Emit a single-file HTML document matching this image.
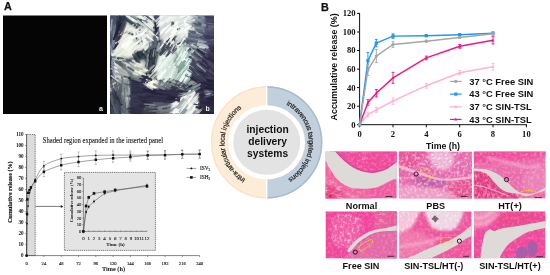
<!DOCTYPE html>
<html><head><meta charset="utf-8"><title>injection delivery systems</title>
<style>
html,body{margin:0;padding:0;background:#fff;}
body{width:550px;height:275px;overflow:hidden;position:relative;}
svg{position:absolute;left:0;top:0;display:block;}
.sb{font-family:"Liberation Sans",Arial,sans-serif;font-weight:bold;fill:#111;}
.ss{font-family:"Liberation Sans",Arial,sans-serif;fill:#222;}
.tb{font-family:"Liberation Serif","Times New Roman",serif;font-weight:bold;fill:#111;}
.tr{font-family:"Liberation Serif","Times New Roman",serif;fill:#222;}
</style></head><body>
<svg width="550" height="275" viewBox="0 0 550 275">
<defs>
<filter id="bl1" x="-5%" y="-5%" width="110%" height="110%"><feGaussianBlur stdDeviation="0.7"/></filter>
<filter id="bl2" x="-5%" y="-5%" width="110%" height="110%"><feGaussianBlur stdDeviation="1.2"/></filter>
<clipPath id="cb"><rect x="110" y="15.5" width="104" height="98.5"/></clipPath>
</defs>

<text x="3.9" y="10.4" class="sb" font-size="10.8" stroke="#111" stroke-width="0.25">A</text>
<rect x="3" y="15.5" width="104" height="98.5" fill="#050505"/>
<text x="99" y="110.5" class="sb" font-size="7" style="fill:#eee">a</text>
<g id="imgb" clip-path="url(#cb)">
<rect x="110" y="15.5" width="104" height="98.5" fill="#2f2d46"/>
<g filter="url(#bl2)"><polygon points="110.0,15.0 115.9,15.0 115.2,33.6 115.0,49.7 110.0,49.7" fill="#6a7386" stroke="#6a7386" stroke-width="0.8"/><polygon points="115.9,15.0 127.6,15.0 126.8,22.4 122.4,33.6 117.4,45.9 115.0,49.7 115.2,33.6" fill="#2e3446" stroke="#2e3446" stroke-width="0.8"/><polygon points="127.6,15.0 147.1,15.0 147.1,28.9 138.5,28.4 132.3,26.4 126.8,22.4" fill="#7f8d92" stroke="#7f8d92" stroke-width="0.8"/><polygon points="126.8,22.4 132.3,26.4 138.5,28.4 147.1,28.9 147.1,50.3 115.0,50.3 117.4,45.9 122.4,33.6" fill="#eceee4" stroke="#eceee4" stroke-width="0.8"/><polygon points="123.6,30.6 132.5,33.1 132.3,34.8 123.4,32.1" fill="#3c4c54" stroke="#3c4c54" stroke-width="0.8"/><polygon points="132.5,33.6 140.9,33.6 142.4,41.6 136.6,44.5 132.0,39.8" fill="#5a6c72" stroke="#5a6c72" stroke-width="0.8"/><polygon points="146.0,15.0 153.7,15.0 154.7,29.9 153.4,39.8 146.0,47.2" fill="#c3ccc8" stroke="#c3ccc8" stroke-width="0.8"/><polygon points="153.7,15.0 159.9,15.0 159.0,22.4 159.9,31.3 162.1,39.8 160.9,50.3 153.2,50.3 153.4,39.8 154.7,29.9" fill="#363a50" stroke="#363a50" stroke-width="0.8"/><polygon points="159.9,15.0 183.1,15.0 183.1,39.8 174.5,37.3 162.1,39.8 159.9,31.3 159.0,22.4" fill="#f1f4ee" stroke="#f1f4ee" stroke-width="0.8"/><polygon points="171.7,22.7 173.7,22.2 173.5,24.9 172.0,25.4" fill="#59646a" stroke="#59646a" stroke-width="0.8"/><polygon points="177.2,27.9 179.4,27.4 179.4,29.4 177.4,29.6" fill="#59646a" stroke="#59646a" stroke-width="0.8"/><polygon points="162.1,39.8 174.5,37.3 183.1,39.8 183.1,50.3 160.9,50.3" fill="#a3adae" stroke="#a3adae" stroke-width="0.8"/><polygon points="146.0,47.2 153.4,39.8 153.2,50.3 146.0,50.3" fill="#a8b2b2" stroke="#a8b2b2" stroke-width="0.8"/><polygon points="180.0,15.0 192.4,15.0 190.5,22.4 191.8,29.9 187.4,39.8 180.0,39.8" fill="#f0f4ee" stroke="#f0f4ee" stroke-width="0.8"/><polygon points="192.4,15.0 205.4,15.0 204.8,50.3 192.4,50.3 187.4,39.8 191.8,29.9 190.5,22.4" fill="#76818f" stroke="#76818f" stroke-width="0.8"/><polygon points="205.4,15.0 214.7,15.0 214.7,50.3 204.8,50.3" fill="#4a4966" stroke="#4a4966" stroke-width="0.8"/><polygon points="180.0,39.8 187.4,39.8 192.4,50.3 180.0,50.3" fill="#4b5860" stroke="#4b5860" stroke-width="0.8"/><polygon points="110.0,47.0 114.0,47.0 113.7,82.3 110.0,82.3" fill="#2c3246" stroke="#2c3246" stroke-width="0.8"/><polygon points="114.0,47.0 134.8,47.0 134.1,54.4 134.8,57.9 114.0,57.4" fill="#e9ecdf" stroke="#e9ecdf" stroke-width="0.8"/><polygon points="114.0,57.4 134.8,57.9 135.4,61.6 114.0,60.9" fill="#4a5058" stroke="#4a5058" stroke-width="0.8"/><polygon points="114.0,62.6 135.4,63.1 132.3,71.8 128.6,76.7 114.0,71.8" fill="#a3aaa8" stroke="#a3aaa8" stroke-width="0.8"/><polygon points="134.1,50.7 147.1,49.5 147.1,60.6 135.4,61.2 134.8,57.9 134.1,54.4" fill="#2d3945" stroke="#2d3945" stroke-width="0.8"/><polygon points="135.4,61.2 147.1,60.6 147.1,76.1 132.3,76.7 132.3,71.8" fill="#cfd4c8" stroke="#cfd4c8" stroke-width="0.8"/><polygon points="114.0,71.8 128.6,76.7 128.6,82.3 114.0,82.3" fill="#cfd4cc" stroke="#cfd4cc" stroke-width="0.8"/><polygon points="128.6,76.7 132.3,76.7 147.1,76.1 147.1,82.3 128.6,82.3" fill="#4c525c" stroke="#4c525c" stroke-width="0.8"/><polygon points="146.0,47.0 160.2,47.0 159.6,54.4 156.5,65.6 146.0,65.6" fill="#2b3139" stroke="#2b3139" stroke-width="0.8"/><polygon points="160.2,47.0 183.1,47.0 183.1,54.7 159.6,54.4" fill="#aab4b4" stroke="#aab4b4" stroke-width="0.8"/><polygon points="159.6,54.4 173.8,54.7 173.2,82.3 155.9,82.3 156.5,65.6" fill="#ecf6ee" stroke="#ecf6ee" stroke-width="0.8"/><polygon points="173.8,54.7 183.1,54.7 183.1,82.3 173.2,82.3" fill="#a6bcb4" stroke="#a6bcb4" stroke-width="0.8"/><polygon points="146.0,65.6 156.5,65.6 155.9,82.3 146.0,82.3" fill="#3a4048" stroke="#3a4048" stroke-width="0.8"/><polygon points="180.0,47.0 196.1,47.0 192.4,54.4 191.8,71.8 188.7,82.3 180.0,82.3" fill="#d7efe1" stroke="#d7efe1" stroke-width="0.8"/><polygon points="196.1,47.0 214.7,47.0 214.7,82.3 188.7,82.3 191.8,71.8 192.4,54.4" fill="#34304c" stroke="#34304c" stroke-width="0.8"/><polygon points="192.4,54.4 199.8,53.2 209.1,63.1 209.7,71.8 198.6,72.4 191.8,71.8" fill="#595d72" stroke="#595d72" stroke-width="0.8"/><polygon points="198.6,47.0 208.7,47.0 208.2,52.0 199.2,51.5" fill="#a9b2b8" stroke="#a9b2b8" stroke-width="0.8"/><polygon points="110.0,80.0 121.4,80.0 121.4,115.3 110.0,115.3" fill="#3c4050" stroke="#3c4050" stroke-width="0.8"/><polygon points="110.0,80.0 121.1,80.0 119.9,88.7 110.0,91.8" fill="#8e9398" stroke="#8e9398" stroke-width="0.8"/><polygon points="121.4,80.0 130.4,80.0 129.8,115.3 121.4,115.3" fill="#727c82" stroke="#727c82" stroke-width="0.8"/><polygon points="123.4,92.4 127.6,91.9 127.3,105.4 123.9,105.4" fill="#b0b8b0" stroke="#b0b8b0" stroke-width="0.8"/><polygon points="130.4,80.0 147.1,80.0 147.1,115.3 129.8,115.3" fill="#33324a" stroke="#33324a" stroke-width="0.8"/><polygon points="146.0,80.0 159.0,80.0 158.4,88.7 146.0,88.9" fill="#e8ead8" stroke="#e8ead8" stroke-width="0.8"/><polygon points="159.0,80.0 183.1,80.0 183.1,91.4 158.4,88.7" fill="#60666f" stroke="#60666f" stroke-width="0.8"/><polygon points="146.0,88.9 158.4,88.7 183.1,91.4 183.1,97.3 174.5,102.5 146.0,102.5" fill="#2c2a42" stroke="#2c2a42" stroke-width="0.8"/><polygon points="146.0,102.5 174.5,102.5 174.7,115.3 146.0,115.3" fill="#5e626d" stroke="#5e626d" stroke-width="0.8"/><polygon points="169.5,106.6 175.7,99.8 183.1,93.6 183.1,115.3 170.8,115.3" fill="#d4dcd8" stroke="#d4dcd8" stroke-width="0.8"/><polygon points="180.0,80.0 198.6,80.0 198.6,95.5 180.0,95.1" fill="#454c57" stroke="#454c57" stroke-width="0.8"/><polygon points="180.0,92.4 194.9,93.0 199.8,97.3 199.8,115.3 180.0,115.3" fill="#ccd5d1" stroke="#ccd5d1" stroke-width="0.8"/><polygon points="198.6,80.0 214.7,80.0 214.7,115.3 198.8,115.3 198.6,95.5" fill="#2a2840" stroke="#2a2840" stroke-width="0.8"/><polygon points="204.8,91.4 212.4,90.9 211.9,96.1 205.2,96.3" fill="#8e98a4" stroke="#8e98a4" stroke-width="0.8"/></g>
<g filter="url(#bl1)" stroke-linecap="round"><path d="M155.9 69.6L159.8 63.4" stroke="#f6fcf6" stroke-width="2.6" opacity="0.77"/><path d="M173.1 40.8L177.1 34.4" stroke="#2a3242" stroke-width="3.0" opacity="0.74"/><path d="M171.4 53.2L175.9 48.1" stroke="#d6dedc" stroke-width="2.0" opacity="0.63"/><path d="M160.2 98.9L171.2 99.8" stroke="#35334c" stroke-width="1.1" opacity="0.85"/><path d="M165.5 72.4L172.0 63.8" stroke="#cbded6" stroke-width="0.9" opacity="0.69"/><path d="M200.6 37.4L208.3 38.9" stroke="#566072" stroke-width="2.3" opacity="0.58"/><path d="M133.8 35.5L135.9 40.8" stroke="#cfd8d2" stroke-width="1.5" opacity="0.62"/><path d="M136.6 13.7L142.8 17.5" stroke="#c4cfcc" stroke-width="1.8" opacity="0.63"/><path d="M185.5 64.8L192.7 56.5" stroke="#f3fff6" stroke-width="2.6" opacity="0.60"/><path d="M144.2 92.0L153.1 93.6" stroke="#25233a" stroke-width="1.0" opacity="0.88"/><path d="M184.6 112.5L191.2 104.8" stroke="#ffffff" stroke-width="2.2" opacity="0.92"/><path d="M180.2 55.0L185.8 48.5" stroke="#d6dedc" stroke-width="2.7" opacity="0.65"/><path d="M125.7 39.9L134.6 33.3" stroke="#f6f7ec" stroke-width="1.9" opacity="0.93"/><path d="M206.5 97.4L211.7 98.0" stroke="#34324c" stroke-width="1.2" opacity="0.58"/><path d="M182.6 58.8L189.2 50.1" stroke="#9cbab2" stroke-width="1.9" opacity="0.64"/><path d="M179.2 64.7L186.1 56.2" stroke="#e6f8ec" stroke-width="2.3" opacity="0.77"/><path d="M160.7 85.1L166.0 77.0" stroke="#f6fcf6" stroke-width="1.4" opacity="0.65"/><path d="M111.3 71.0L116.8 75.2" stroke="#98a0a0" stroke-width="1.5" opacity="0.93"/><path d="M113.0 46.0L114.6 56.9" stroke="#4a5468" stroke-width="1.8" opacity="0.63"/><path d="M193.8 55.7L202.4 62.5" stroke="#4c4a64" stroke-width="0.9" opacity="0.81"/><path d="M121.6 29.6L117.8 39.9" stroke="#262b3c" stroke-width="1.4" opacity="0.94"/><path d="M207.1 46.7L213.3 51.4" stroke="#28263e" stroke-width="1.9" opacity="0.72"/><path d="M208.6 110.1L213.0 110.6" stroke="#222036" stroke-width="1.0" opacity="0.55"/><path d="M138.1 39.7L139.2 42.6" stroke="#2a3a42" stroke-width="2.0" opacity="0.67"/><path d="M148.2 96.9L159.0 99.0" stroke="#25233a" stroke-width="1.5" opacity="0.64"/><path d="M152.9 39.0L153.8 47.8" stroke="#262a3c" stroke-width="2.3" opacity="0.61"/><path d="M153.0 107.2L164.0 106.6" stroke="#7a808a" stroke-width="2.0" opacity="0.60"/><path d="M169.4 93.0L180.4 94.0" stroke="#35334c" stroke-width="1.7" opacity="0.90"/><path d="M159.7 89.7L170.5 91.8" stroke="#25233a" stroke-width="1.1" opacity="0.80"/><path d="M174.9 86.8L184.0 89.9" stroke="#9aa2a4" stroke-width="0.9" opacity="0.86"/><path d="M119.4 104.8L121.6 112.4" stroke="#2c2e3e" stroke-width="2.0" opacity="0.69"/><path d="M195.9 92.0L203.6 93.0" stroke="#34324c" stroke-width="0.8" opacity="0.94"/><path d="M203.5 63.5L212.2 70.2" stroke="#423f5a" stroke-width="2.3" opacity="0.63"/><path d="M192.4 33.2L200.9 34.9" stroke="#8a96a4" stroke-width="1.5" opacity="0.62"/><path d="M197.6 55.7L207.0 61.4" stroke="#423f5a" stroke-width="1.8" opacity="0.90"/><path d="M141.8 114.1L148.0 114.7" stroke="#2b2a42" stroke-width="2.1" opacity="0.69"/><path d="M117.6 43.5L124.7 39.4" stroke="#d2dad4" stroke-width="1.7" opacity="0.61"/><path d="M139.3 47.4L148.1 41.1" stroke="#ffffff" stroke-width="2.1" opacity="0.63"/><path d="M181.6 87.1L186.2 84.7" stroke="#1c2030" stroke-width="1.3" opacity="0.76"/><path d="M159.4 97.9L170.2 100.2" stroke="#25233a" stroke-width="2.6" opacity="0.78"/><path d="M144.4 110.7L152.4 110.4" stroke="#464a58" stroke-width="1.3" opacity="0.89"/><path d="M176.3 73.7L182.1 65.5" stroke="#e0f0e6" stroke-width="1.0" opacity="0.77"/><path d="M189.3 63.1L198.6 68.9" stroke="#4c4a64" stroke-width="2.5" opacity="0.85"/><path d="M144.8 17.6L150.3 22.2" stroke="#7d8a8e" stroke-width="2.1" opacity="0.89"/><path d="M156.1 11.7L157.3 22.6" stroke="#5c6674" stroke-width="1.2" opacity="0.92"/><path d="M145.1 103.4L152.9 103.2" stroke="#7a808a" stroke-width="2.5" opacity="0.85"/><path d="M109.2 62.4L111.6 72.9" stroke="#4a5468" stroke-width="1.9" opacity="0.88"/><path d="M149.4 94.4L157.9 95.3" stroke="#35334c" stroke-width="2.6" opacity="0.57"/><path d="M175.4 66.2L182.3 57.6" stroke="#86a098" stroke-width="1.9" opacity="0.65"/><path d="M176.9 90.8L186.8 86.2" stroke="#8e9a9c" stroke-width="2.4" opacity="0.94"/><path d="M121.5 68.1L129.2 73.4" stroke="#c6ccc8" stroke-width="2.3" opacity="0.88"/><path d="M163.8 110.2L174.8 110.2" stroke="#464a58" stroke-width="2.3" opacity="0.93"/><path d="M207.8 59.7L217.1 65.6" stroke="#28263e" stroke-width="1.9" opacity="0.80"/><path d="M131.6 104.9L137.7 105.4" stroke="#2b2a42" stroke-width="1.7" opacity="0.78"/><path d="M158.8 41.9L159.5 52.9" stroke="#5c6674" stroke-width="1.2" opacity="0.80"/><path d="M199.8 94.1L204.9 95.2" stroke="#34324c" stroke-width="0.9" opacity="0.62"/><path d="M109.3 61.1L111.1 71.0" stroke="#1c2032" stroke-width="1.6" opacity="0.55"/><path d="M156.7 46.0L154.9 56.0" stroke="#67727a" stroke-width="1.8" opacity="0.86"/><path d="M160.7 38.9L166.2 33.5" stroke="#cad3d0" stroke-width="2.0" opacity="0.60"/><path d="M114.9 106.0L117.3 116.7" stroke="#5a6270" stroke-width="0.9" opacity="0.68"/><path d="M165.6 43.7L168.8 38.2" stroke="#2a3242" stroke-width="2.3" opacity="0.92"/><path d="M191.3 87.4L200.9 82.0" stroke="#1c2030" stroke-width="2.3" opacity="0.76"/><path d="M186.2 115.7L190.6 109.9" stroke="#98a4a4" stroke-width="1.3" opacity="0.75"/><path d="M145.2 69.4L148.5 70.8" stroke="#f6f7ea" stroke-width="1.9" opacity="0.93"/><path d="M172.0 116.7L178.5 108.6" stroke="#ffffff" stroke-width="1.7" opacity="0.66"/><path d="M182.0 116.1L185.3 111.6" stroke="#e0e6e2" stroke-width="2.0" opacity="0.94"/><path d="M114.0 62.7L117.7 65.3" stroke="#e6eae4" stroke-width="1.9" opacity="0.93"/><path d="M133.0 81.4L137.8 83.1" stroke="#2a2e3c" stroke-width="2.3" opacity="0.73"/><path d="M111.9 10.6L111.0 21.5" stroke="#525a6e" stroke-width="2.0" opacity="0.75"/><path d="M190.8 44.3L196.1 45.5" stroke="#b4bec6" stroke-width="1.3" opacity="0.61"/><path d="M170.0 37.1L178.1 29.7" stroke="#ffffff" stroke-width="1.6" opacity="0.61"/><path d="M172.5 52.5L175.7 47.1" stroke="#ffffff" stroke-width="1.5" opacity="0.86"/><path d="M187.7 114.7L194.4 106.0" stroke="#98a4a4" stroke-width="0.9" opacity="0.94"/><path d="M135.0 73.3L141.7 76.7" stroke="#a8b0a8" stroke-width="2.4" opacity="0.85"/><path d="M203.8 113.6L209.2 114.5" stroke="#222036" stroke-width="1.4" opacity="0.58"/><path d="M167.8 81.9L175.5 84.7" stroke="#343848" stroke-width="1.9" opacity="0.70"/><path d="M121.9 75.7L122.9 86.2" stroke="#566066" stroke-width="2.2" opacity="0.86"/><path d="M207.9 49.9L216.8 56.3" stroke="#423f5a" stroke-width="1.9" opacity="0.60"/><path d="M203.3 105.3L212.5 106.4" stroke="#34324c" stroke-width="1.2" opacity="0.67"/><path d="M117.4 99.2L119.8 107.8" stroke="#2c2e3e" stroke-width="1.1" opacity="0.76"/><path d="M165.8 86.0L172.0 77.0" stroke="#f6fcf6" stroke-width="1.2" opacity="0.66"/><path d="M113.4 80.1L116.5 89.3" stroke="#4c5262" stroke-width="0.9" opacity="0.76"/><path d="M187.4 74.3L193.3 78.9" stroke="#423f5a" stroke-width="0.9" opacity="0.56"/><path d="M114.0 21.3L113.1 29.0" stroke="#525a6e" stroke-width="1.7" opacity="0.81"/><path d="M117.7 108.9L120.8 119.5" stroke="#4c5262" stroke-width="2.2" opacity="0.63"/><path d="M199.3 98.7L205.7 99.7" stroke="#34324c" stroke-width="2.4" opacity="0.81"/><path d="M174.1 74.7L177.6 69.2" stroke="#6e8682" stroke-width="2.2" opacity="0.76"/><path d="M174.6 71.2L181.0 62.8" stroke="#86a098" stroke-width="1.3" opacity="0.91"/><path d="M188.4 55.6L194.7 46.6" stroke="#f3fff6" stroke-width="0.9" opacity="0.91"/><path d="M139.5 101.0L145.9 101.6" stroke="#3c3b54" stroke-width="1.9" opacity="0.93"/><path d="M124.8 62.1L133.0 67.4" stroke="#f4f6f0" stroke-width="0.9" opacity="0.72"/><path d="M132.9 19.4L142.6 24.6" stroke="#f5f7f2" stroke-width="2.9" opacity="0.77"/><path d="M110.9 50.9L112.8 61.7" stroke="#4a5468" stroke-width="1.8" opacity="0.69"/><path d="M129.7 103.0L139.3 103.5" stroke="#3c3b54" stroke-width="1.3" opacity="0.78"/><path d="M147.4 25.4L152.9 30.4" stroke="#7d8a8e" stroke-width="2.6" opacity="0.82"/><path d="M144.5 102.0L149.6 102.3" stroke="#3c3b54" stroke-width="2.1" opacity="0.64"/><path d="M171.5 52.4L175.1 46.1" stroke="#2a3242" stroke-width="1.4" opacity="0.66"/><path d="M131.5 24.4L140.0 30.0" stroke="#46565e" stroke-width="2.1" opacity="0.67"/><path d="M138.4 114.5L144.6 115.2" stroke="#2b2a42" stroke-width="2.5" opacity="0.90"/><path d="M197.6 92.5L207.0 94.1" stroke="#34324c" stroke-width="1.3" opacity="0.91"/><path d="M141.5 84.1L145.6 84.4" stroke="#3c3b54" stroke-width="2.0" opacity="0.89"/><path d="M192.3 18.0L199.8 19.9" stroke="#9aa6b2" stroke-width="2.4" opacity="0.71"/><path d="M130.6 79.9L137.5 80.1" stroke="#3c3b54" stroke-width="2.4" opacity="0.72"/><path d="M168.3 78.8L177.7 83.2" stroke="#9aa2a4" stroke-width="2.4" opacity="0.81"/><path d="M211.0 22.6L214.0 23.0" stroke="#39385a" stroke-width="1.3" opacity="0.56"/><path d="M163.9 32.0L172.2 24.7" stroke="#cad3d0" stroke-width="1.6" opacity="0.79"/><path d="M180.1 68.4L187.2 59.9" stroke="#f3fff6" stroke-width="0.9" opacity="0.57"/><path d="M155.7 106.1L166.7 105.3" stroke="#7a808a" stroke-width="1.6" opacity="0.88"/><path d="M195.8 72.0L202.0 77.0" stroke="#4c4a64" stroke-width="2.5" opacity="0.91"/><path d="M161.2 32.4L168.1 26.2" stroke="#ffffff" stroke-width="2.0" opacity="0.73"/><path d="M114.5 14.0L114.2 25.0" stroke="#525a6e" stroke-width="0.8" opacity="0.90"/><path d="M165.7 73.8L169.7 67.8" stroke="#dcebe2" stroke-width="1.7" opacity="0.85"/><path d="M172.1 37.0L179.3 29.4" stroke="#dde4e0" stroke-width="0.9" opacity="0.66"/><path d="M186.2 52.5L193.5 44.2" stroke="#e6f8ec" stroke-width="2.0" opacity="0.56"/><path d="M191.1 95.4L194.4 90.6" stroke="#ffffff" stroke-width="2.0" opacity="0.64"/><path d="M182.1 74.3L187.1 67.7" stroke="#9cbab2" stroke-width="2.0" opacity="0.88"/><path d="M192.1 67.3L198.2 72.1" stroke="#8a92a0" stroke-width="2.1" opacity="0.78"/><path d="M140.9 103.4L146.7 104.0" stroke="#3c3b54" stroke-width="0.8" opacity="0.64"/><path d="M187.5 83.7L192.4 80.9" stroke="#8e9a9c" stroke-width="1.6" opacity="0.87"/><path d="M202.3 36.6L209.5 38.1" stroke="#39385a" stroke-width="1.7" opacity="0.57"/><path d="M140.6 80.2L148.9 81.0" stroke="#3c3b54" stroke-width="1.3" opacity="0.63"/><path d="M115.1 59.4L120.1 60.2" stroke="#7a8288" stroke-width="2.2" opacity="0.55"/><path d="M184.0 112.8L190.8 104.1" stroke="#f0f4ee" stroke-width="1.9" opacity="0.62"/><path d="M112.5 65.8L116.7 68.3" stroke="#f4f6f0" stroke-width="2.0" opacity="0.80"/><path d="M163.5 60.9L169.6 51.8" stroke="#ffffff" stroke-width="2.5" opacity="0.75"/><path d="M185.6 33.5L193.7 28.8" stroke="#dfe6e2" stroke-width="2.1" opacity="0.93"/><path d="M143.1 80.1L149.5 74.2" stroke="#22262e" stroke-width="2.2" opacity="0.82"/><path d="M191.1 40.9L197.9 42.1" stroke="#434a60" stroke-width="1.4" opacity="0.83"/><path d="M195.5 48.4L204.3 55.0" stroke="#423f5a" stroke-width="2.5" opacity="0.56"/><path d="M177.8 61.6L183.4 52.5" stroke="#6e8682" stroke-width="1.2" opacity="0.73"/><path d="M148.5 83.4L153.7 78.4" stroke="#c9d0cc" stroke-width="1.9" opacity="0.65"/><path d="M158.2 27.2L159.3 37.4" stroke="#1d2030" stroke-width="1.2" opacity="0.65"/><path d="M122.1 104.1L121.8 113.2" stroke="#8e989a" stroke-width="2.1" opacity="0.77"/><path d="M157.9 10.6L159.0 21.6" stroke="#262a3c" stroke-width="1.7" opacity="0.77"/><path d="M177.4 80.0L184.8 71.8" stroke="#e6f8ec" stroke-width="1.1" opacity="0.85"/><path d="M110.6 45.8L112.1 56.7" stroke="#8894a4" stroke-width="1.9" opacity="0.65"/><path d="M173.2 85.5L178.9 76.3" stroke="#c6dad0" stroke-width="2.1" opacity="0.74"/><path d="M195.2 68.2L204.1 74.7" stroke="#28263e" stroke-width="1.7" opacity="0.70"/><path d="M152.2 73.0L155.4 69.8" stroke="#c9d0cc" stroke-width="1.3" opacity="0.75"/><path d="M184.6 112.4L191.1 103.6" stroke="#ffffff" stroke-width="1.1" opacity="0.83"/><path d="M114.3 15.2L113.1 23.6" stroke="#454c60" stroke-width="1.1" opacity="0.61"/><path d="M207.9 64.9L216.9 71.2" stroke="#4c4a64" stroke-width="1.7" opacity="0.59"/><path d="M182.4 118.8L188.4 110.0" stroke="#98a4a4" stroke-width="0.9" opacity="0.65"/><path d="M176.8 21.2L183.0 15.0" stroke="#dde4e0" stroke-width="2.3" opacity="0.87"/><path d="M122.4 99.0L123.5 109.9" stroke="#8e989a" stroke-width="2.0" opacity="0.82"/><path d="M181.2 52.9L187.8 44.9" stroke="#ffffff" stroke-width="1.7" opacity="0.64"/><path d="M179.3 107.5L186.4 99.8" stroke="#aab4b2" stroke-width="2.3" opacity="0.67"/><path d="M173.0 31.5L178.5 25.5" stroke="#ffffff" stroke-width="1.8" opacity="0.91"/><path d="M155.5 17.4L156.6 25.1" stroke="#4a5064" stroke-width="2.3" opacity="0.90"/><path d="M133.8 71.3L137.4 73.2" stroke="#8c9690" stroke-width="2.3" opacity="0.75"/><path d="M130.1 62.8L138.0 67.2" stroke="#c6ccc8" stroke-width="1.6" opacity="0.91"/><path d="M147.4 110.9L156.5 110.2" stroke="#464a58" stroke-width="2.1" opacity="0.61"/><path d="M119.9 101.1L122.6 111.8" stroke="#4c5262" stroke-width="2.4" opacity="0.87"/><path d="M119.1 108.9L120.9 116.8" stroke="#2c2e3e" stroke-width="2.3" opacity="0.89"/><path d="M140.3 16.0L145.0 19.3" stroke="#e8eeea" stroke-width="1.5" opacity="0.59"/><path d="M155.2 47.3L153.2 55.9" stroke="#67727a" stroke-width="2.1" opacity="0.77"/><path d="M196.0 77.7L204.7 84.4" stroke="#423f5a" stroke-width="1.6" opacity="0.73"/><path d="M162.9 92.0L173.8 94.0" stroke="#35334c" stroke-width="2.0" opacity="0.77"/><path d="M126.7 102.7L127.0 105.4" stroke="#d0d6cc" stroke-width="1.7" opacity="0.78"/><path d="M139.4 92.1L144.2 92.5" stroke="#2b2a42" stroke-width="1.9" opacity="0.92"/><path d="M164.9 90.8L175.8 92.2" stroke="#35334c" stroke-width="1.4" opacity="0.83"/><path d="M118.8 26.1L116.1 36.8" stroke="#3e4558" stroke-width="1.1" opacity="0.66"/><path d="M204.9 45.7L210.8 46.9" stroke="#6c7088" stroke-width="2.1" opacity="0.65"/><path d="M159.0 37.2L164.4 31.8" stroke="#dde4e0" stroke-width="1.0" opacity="0.59"/><path d="M170.5 20.6L178.6 13.1" stroke="#dde4e0" stroke-width="0.9" opacity="0.75"/><path d="M110.9 96.6L113.6 107.2" stroke="#5a6270" stroke-width="2.0" opacity="0.87"/><path d="M125.7 82.7L125.6 93.7" stroke="#566066" stroke-width="1.5" opacity="0.62"/><path d="M190.5 50.5L199.6 56.6" stroke="#4c4a64" stroke-width="1.5" opacity="0.93"/><path d="M167.4 38.1L172.0 33.1" stroke="#dde4e0" stroke-width="1.8" opacity="0.82"/><path d="M198.0 37.2L204.4 38.5" stroke="#9aa6b2" stroke-width="3.0" opacity="0.63"/><path d="M161.3 31.5L169.0 23.6" stroke="#fafbf6" stroke-width="1.5" opacity="0.82"/><path d="M155.8 25.4L156.2 36.4" stroke="#1d2030" stroke-width="1.5" opacity="0.70"/><path d="M120.4 32.1L130.2 27.2" stroke="#ffffff" stroke-width="1.3" opacity="0.76"/><path d="M117.9 72.8L124.1 76.6" stroke="#98a0a0" stroke-width="2.3" opacity="0.76"/><path d="M193.6 39.8L202.3 41.5" stroke="#b4bec6" stroke-width="2.6" opacity="0.65"/><path d="M211.8 38.5L215.9 39.1" stroke="#39385a" stroke-width="2.5" opacity="0.82"/><path d="M111.6 54.3L113.7 65.1" stroke="#4a5468" stroke-width="1.6" opacity="0.88"/><path d="M176.8 21.1L184.5 13.2" stroke="#fafbf6" stroke-width="2.6" opacity="0.88"/><path d="M189.2 53.6L194.5 46.8" stroke="#b4d0c6" stroke-width="1.5" opacity="0.65"/><path d="M189.2 87.1L195.2 83.7" stroke="#1c2030" stroke-width="1.2" opacity="0.81"/><path d="M203.2 62.4L208.2 67.1" stroke="#2e2c46" stroke-width="2.1" opacity="0.95"/><path d="M177.2 59.7L184.0 51.1" stroke="#f3fff6" stroke-width="1.9" opacity="0.84"/><path d="M168.6 86.8L177.5 90.0" stroke="#343848" stroke-width="1.2" opacity="0.80"/><path d="M198.2 79.1L204.0 83.4" stroke="#28263e" stroke-width="2.1" opacity="0.77"/><path d="M176.9 28.7L183.6 22.7" stroke="#dde4e0" stroke-width="1.3" opacity="0.71"/><path d="M199.1 81.0L208.1 82.8" stroke="#34324c" stroke-width="1.1" opacity="0.95"/><path d="M140.7 21.3L148.3 25.6" stroke="#c4cfcc" stroke-width="2.2" opacity="0.63"/><path d="M176.1 70.3L181.9 61.0" stroke="#e0f0e6" stroke-width="0.8" opacity="0.74"/><path d="M132.9 60.4L140.3 63.5" stroke="#eceee2" stroke-width="2.5" opacity="0.85"/><path d="M191.9 49.5L200.6 56.2" stroke="#4c4a64" stroke-width="1.4" opacity="0.78"/><path d="M164.1 35.2L171.7 27.3" stroke="#fafbf6" stroke-width="1.4" opacity="0.58"/><path d="M209.7 36.7L215.5 38.1" stroke="#39385a" stroke-width="2.2" opacity="0.91"/><path d="M200.2 94.7L208.1 96.6" stroke="#34324c" stroke-width="2.4" opacity="0.57"/><path d="M201.3 64.9L205.2 68.1" stroke="#2e2c46" stroke-width="2.3" opacity="0.67"/><path d="M121.1 34.0L117.5 44.4" stroke="#262b3c" stroke-width="2.3" opacity="0.83"/><path d="M170.2 79.1L178.2 81.9" stroke="#444a56" stroke-width="2.0" opacity="0.77"/><path d="M113.1 88.3L116.5 98.8" stroke="#2c2e3e" stroke-width="2.1" opacity="0.90"/><path d="M204.1 62.1L209.7 67.5" stroke="#a4acb4" stroke-width="2.2" opacity="0.76"/><path d="M142.9 113.1L153.8 112.6" stroke="#464a58" stroke-width="1.5" opacity="0.85"/><path d="M157.5 46.5L156.6 52.8" stroke="#454e58" stroke-width="2.3" opacity="0.88"/><path d="M163.9 79.9L174.1 84.2" stroke="#444a56" stroke-width="2.5" opacity="0.63"/><path d="M195.2 36.0L200.5 37.2" stroke="#434a60" stroke-width="1.5" opacity="0.92"/><path d="M169.1 76.0L175.1 66.8" stroke="#f6fcf6" stroke-width="2.1" opacity="0.83"/><path d="M177.4 52.0L183.5 44.0" stroke="#e6f8ec" stroke-width="2.0" opacity="0.85"/><path d="M140.4 81.7L147.1 82.3" stroke="#2b2a42" stroke-width="1.9" opacity="0.88"/><path d="M201.8 62.0L210.8 68.3" stroke="#4c4a64" stroke-width="1.3" opacity="0.55"/><path d="M117.7 93.7L120.6 104.3" stroke="#2c2e3e" stroke-width="2.3" opacity="0.79"/><path d="M120.0 32.1L129.1 25.8" stroke="#e3e8df" stroke-width="2.6" opacity="0.76"/><path d="M119.4 24.0L116.2 34.5" stroke="#1e2232" stroke-width="1.9" opacity="0.91"/><path d="M177.2 70.4L184.4 62.1" stroke="#ffffff" stroke-width="1.2" opacity="0.94"/><path d="M210.8 99.5L215.8 100.7" stroke="#222036" stroke-width="1.2" opacity="0.66"/><path d="M134.2 17.4L142.6 22.5" stroke="#33434c" stroke-width="2.6" opacity="0.75"/><path d="M209.1 39.0L213.9 39.8" stroke="#6c7088" stroke-width="1.2" opacity="0.78"/><path d="M196.2 52.5L203.3 58.6" stroke="#8a92a0" stroke-width="1.3" opacity="0.60"/><path d="M144.3 73.2L149.6 75.3" stroke="#8c9690" stroke-width="2.3" opacity="0.93"/><path d="M179.1 77.9L182.9 73.0" stroke="#e0f0e6" stroke-width="2.5" opacity="0.56"/><path d="M155.5 96.7L166.3 98.6" stroke="#35334c" stroke-width="1.0" opacity="0.94"/><path d="M126.2 100.3L126.1 103.5" stroke="#d0d6cc" stroke-width="2.0" opacity="0.86"/><path d="M168.3 63.7L174.5 54.7" stroke="#dcebe2" stroke-width="1.4" opacity="0.91"/><path d="M136.6 59.1L138.3 62.2" stroke="#3f4c58" stroke-width="2.5" opacity="0.89"/><path d="M207.2 23.1L214.3 24.0" stroke="#6c7088" stroke-width="1.0" opacity="0.80"/><path d="M152.0 71.1L157.4 65.4" stroke="#e4e8e2" stroke-width="1.3" opacity="0.89"/><path d="M172.1 23.1L178.7 15.7" stroke="#cad3d0" stroke-width="0.8" opacity="0.71"/><path d="M181.9 21.1L188.6 16.8" stroke="#ffffff" stroke-width="2.5" opacity="0.69"/><path d="M114.2 55.7L119.6 52.2" stroke="#d6dcd0" stroke-width="1.2" opacity="0.90"/><path d="M184.3 24.9L194.1 20.0" stroke="#ffffff" stroke-width="2.6" opacity="0.67"/><path d="M208.6 109.1L215.8 110.8" stroke="#222036" stroke-width="1.4" opacity="0.92"/><path d="M196.0 22.1L200.9 23.5" stroke="#434a60" stroke-width="1.1" opacity="0.78"/><path d="M194.1 87.2L201.0 82.9" stroke="#262a38" stroke-width="1.0" opacity="0.83"/><path d="M172.7 95.7L183.2 96.7" stroke="#35334c" stroke-width="1.3" opacity="0.82"/><path d="M121.5 51.5L129.4 43.9" stroke="#f6f7ec" stroke-width="1.6" opacity="0.87"/><path d="M184.5 80.3L191.6 71.9" stroke="#e6f8ec" stroke-width="2.0" opacity="0.76"/><path d="M151.9 98.7L162.8 99.8" stroke="#25233a" stroke-width="1.3" opacity="0.59"/><path d="M117.2 65.1L123.4 68.5" stroke="#c6ccc8" stroke-width="2.1" opacity="0.56"/><path d="M208.8 89.8L218.1 91.3" stroke="#222036" stroke-width="1.5" opacity="0.66"/><path d="M143.2 16.0L149.3 21.3" stroke="#98a4a4" stroke-width="1.9" opacity="0.57"/><path d="M113.0 51.5L122.0 45.6" stroke="#f4f5e8" stroke-width="0.9" opacity="0.82"/><path d="M176.2 49.8L179.7 45.8" stroke="#384250" stroke-width="1.5" opacity="0.55"/><path d="M201.2 51.6L207.2 56.2" stroke="#4c4a64" stroke-width="2.2" opacity="0.88"/><path d="M125.3 57.7L133.5 52.9" stroke="#f4f5e8" stroke-width="1.2" opacity="0.58"/><path d="M167.8 49.3L173.2 41.3" stroke="#f8faf4" stroke-width="1.9" opacity="0.60"/><path d="M163.8 47.5L166.2 43.2" stroke="#d4dcd8" stroke-width="1.9" opacity="0.61"/><path d="M157.2 30.9L158.3 39.1" stroke="#4a5064" stroke-width="1.1" opacity="0.92"/><path d="M190.5 52.9L195.2 57.2" stroke="#8a92a0" stroke-width="2.2" opacity="0.77"/><path d="M159.6 77.8L165.4 70.2" stroke="#ffffff" stroke-width="1.8" opacity="0.82"/><path d="M188.8 59.8L195.4 66.6" stroke="#3a3a54" stroke-width="1.7" opacity="0.60"/><path d="M206.0 108.9L214.5 110.4" stroke="#222036" stroke-width="1.4" opacity="0.70"/><path d="M143.0 31.3L149.2 36.4" stroke="#98a4a4" stroke-width="1.3" opacity="0.85"/><path d="M197.3 23.3L205.4 25.2" stroke="#9aa6b2" stroke-width="1.9" opacity="0.71"/><path d="M180.0 112.8L183.5 108.7" stroke="#78848a" stroke-width="1.3" opacity="0.76"/><path d="M192.3 15.6L200.1 17.2" stroke="#434a60" stroke-width="2.6" opacity="0.71"/><path d="M136.3 53.8L139.6 60.5" stroke="#3f4c58" stroke-width="2.0" opacity="0.59"/><path d="M180.2 33.7L184.7 31.2" stroke="#dfe6e2" stroke-width="0.9" opacity="0.93"/><path d="M209.0 25.9L215.2 26.6" stroke="#6c7088" stroke-width="1.3" opacity="0.90"/><path d="M180.3 81.4L186.6 73.2" stroke="#9cbab2" stroke-width="1.2" opacity="0.59"/><path d="M111.4 34.8L111.0 42.0" stroke="#454c60" stroke-width="2.2" opacity="0.60"/><path d="M120.1 74.5L123.7 76.9" stroke="#98a0a0" stroke-width="1.2" opacity="0.63"/><path d="M176.4 39.4L183.3 31.9" stroke="#cad3d0" stroke-width="2.4" opacity="0.58"/><path d="M125.4 96.9L126.4 107.8" stroke="#8e989a" stroke-width="1.1" opacity="0.76"/><path d="M137.5 23.5L141.5 26.4" stroke="#33434c" stroke-width="1.9" opacity="0.76"/><path d="M162.7 110.5L173.1 109.8" stroke="#464a58" stroke-width="1.8" opacity="0.71"/><path d="M178.3 83.3L184.9 74.7" stroke="#ffffff" stroke-width="2.4" opacity="0.89"/><path d="M119.8 16.2L117.1 25.5" stroke="#262b3c" stroke-width="1.5" opacity="0.76"/><path d="M123.4 48.2L132.9 42.7" stroke="#fdfdf5" stroke-width="2.4" opacity="0.93"/><path d="M192.1 87.8L196.3 85.5" stroke="#8e9a9c" stroke-width="2.4" opacity="0.75"/><path d="M146.7 115.0L157.2 113.8" stroke="#464a58" stroke-width="1.0" opacity="0.80"/><path d="M160.4 57.6L164.6 51.9" stroke="#cbded6" stroke-width="0.9" opacity="0.64"/><path d="M134.9 65.3L139.3 67.2" stroke="#eceee2" stroke-width="1.8" opacity="0.85"/><path d="M143.7 93.2L150.1 93.7" stroke="#3c3b54" stroke-width="2.6" opacity="0.71"/><path d="M206.0 61.2L214.8 67.8" stroke="#4c4a64" stroke-width="2.0" opacity="0.84"/><path d="M194.7 76.5L201.9 82.0" stroke="#28263e" stroke-width="1.1" opacity="0.90"/><path d="M209.3 45.8L217.9 52.6" stroke="#28263e" stroke-width="2.4" opacity="0.55"/><path d="M153.6 53.2L152.7 60.0" stroke="#454e58" stroke-width="0.8" opacity="0.79"/><path d="M189.1 36.2L197.7 37.8" stroke="#566072" stroke-width="2.8" opacity="0.83"/><path d="M149.2 79.5L153.6 82.3" stroke="#fcfcee" stroke-width="1.5" opacity="0.85"/><path d="M194.0 93.7L200.7 90.1" stroke="#262a38" stroke-width="1.7" opacity="0.69"/><path d="M182.1 53.2L188.2 44.1" stroke="#9cbab2" stroke-width="1.0" opacity="0.94"/><path d="M110.6 52.6L112.6 63.4" stroke="#4a5468" stroke-width="2.4" opacity="0.81"/><path d="M185.1 67.1L191.8 58.4" stroke="#ffffff" stroke-width="1.2" opacity="0.85"/><path d="M125.6 90.6L125.9 101.6" stroke="#8e989a" stroke-width="2.6" opacity="0.62"/><path d="M198.0 39.3L206.8 41.5" stroke="#566072" stroke-width="1.5" opacity="0.87"/><path d="M112.7 80.2L116.5 83.2" stroke="#98a0a0" stroke-width="1.8" opacity="0.57"/><path d="M130.2 114.6L139.2 115.0" stroke="#3c3b54" stroke-width="0.9" opacity="0.80"/><path d="M154.8 40.5L156.1 51.5" stroke="#1d2030" stroke-width="0.9" opacity="0.61"/><path d="M170.6 64.9L177.1 56.1" stroke="#86a098" stroke-width="2.5" opacity="0.81"/><path d="M157.1 81.4L163.1 72.2" stroke="#cbded6" stroke-width="1.8" opacity="0.86"/><path d="M204.5 47.3L208.4 47.8" stroke="#7c8694" stroke-width="1.5" opacity="0.61"/><path d="M143.5 89.6L154.1 90.4" stroke="#25233a" stroke-width="2.1" opacity="0.88"/><path d="M177.3 44.4L179.6 40.2" stroke="#ffffff" stroke-width="3.0" opacity="0.57"/><path d="M165.1 26.6L170.7 21.5" stroke="#cad3d0" stroke-width="1.8" opacity="0.76"/><path d="M171.1 79.6L177.7 70.9" stroke="#c6dad0" stroke-width="2.6" opacity="0.84"/><path d="M111.5 45.8L110.7 53.2" stroke="#525a6e" stroke-width="1.2" opacity="0.65"/><path d="M189.5 55.6L196.1 46.9" stroke="#e6f8ec" stroke-width="1.9" opacity="0.90"/><path d="M108.9 90.9L112.7 88.8" stroke="#6a6e76" stroke-width="1.7" opacity="0.62"/><path d="M163.9 110.1L174.9 110.1" stroke="#8e959c" stroke-width="1.6" opacity="0.87"/><path d="M150.8 106.5L157.2 106.5" stroke="#353848" stroke-width="1.9" opacity="0.77"/><path d="M167.1 47.4L170.5 42.4" stroke="#d4dcd8" stroke-width="2.2" opacity="0.80"/><path d="M142.2 104.9L148.0 105.8" stroke="#2b2a42" stroke-width="1.1" opacity="0.56"/><path d="M130.8 39.7L140.4 34.3" stroke="#d2dad4" stroke-width="2.4" opacity="0.65"/><path d="M154.6 92.6L164.3 94.4" stroke="#25233a" stroke-width="1.2" opacity="0.92"/><path d="M122.7 50.6L130.4 46.2" stroke="#f4f5e8" stroke-width="2.2" opacity="0.86"/><path d="M194.2 59.8L201.8 65.7" stroke="#4c4a64" stroke-width="0.9" opacity="0.75"/><path d="M190.1 26.2L199.0 27.8" stroke="#8a96a4" stroke-width="1.9" opacity="0.71"/><path d="M157.4 74.3L164.2 65.6" stroke="#cbded6" stroke-width="0.9" opacity="0.81"/><path d="M148.5 82.4L151.8 79.1" stroke="#e4e8e2" stroke-width="1.3" opacity="0.80"/><path d="M167.9 54.2L172.8 47.6" stroke="#2c3440" stroke-width="2.8" opacity="0.59"/><path d="M205.0 48.9L213.8 55.5" stroke="#423f5a" stroke-width="2.0" opacity="0.85"/><path d="M161.8 82.3L169.3 85.9" stroke="#343848" stroke-width="2.2" opacity="0.79"/><path d="M195.8 45.6L205.2 51.4" stroke="#423f5a" stroke-width="1.0" opacity="0.93"/><path d="M207.7 98.5L217.4 99.7" stroke="#222036" stroke-width="1.1" opacity="0.61"/><path d="M196.2 66.7L205.6 72.4" stroke="#4c4a64" stroke-width="0.9" opacity="0.87"/><path d="M127.0 109.0L127.5 120.0" stroke="#566066" stroke-width="0.9" opacity="0.64"/><path d="M179.4 113.6L186.5 105.2" stroke="#e0e6e2" stroke-width="1.8" opacity="0.85"/><path d="M168.8 97.1L179.8 97.9" stroke="#25233a" stroke-width="2.0" opacity="0.88"/><path d="M208.7 59.2L217.5 65.9" stroke="#28263e" stroke-width="2.0" opacity="0.94"/><path d="M202.9 15.9L208.5 17.3" stroke="#39385a" stroke-width="0.9" opacity="0.59"/><path d="M205.9 76.3L215.1 82.4" stroke="#4c4a64" stroke-width="1.7" opacity="0.94"/><path d="M169.6 55.0L172.7 51.4" stroke="#f2f5ef" stroke-width="1.1" opacity="0.68"/><path d="M115.7 52.1L125.8 47.7" stroke="#d2dad4" stroke-width="1.9" opacity="0.81"/><path d="M197.0 45.0L205.8 51.0" stroke="#423f5a" stroke-width="1.1" opacity="0.62"/><path d="M115.8 9.6L114.2 20.5" stroke="#454c60" stroke-width="1.6" opacity="0.78"/><path d="M178.7 68.7L185.1 59.8" stroke="#86a098" stroke-width="1.1" opacity="0.82"/><path d="M202.7 94.3L211.3 95.5" stroke="#34324c" stroke-width="1.3" opacity="0.86"/><path d="M145.4 91.0L156.4 92.0" stroke="#25233a" stroke-width="2.0" opacity="0.65"/><path d="M173.8 110.5L177.3 106.3" stroke="#f4f8f4" stroke-width="1.2" opacity="0.71"/><path d="M155.3 17.3L155.6 28.3" stroke="#4a5064" stroke-width="1.2" opacity="0.75"/><path d="M206.2 45.0L209.5 45.8" stroke="#5e6078" stroke-width="0.8" opacity="0.61"/><path d="M111.4 83.8L114.8 94.3" stroke="#2c2e3e" stroke-width="0.8" opacity="0.63"/><path d="M142.1 14.0L151.7 19.4" stroke="#46565e" stroke-width="1.9" opacity="0.93"/><path d="M156.9 54.1L155.5 62.8" stroke="#67727a" stroke-width="2.0" opacity="0.77"/><path d="M144.1 20.9L152.2 27.1" stroke="#f3f5ef" stroke-width="1.9" opacity="0.92"/><path d="M154.0 99.6L164.8 101.5" stroke="#35334c" stroke-width="1.9" opacity="0.67"/><path d="M201.5 114.5L211.9 115.9" stroke="#222036" stroke-width="1.4" opacity="0.87"/><path d="M197.3 64.1L206.3 70.4" stroke="#423f5a" stroke-width="2.0" opacity="0.79"/><path d="M190.2 33.9L195.9 35.3" stroke="#9aa6b2" stroke-width="2.3" opacity="0.55"/><path d="M118.1 66.6L125.6 71.4" stroke="#c6ccc8" stroke-width="1.3" opacity="0.57"/><path d="M125.8 46.5L132.7 39.9" stroke="#ffffff" stroke-width="1.4" opacity="0.77"/><path d="M149.8 110.2L160.8 109.3" stroke="#7a808a" stroke-width="1.5" opacity="0.80"/><path d="M117.1 46.3L125.6 39.3" stroke="#f6f7ec" stroke-width="1.6" opacity="0.70"/><path d="M143.7 102.6L149.4 103.1" stroke="#2b2a42" stroke-width="1.4" opacity="0.71"/><path d="M125.6 95.5L126.0 99.4" stroke="#d0d6cc" stroke-width="1.4" opacity="0.63"/><path d="M199.4 36.0L206.8 37.9" stroke="#8a96a4" stroke-width="1.9" opacity="0.70"/><path d="M188.2 56.3L197.5 62.1" stroke="#423f5a" stroke-width="2.3" opacity="0.65"/><path d="M203.1 63.6L210.9 70.5" stroke="#8a92a0" stroke-width="2.2" opacity="0.60"/><path d="M161.1 73.0L167.5 64.1" stroke="#ffffff" stroke-width="2.2" opacity="0.87"/><path d="M206.2 93.9L211.1 94.9" stroke="#34324c" stroke-width="1.8" opacity="0.93"/><path d="M193.3 70.8L202.0 77.4" stroke="#28263e" stroke-width="1.4" opacity="0.85"/><path d="M116.3 87.8L121.4 85.0" stroke="#b4b8b8" stroke-width="1.4" opacity="0.95"/><path d="M153.2 94.5L164.1 96.2" stroke="#35334c" stroke-width="2.0" opacity="0.64"/><path d="M124.0 20.7L120.6 31.2" stroke="#3e4558" stroke-width="2.1" opacity="0.93"/><path d="M124.6 36.1L131.5 27.5" stroke="#fdfdf5" stroke-width="2.0" opacity="0.57"/><path d="M116.7 83.6L120.5 81.8" stroke="#b4b8b8" stroke-width="2.5" opacity="0.77"/><path d="M144.1 104.9L154.3 104.5" stroke="#8e959c" stroke-width="1.2" opacity="0.63"/><path d="M118.8 64.0L125.6 68.8" stroke="#6c7478" stroke-width="2.0" opacity="0.73"/><path d="M117.4 78.6L120.4 89.2" stroke="#4c5262" stroke-width="2.6" opacity="0.65"/><path d="M198.7 68.3L205.7 73.6" stroke="#423f5a" stroke-width="2.5" opacity="0.85"/><path d="M158.0 50.1L163.3 44.3" stroke="#ffffff" stroke-width="1.3" opacity="0.82"/><path d="M193.5 44.4L199.2 45.3" stroke="#434a60" stroke-width="1.1" opacity="0.61"/><path d="M176.1 91.4L186.9 93.6" stroke="#25233a" stroke-width="1.0" opacity="0.71"/><path d="M198.7 66.9L207.5 73.5" stroke="#28263e" stroke-width="1.8" opacity="0.93"/><path d="M204.9 46.9L207.2 47.3" stroke="#cdd4d6" stroke-width="1.2" opacity="0.70"/><path d="M182.0 43.2L184.5 42.5" stroke="#c9d3d0" stroke-width="2.5" opacity="0.62"/><path d="M178.7 52.3L185.5 43.6" stroke="#b4d0c6" stroke-width="2.2" opacity="0.94"/><path d="M128.5 39.0L137.7 32.8" stroke="#fdfdf5" stroke-width="1.4" opacity="0.91"/><path d="M136.8 37.9L138.5 43.5" stroke="#22303a" stroke-width="2.4" opacity="0.72"/><path d="M188.3 91.4L195.0 88.4" stroke="#6e7a80" stroke-width="1.4" opacity="0.63"/><path d="M132.6 23.4L139.8 27.8" stroke="#46565e" stroke-width="1.4" opacity="0.70"/><path d="M166.0 96.8L176.8 98.9" stroke="#25233a" stroke-width="2.6" opacity="0.88"/><path d="M114.0 75.9L117.4 86.4" stroke="#4c5262" stroke-width="0.8" opacity="0.57"/><path d="M177.5 86.5L187.0 81.1" stroke="#8e9a9c" stroke-width="1.4" opacity="0.95"/><path d="M116.7 58.7L125.9 53.7" stroke="#d6dcd0" stroke-width="2.0" opacity="0.57"/><path d="M144.9 88.5L155.8 89.5" stroke="#25233a" stroke-width="2.0" opacity="0.61"/><path d="M191.3 57.0L199.9 63.9" stroke="#4c4a64" stroke-width="2.3" opacity="0.91"/><path d="M119.5 79.4L124.5 82.6" stroke="#98a0a0" stroke-width="0.9" opacity="0.79"/><path d="M141.6 110.7L147.7 111.1" stroke="#3c3b54" stroke-width="2.4" opacity="0.55"/><path d="M168.6 75.4L173.6 68.1" stroke="#cbded6" stroke-width="1.3" opacity="0.60"/><path d="M178.4 112.4L185.6 104.3" stroke="#aab4b2" stroke-width="1.0" opacity="0.79"/><path d="M199.2 42.5L204.7 44.0" stroke="#566072" stroke-width="1.1" opacity="0.87"/><path d="M180.5 109.3L187.2 100.5" stroke="#78848a" stroke-width="1.1" opacity="0.62"/><path d="M191.1 59.9L199.7 66.8" stroke="#423f5a" stroke-width="2.0" opacity="0.63"/><path d="M188.8 17.9L192.8 15.2" stroke="#ccd6d4" stroke-width="1.1" opacity="0.91"/><path d="M114.8 25.4L113.1 36.3" stroke="#8792a2" stroke-width="2.1" opacity="0.68"/><path d="M185.5 30.9L189.6 28.6" stroke="#dfe6e2" stroke-width="1.2" opacity="0.67"/><path d="M155.1 56.2L153.6 63.2" stroke="#1c2028" stroke-width="1.3" opacity="0.74"/><path d="M112.9 59.0L121.8 60.3" stroke="#c8ceca" stroke-width="1.9" opacity="0.88"/><path d="M130.6 42.7L137.0 37.4" stroke="#f6f7ec" stroke-width="2.1" opacity="0.57"/><path d="M178.2 113.8L184.5 104.8" stroke="#e0e6e2" stroke-width="0.8" opacity="0.88"/><path d="M161.2 72.7L166.3 64.9" stroke="#ffffff" stroke-width="1.5" opacity="0.88"/><path d="M192.3 69.6L200.6 74.6" stroke="#423f5a" stroke-width="2.5" opacity="0.73"/><path d="M206.4 114.2L213.7 115.3" stroke="#222036" stroke-width="1.4" opacity="0.87"/><path d="M139.5 33.4L141.3 38.6" stroke="#2a3a42" stroke-width="1.7" opacity="0.60"/><path d="M128.9 40.6L137.7 33.9" stroke="#fdfdf5" stroke-width="2.2" opacity="0.94"/><path d="M162.1 83.3L168.8 74.6" stroke="#dcebe2" stroke-width="1.9" opacity="0.58"/><path d="M204.5 36.3L210.5 37.1" stroke="#5e6078" stroke-width="1.0" opacity="0.57"/><path d="M143.6 52.9L147.4 58.9" stroke="#55646c" stroke-width="1.7" opacity="0.85"/><path d="M188.7 33.8L198.1 36.3" stroke="#434a60" stroke-width="1.7" opacity="0.95"/><path d="M111.3 68.5L116.9 71.9" stroke="#f4f6f0" stroke-width="2.0" opacity="0.59"/><path d="M179.7 65.7L186.5 57.1" stroke="#ffffff" stroke-width="2.4" opacity="0.89"/><path d="M150.1 71.3L154.1 67.2" stroke="#22262e" stroke-width="1.9" opacity="0.71"/><path d="M118.5 78.8L122.4 81.8" stroke="#98a0a0" stroke-width="2.3" opacity="0.66"/><path d="M167.3 72.4L174.1 63.7" stroke="#dcebe2" stroke-width="2.6" opacity="0.94"/><path d="M112.0 106.2L114.7 116.8" stroke="#2c2e3e" stroke-width="1.8" opacity="0.78"/><path d="M112.7 69.3L118.5 72.5" stroke="#f4f6f0" stroke-width="0.9" opacity="0.67"/><path d="M166.2 34.7L171.2 30.2" stroke="#dde4e0" stroke-width="1.2" opacity="0.71"/><path d="M120.0 52.2L129.1 46.8" stroke="#d6dcd0" stroke-width="1.5" opacity="0.70"/><path d="M161.4 110.8L169.7 110.1" stroke="#7a808a" stroke-width="2.1" opacity="0.89"/><path d="M151.6 78.2L157.4 72.9" stroke="#c9d0cc" stroke-width="2.0" opacity="0.92"/><path d="M130.2 36.4L138.2 28.8" stroke="#f6f7ec" stroke-width="2.0" opacity="0.85"/><path d="M172.0 24.7L172.1 25.4" stroke="#39444c" stroke-width="1.5" opacity="0.79"/><path d="M141.6 42.6L150.1 35.6" stroke="#ffffff" stroke-width="2.2" opacity="0.85"/><path d="M182.8 109.8L189.7 101.3" stroke="#f0f4ee" stroke-width="0.8" opacity="0.88"/><path d="M200.4 94.5L208.4 95.8" stroke="#222036" stroke-width="2.1" opacity="0.58"/><path d="M144.6 58.6L146.7 62.3" stroke="#55646c" stroke-width="1.7" opacity="0.62"/><path d="M139.0 69.7L143.8 72.0" stroke="#eceee2" stroke-width="2.0" opacity="0.68"/><path d="M188.2 115.0L194.9 106.3" stroke="#f0f4ee" stroke-width="2.3" opacity="0.59"/><path d="M175.3 82.3L180.6 74.5" stroke="#86a098" stroke-width="0.9" opacity="0.79"/><path d="M191.5 79.0L200.3 85.5" stroke="#4c4a64" stroke-width="1.5" opacity="0.65"/><path d="M168.9 98.6L179.8 100.0" stroke="#25233a" stroke-width="2.2" opacity="0.92"/><path d="M175.9 76.7L181.7 67.4" stroke="#86a098" stroke-width="1.3" opacity="0.86"/><path d="M171.6 54.2L176.2 49.4" stroke="#d6dedc" stroke-width="2.2" opacity="0.76"/><path d="M143.3 82.9L148.9 86.1" stroke="#f2f3e2" stroke-width="1.9" opacity="0.62"/><path d="M118.4 102.5L121.2 113.2" stroke="#4c5262" stroke-width="1.0" opacity="0.58"/><path d="M207.0 111.6L213.6 113.3" stroke="#222036" stroke-width="1.2" opacity="0.87"/><path d="M181.0 116.7L186.6 110.3" stroke="#78848a" stroke-width="2.4" opacity="0.82"/><path d="M176.1 77.9L179.6 72.7" stroke="#c6dad0" stroke-width="2.1" opacity="0.79"/><path d="M209.7 80.4L215.8 81.5" stroke="#222036" stroke-width="1.2" opacity="0.94"/><path d="M128.9 111.5L136.8 112.3" stroke="#2b2a42" stroke-width="1.8" opacity="0.84"/><path d="M126.1 95.9L135.6 96.7" stroke="#2b2a42" stroke-width="2.6" opacity="0.57"/><path d="M110.9 46.5L112.0 54.3" stroke="#8894a4" stroke-width="1.7" opacity="0.87"/><path d="M142.6 72.2L149.2 75.9" stroke="#a8b0a8" stroke-width="2.0" opacity="0.56"/><path d="M179.2 95.3L188.5 90.0" stroke="#6e7a80" stroke-width="1.7" opacity="0.88"/><path d="M112.2 62.9L119.3 67.7" stroke="#e6eae4" stroke-width="0.9" opacity="0.75"/><path d="M109.0 99.3L111.4 110.0" stroke="#2c2e3e" stroke-width="2.4" opacity="0.89"/><path d="M126.9 21.0L123.0 31.2" stroke="#3e4558" stroke-width="0.9" opacity="0.69"/><path d="M188.9 18.9L194.5 15.2" stroke="#ccd6d4" stroke-width="1.7" opacity="0.61"/><path d="M159.5 48.7L159.0 53.0" stroke="#98a4a6" stroke-width="1.1" opacity="0.56"/><path d="M151.9 99.9L162.8 101.6" stroke="#35334c" stroke-width="1.1" opacity="0.67"/><path d="M179.4 19.4L185.5 13.9" stroke="#fafbf6" stroke-width="0.9" opacity="0.69"/><path d="M206.2 44.6L214.8 51.5" stroke="#423f5a" stroke-width="1.4" opacity="0.62"/><path d="M108.7 85.8L114.9 82.7" stroke="#b4b8b8" stroke-width="2.1" opacity="0.61"/><path d="M146.1 17.7L149.8 20.8" stroke="#ffffff" stroke-width="0.9" opacity="0.91"/><path d="M191.2 106.0L198.1 97.4" stroke="#f0f4ee" stroke-width="0.9" opacity="0.70"/><path d="M177.7 70.1L185.0 61.8" stroke="#9cbab2" stroke-width="2.4" opacity="0.73"/><path d="M192.9 59.0L202.3 64.7" stroke="#28263e" stroke-width="1.9" opacity="0.75"/><path d="M132.4 43.4L140.4 39.1" stroke="#d2dad4" stroke-width="0.8" opacity="0.70"/><path d="M129.2 96.9L133.4 97.3" stroke="#2b2a42" stroke-width="1.6" opacity="0.95"/><path d="M177.0 49.2L181.4 42.3" stroke="#f8faf4" stroke-width="2.4" opacity="0.89"/><path d="M149.9 16.1L157.0 21.7" stroke="#ffffff" stroke-width="2.0" opacity="0.87"/><path d="M164.3 103.4L175.3 102.2" stroke="#464a58" stroke-width="1.1" opacity="0.70"/><path d="M138.3 94.2L144.6 95.1" stroke="#3c3b54" stroke-width="1.8" opacity="0.87"/><path d="M128.5 81.5L128.9 92.5" stroke="#a8b0ac" stroke-width="0.9" opacity="0.81"/><path d="M161.9 19.7L169.2 11.5" stroke="#dde4e0" stroke-width="0.9" opacity="0.70"/><path d="M157.6 80.4L164.7 83.1" stroke="#7e868c" stroke-width="1.7" opacity="0.62"/><path d="M138.9 82.3L144.6 82.4" stroke="#2b2a42" stroke-width="1.1" opacity="0.64"/><path d="M150.6 82.5L156.6 85.8" stroke="#fcfcee" stroke-width="2.4" opacity="0.83"/><path d="M189.9 98.8L193.7 93.7" stroke="#78848a" stroke-width="1.7" opacity="0.73"/><path d="M198.7 45.4L207.5 52.1" stroke="#423f5a" stroke-width="1.3" opacity="0.73"/><path d="M164.0 38.4L169.0 33.6" stroke="#cad3d0" stroke-width="2.4" opacity="0.57"/><path d="M140.4 19.0L147.1 22.7" stroke="#33434c" stroke-width="2.7" opacity="0.59"/><path d="M207.8 96.9L214.6 97.7" stroke="#222036" stroke-width="2.0" opacity="0.69"/><path d="M121.2 35.3L117.1 45.5" stroke="#3e4558" stroke-width="1.7" opacity="0.69"/><path d="M150.3 48.0L149.1 53.3" stroke="#67727a" stroke-width="1.1" opacity="0.77"/><path d="M178.4 85.4L184.8 88.4" stroke="#343848" stroke-width="2.2" opacity="0.63"/><path d="M128.6 99.4L136.4 100.1" stroke="#3c3b54" stroke-width="2.2" opacity="0.62"/><path d="M167.0 49.9L171.0 45.7" stroke="#2c3440" stroke-width="1.7" opacity="0.95"/><path d="M192.4 53.8L197.9 59.4" stroke="#a4acb4" stroke-width="2.3" opacity="0.56"/><path d="M136.4 62.5L141.9 65.3" stroke="#eceee2" stroke-width="1.1" opacity="0.94"/><path d="M150.6 114.9L157.2 114.5" stroke="#7a808a" stroke-width="1.6" opacity="0.82"/><path d="M153.3 110.2L164.3 108.9" stroke="#7a808a" stroke-width="2.4" opacity="0.79"/><path d="M130.4 74.6L138.1 77.8" stroke="#8c9690" stroke-width="2.3" opacity="0.84"/><path d="M127.9 104.9L129.0 115.9" stroke="#566066" stroke-width="0.9" opacity="0.58"/><path d="M122.1 79.3L125.9 81.7" stroke="#98a0a0" stroke-width="2.4" opacity="0.92"/><path d="M201.1 69.8L210.1 76.1" stroke="#423f5a" stroke-width="2.2" opacity="0.93"/><path d="M121.8 19.2L118.8 29.8" stroke="#262b3c" stroke-width="2.2" opacity="0.62"/><path d="M149.8 85.1L153.3 87.1" stroke="#fcfcee" stroke-width="2.4" opacity="0.59"/><path d="M156.2 39.4L156.9 50.4" stroke="#4a5064" stroke-width="0.8" opacity="0.69"/><path d="M186.1 85.1L193.5 80.7" stroke="#8e9a9c" stroke-width="1.8" opacity="0.58"/><path d="M190.1 97.0L197.3 92.8" stroke="#1c2030" stroke-width="1.2" opacity="0.84"/><path d="M205.9 92.5L216.6 93.8" stroke="#222036" stroke-width="0.8" opacity="0.89"/><path d="M138.6 79.9L145.7 80.6" stroke="#3c3b54" stroke-width="2.0" opacity="0.89"/><path d="M147.9 25.1L151.2 28.3" stroke="#7d8a8e" stroke-width="2.2" opacity="0.79"/><path d="M135.7 111.6L145.4 112.7" stroke="#3c3b54" stroke-width="2.0" opacity="0.94"/><path d="M173.3 108.7L178.0 102.6" stroke="#f4f8f4" stroke-width="1.9" opacity="0.69"/><path d="M135.3 79.8L140.1 81.4" stroke="#7a848a" stroke-width="2.2" opacity="0.74"/><path d="M209.1 57.2L217.7 64.1" stroke="#28263e" stroke-width="1.1" opacity="0.71"/><path d="M191.2 117.3L195.4 111.6" stroke="#78848a" stroke-width="2.4" opacity="0.78"/><path d="M126.5 15.5L133.7 20.2" stroke="#f5f7f2" stroke-width="2.3" opacity="0.89"/><path d="M136.8 57.1L140.0 62.9" stroke="#3f4c58" stroke-width="1.5" opacity="0.73"/><path d="M189.8 38.6L195.8 40.2" stroke="#b4bec6" stroke-width="1.3" opacity="0.78"/><path d="M120.1 83.3L121.9 91.2" stroke="#5a6270" stroke-width="2.0" opacity="0.94"/><path d="M114.0 61.3L117.8 64.0" stroke="#e6eae4" stroke-width="2.0" opacity="0.84"/><path d="M181.7 20.0L187.9 16.7" stroke="#ffffff" stroke-width="1.5" opacity="0.66"/><path d="M199.3 56.3L207.6 63.5" stroke="#2e2c46" stroke-width="1.1" opacity="0.77"/><path d="M171.9 87.6L182.2 91.4" stroke="#343848" stroke-width="1.7" opacity="0.72"/><path d="M208.2 30.5L213.7 31.1" stroke="#5e6078" stroke-width="1.0" opacity="0.70"/><path d="M110.7 92.0L113.6 100.6" stroke="#5a6270" stroke-width="1.7" opacity="0.57"/><path d="M132.9 83.8L137.3 84.2" stroke="#3c3b54" stroke-width="1.3" opacity="0.70"/><path d="M121.3 80.8L122.4 91.7" stroke="#566066" stroke-width="1.2" opacity="0.83"/><path d="M137.2 82.3L142.5 82.9" stroke="#3c3b54" stroke-width="1.1" opacity="0.74"/><path d="M147.7 58.4L147.1 63.5" stroke="#1c2028" stroke-width="1.8" opacity="0.71"/><path d="M158.0 27.0L165.8 19.3" stroke="#fafbf6" stroke-width="0.9" opacity="0.73"/><path d="M129.2 78.2L138.0 81.6" stroke="#2a2e3c" stroke-width="1.8" opacity="0.76"/><path d="M172.3 52.7L176.1 48.6" stroke="#384250" stroke-width="2.5" opacity="0.69"/><path d="M154.7 12.2L155.6 23.1" stroke="#4a5064" stroke-width="1.3" opacity="0.88"/><path d="M125.5 102.9L125.2 113.9" stroke="#566066" stroke-width="1.1" opacity="0.89"/><path d="M111.5 84.1L113.6 93.2" stroke="#4c5262" stroke-width="1.7" opacity="0.83"/><path d="M185.3 34.4L189.4 32.3" stroke="#dfe6e2" stroke-width="0.9" opacity="0.93"/><path d="M198.0 45.1L207.5 47.1" stroke="#b4bec6" stroke-width="2.6" opacity="0.92"/><path d="M176.9 88.4L183.1 91.2" stroke="#7e868c" stroke-width="2.6" opacity="0.89"/><path d="M170.2 76.5L175.3 69.9" stroke="#ffffff" stroke-width="2.2" opacity="0.64"/><path d="M115.6 104.9L118.9 115.4" stroke="#4c5262" stroke-width="2.6" opacity="0.82"/><path d="M176.7 52.0L181.1 46.2" stroke="#d6dedc" stroke-width="1.0" opacity="0.62"/><path d="M178.5 110.6L185.7 102.3" stroke="#f0f4ee" stroke-width="0.9" opacity="0.72"/><path d="M125.2 54.6L134.5 49.0" stroke="#fbfbf0" stroke-width="2.1" opacity="0.55"/><path d="M208.3 28.2L214.2 29.2" stroke="#5e6078" stroke-width="1.2" opacity="0.66"/><path d="M129.9 23.9L137.3 28.0" stroke="#33434c" stroke-width="2.1" opacity="0.82"/><path d="M176.2 34.7L183.8 27.5" stroke="#dde4e0" stroke-width="2.6" opacity="0.71"/><path d="M147.0 34.4L151.4 38.2" stroke="#e3e8e2" stroke-width="2.4" opacity="0.62"/><path d="M130.2 51.0L140.1 46.0" stroke="#ffffff" stroke-width="2.0" opacity="0.65"/><path d="M138.0 35.1L145.5 27.1" stroke="#d2dad4" stroke-width="2.0" opacity="0.58"/><path d="M185.5 75.1L194.7 81.1" stroke="#28263e" stroke-width="1.7" opacity="0.60"/><path d="M154.0 86.6L160.5 77.8" stroke="#dcebe2" stroke-width="0.9" opacity="0.67"/><path d="M166.0 53.0L169.4 48.6" stroke="#ffffff" stroke-width="2.3" opacity="0.66"/><path d="M177.7 44.0L182.4 42.0" stroke="#243038" stroke-width="1.6" opacity="0.87"/><path d="M116.7 73.2L119.9 75.2" stroke="#98a0a0" stroke-width="1.8" opacity="0.72"/><path d="M187.9 40.6L193.1 41.3" stroke="#434a60" stroke-width="2.3" opacity="0.58"/><path d="M164.6 78.7L175.1 82.2" stroke="#9aa2a4" stroke-width="1.4" opacity="0.65"/><path d="M199.5 86.6L204.6 87.8" stroke="#34324c" stroke-width="1.3" opacity="0.75"/><path d="M207.8 67.7L214.0 71.8" stroke="#28263e" stroke-width="2.5" opacity="0.57"/><path d="M193.8 59.5L202.0 66.7" stroke="#a4acb4" stroke-width="1.2" opacity="0.66"/><path d="M211.4 36.0L214.9 36.4" stroke="#39385a" stroke-width="1.1" opacity="0.73"/><path d="M123.5 48.8L129.5 45.5" stroke="#fbfbf0" stroke-width="1.7" opacity="0.73"/><path d="M152.3 82.4L158.7 85.8" stroke="#f2f3e2" stroke-width="1.1" opacity="0.57"/><path d="M170.4 85.5L176.2 77.9" stroke="#c6dad0" stroke-width="1.3" opacity="0.57"/><path d="M203.5 67.8L208.3 72.4" stroke="#2e2c46" stroke-width="1.1" opacity="0.85"/><path d="M168.0 52.6L171.9 45.2" stroke="#f8faf4" stroke-width="2.2" opacity="0.83"/><path d="M145.5 82.3L148.5 79.3" stroke="#e4e8e2" stroke-width="1.1" opacity="0.79"/><path d="M122.6 78.5L122.7 89.5" stroke="#566066" stroke-width="0.9" opacity="0.67"/><path d="M126.2 97.6L126.7 108.6" stroke="#8e989a" stroke-width="0.9" opacity="0.62"/><path d="M113.3 35.1L112.1 46.1" stroke="#8792a2" stroke-width="0.9" opacity="0.63"/><path d="M193.2 53.5L200.1 58.5" stroke="#4c4a64" stroke-width="0.8" opacity="0.88"/><path d="M128.5 94.0L128.8 101.7" stroke="#8e989a" stroke-width="1.2" opacity="0.68"/><path d="M129.1 47.5L138.4 41.7" stroke="#e3e8df" stroke-width="2.3" opacity="0.78"/><path d="M193.9 92.6L204.7 94.5" stroke="#34324c" stroke-width="1.0" opacity="0.72"/><path d="M179.3 86.2L185.1 83.1" stroke="#262a38" stroke-width="1.2" opacity="0.71"/><path d="M109.4 89.4L113.0 87.7" stroke="#b4b8b8" stroke-width="1.2" opacity="0.56"/><path d="M137.1 96.6L144.8 97.4" stroke="#2b2a42" stroke-width="0.9" opacity="0.76"/><path d="M194.5 31.2L199.6 32.1" stroke="#8a96a4" stroke-width="1.7" opacity="0.72"/><path d="M146.4 24.7L153.7 30.6" stroke="#98a4a4" stroke-width="1.6" opacity="0.65"/><path d="M151.7 84.7L155.4 86.9" stroke="#fcfcee" stroke-width="2.5" opacity="0.89"/><path d="M166.2 46.3L171.1 38.9" stroke="#ffffff" stroke-width="1.9" opacity="0.84"/><path d="M156.1 12.5L157.1 22.6" stroke="#4a5064" stroke-width="1.7" opacity="0.85"/><path d="M112.7 55.1L119.0 51.0" stroke="#fbfbf0" stroke-width="1.3" opacity="0.68"/><path d="M143.8 31.6L151.0 37.5" stroke="#98a4a4" stroke-width="1.3" opacity="0.77"/><path d="M180.8 113.5L187.5 104.8" stroke="#e0e6e2" stroke-width="1.9" opacity="0.83"/><path d="M207.7 95.6L215.3 97.4" stroke="#222036" stroke-width="1.3" opacity="0.94"/><path d="M184.9 83.4L190.3 77.4" stroke="#9cbab2" stroke-width="2.3" opacity="0.92"/><path d="M130.3 33.3L132.9 34.1" stroke="#2a3840" stroke-width="1.2" opacity="0.89"/><path d="M210.9 26.5L217.7 27.6" stroke="#6c7088" stroke-width="2.0" opacity="0.62"/><path d="M162.1 75.5L168.6 66.6" stroke="#cbded6" stroke-width="1.5" opacity="0.89"/><path d="M125.4 37.7L135.4 33.3" stroke="#f6f7ec" stroke-width="0.8" opacity="0.63"/><path d="M108.2 91.5L112.2 89.8" stroke="#d2d6d2" stroke-width="1.4" opacity="0.70"/><path d="M180.4 46.7L183.7 41.3" stroke="#3a4452" stroke-width="3.3" opacity="0.55"/><path d="M164.4 107.2L171.3 106.5" stroke="#353848" stroke-width="1.1" opacity="0.69"/><path d="M111.6 53.3L120.3 46.5" stroke="#d2dad4" stroke-width="2.5" opacity="0.61"/><path d="M134.0 16.2L139.2 19.1" stroke="#c4cfcc" stroke-width="3.0" opacity="0.59"/><path d="M191.4 67.7L198.7 74.8" stroke="#a4acb4" stroke-width="1.1" opacity="0.87"/><path d="M119.3 36.5L115.4 46.8" stroke="#3e4558" stroke-width="1.6" opacity="0.80"/><path d="M172.8 87.3L183.0 90.8" stroke="#343848" stroke-width="1.6" opacity="0.69"/><path d="M147.6 23.2L151.2 25.9" stroke="#ffffff" stroke-width="1.2" opacity="0.65"/><path d="M122.4 96.2L122.4 106.6" stroke="#a8b0ac" stroke-width="1.0" opacity="0.70"/><path d="M186.8 22.4L195.5 24.9" stroke="#9aa6b2" stroke-width="1.7" opacity="0.56"/><path d="M202.6 65.3L209.3 70.8" stroke="#2e2c46" stroke-width="1.2" opacity="0.61"/><path d="M117.8 40.9L114.6 49.1" stroke="#1e2232" stroke-width="2.4" opacity="0.94"/><path d="M114.4 77.9L117.1 86.3" stroke="#4c5262" stroke-width="1.3" opacity="0.83"/><path d="M167.3 39.7L174.7 31.5" stroke="#ffffff" stroke-width="1.1" opacity="0.81"/><path d="M122.6 57.5L128.7 58.0" stroke="#c8ceca" stroke-width="1.9" opacity="0.82"/><path d="M134.0 49.5L142.0 41.9" stroke="#e3e8df" stroke-width="2.2" opacity="0.60"/><path d="M176.6 39.1L184.2 31.2" stroke="#dde4e0" stroke-width="2.2" opacity="0.76"/><path d="M209.6 92.0L215.9 92.9" stroke="#34324c" stroke-width="1.4" opacity="0.64"/><path d="M159.0 43.7L157.4 50.5" stroke="#98a4a6" stroke-width="2.5" opacity="0.89"/><path d="M189.1 29.7L193.7 27.2" stroke="#ccd6d4" stroke-width="1.4" opacity="0.75"/><path d="M180.7 99.2L185.8 93.5" stroke="#f0f4ee" stroke-width="1.3" opacity="0.71"/><path d="M172.6 103.5L176.3 99.1" stroke="#ffffff" stroke-width="2.3" opacity="0.74"/><path d="M177.9 73.2L185.2 65.0" stroke="#e6f8ec" stroke-width="1.3" opacity="0.93"/><path d="M149.6 76.1L154.2 72.0" stroke="#e4e8e2" stroke-width="1.0" opacity="0.57"/><path d="M138.6 76.1L142.8 77.4" stroke="#7a848a" stroke-width="1.8" opacity="0.61"/><path d="M120.0 30.8L116.9 41.3" stroke="#3e4558" stroke-width="2.0" opacity="0.71"/><path d="M129.4 33.8L132.7 34.6" stroke="#2a3840" stroke-width="1.7" opacity="0.72"/><path d="M178.1 54.6L184.8 45.8" stroke="#b4d0c6" stroke-width="1.9" opacity="0.55"/><path d="M170.0 52.8L174.0 45.3" stroke="#ffffff" stroke-width="1.6" opacity="0.58"/><path d="M145.6 109.5L155.7 108.3" stroke="#464a58" stroke-width="1.0" opacity="0.90"/><path d="M123.4 69.2L127.5 71.8" stroke="#c6ccc8" stroke-width="2.5" opacity="0.62"/><path d="M135.2 110.6L140.8 111.1" stroke="#2b2a42" stroke-width="1.9" opacity="0.77"/><path d="M201.5 82.5L205.9 83.2" stroke="#222036" stroke-width="1.2" opacity="0.63"/><path d="M132.9 104.4L138.9 105.0" stroke="#3c3b54" stroke-width="1.1" opacity="0.90"/><path d="M169.8 64.0L175.1 56.4" stroke="#cbded6" stroke-width="2.5" opacity="0.72"/><path d="M122.8 96.1L123.5 107.0" stroke="#566066" stroke-width="2.2" opacity="0.73"/><path d="M136.5 91.3L142.3 91.7" stroke="#3c3b54" stroke-width="1.7" opacity="0.77"/><path d="M185.7 65.8L192.6 57.2" stroke="#e6f8ec" stroke-width="1.6" opacity="0.64"/><path d="M149.0 79.9L155.6 73.3" stroke="#8a9496" stroke-width="1.2" opacity="0.57"/><path d="M156.8 18.6L158.1 29.5" stroke="#1d2030" stroke-width="1.0" opacity="0.91"/><path d="M118.1 54.2L124.5 50.2" stroke="#d6dcd0" stroke-width="1.3" opacity="0.74"/><path d="M138.5 18.0L143.1 21.0" stroke="#33434c" stroke-width="2.2" opacity="0.89"/><path d="M180.5 85.9L189.4 80.5" stroke="#8e9a9c" stroke-width="0.9" opacity="0.83"/><path d="M166.0 84.3L176.3 88.2" stroke="#343848" stroke-width="1.7" opacity="0.59"/><path d="M189.1 68.3L195.4 73.4" stroke="#3a3a54" stroke-width="1.1" opacity="0.89"/><path d="M163.4 101.6L172.5 102.6" stroke="#25233a" stroke-width="1.1" opacity="0.69"/><path d="M139.8 107.1L148.9 107.4" stroke="#2b2a42" stroke-width="1.2" opacity="0.56"/><path d="M141.1 39.6L150.0 33.2" stroke="#fdfdf5" stroke-width="0.8" opacity="0.65"/><path d="M122.5 68.0L131.0 73.2" stroke="#6c7478" stroke-width="2.3" opacity="0.70"/><path d="M194.2 117.5L201.5 109.2" stroke="#e0e6e2" stroke-width="2.0" opacity="0.80"/><path d="M201.3 66.9L205.2 70.6" stroke="#a4acb4" stroke-width="1.2" opacity="0.79"/><path d="M134.8 67.9L139.4 70.2" stroke="#f6f7ea" stroke-width="2.1" opacity="0.69"/><path d="M189.3 52.3L198.4 58.5" stroke="#4c4a64" stroke-width="2.6" opacity="0.65"/><path d="M149.7 76.7L156.6 70.1" stroke="#c9d0cc" stroke-width="1.8" opacity="0.73"/><path d="M198.0 24.2L205.1 25.6" stroke="#8a96a4" stroke-width="2.3" opacity="0.61"/><path d="M147.3 57.4L145.5 66.2" stroke="#1c2028" stroke-width="1.2" opacity="0.59"/><path d="M197.7 40.2L205.6 41.9" stroke="#9aa6b2" stroke-width="2.4" opacity="0.67"/><path d="M171.4 89.9L182.2 91.8" stroke="#25233a" stroke-width="2.4" opacity="0.56"/><path d="M156.7 26.7L162.8 20.7" stroke="#fafbf6" stroke-width="1.3" opacity="0.93"/><path d="M136.1 44.2L144.7 37.4" stroke="#f6f7ec" stroke-width="1.4" opacity="0.73"/><path d="M191.0 112.9L197.6 104.1" stroke="#ffffff" stroke-width="2.0" opacity="0.78"/><path d="M206.3 80.4L215.6 81.8" stroke="#222036" stroke-width="2.2" opacity="0.61"/><path d="M203.2 65.3L211.6 72.4" stroke="#3a3a54" stroke-width="1.5" opacity="0.88"/><path d="M177.0 104.5L180.5 100.4" stroke="#ffffff" stroke-width="1.5" opacity="0.56"/><path d="M153.8 27.4L155.0 38.4" stroke="#262a3c" stroke-width="1.9" opacity="0.66"/><path d="M192.9 34.3L198.5 35.1" stroke="#434a60" stroke-width="2.6" opacity="0.58"/><path d="M192.9 31.1L199.6 32.9" stroke="#b4bec6" stroke-width="3.0" opacity="0.81"/><path d="M184.2 116.2L190.0 108.2" stroke="#e0e6e2" stroke-width="2.5" opacity="0.68"/><path d="M193.2 75.2L202.5 81.1" stroke="#4c4a64" stroke-width="1.3" opacity="0.81"/><path d="M176.3 94.2L187.2 95.6" stroke="#35334c" stroke-width="0.9" opacity="0.78"/><path d="M149.2 13.7L153.0 16.5" stroke="#e3e8e2" stroke-width="1.4" opacity="0.74"/><path d="M184.7 47.7L189.9 46.1" stroke="#8a989c" stroke-width="2.6" opacity="0.89"/><path d="M151.3 85.3L154.9 87.7" stroke="#f2f3e2" stroke-width="2.2" opacity="0.68"/><path d="M144.7 109.1L154.1 108.0" stroke="#7a808a" stroke-width="1.9" opacity="0.74"/><path d="M144.8 54.3L147.6 58.5" stroke="#3f4c58" stroke-width="1.4" opacity="0.59"/><path d="M117.1 45.4L124.1 41.7" stroke="#ffffff" stroke-width="0.9" opacity="0.61"/><path d="M199.1 32.2L204.9 33.7" stroke="#434a60" stroke-width="1.7" opacity="0.92"/><path d="M208.8 105.8L216.3 106.7" stroke="#222036" stroke-width="1.6" opacity="0.74"/><path d="M112.0 14.1L110.9 22.9" stroke="#525a6e" stroke-width="1.6" opacity="0.63"/><path d="M186.0 58.2L192.9 49.7" stroke="#9cbab2" stroke-width="2.2" opacity="0.84"/><path d="M111.8 88.7L115.0 99.2" stroke="#2c2e3e" stroke-width="0.9" opacity="0.60"/><path d="M112.0 49.8L113.6 60.6" stroke="#8894a4" stroke-width="1.6" opacity="0.68"/><path d="M179.9 101.4L184.1 96.6" stroke="#ffffff" stroke-width="1.2" opacity="0.61"/><path d="M163.9 54.3L170.2 47.2" stroke="#384250" stroke-width="1.2" opacity="0.56"/><path d="M203.6 35.6L208.9 36.2" stroke="#39385a" stroke-width="2.0" opacity="0.81"/><path d="M113.4 90.3L115.8 98.5" stroke="#4c5262" stroke-width="0.9" opacity="0.62"/><path d="M182.2 49.9L187.5 47.6" stroke="#c9d3d0" stroke-width="1.5" opacity="0.82"/><path d="M162.1 108.4L173.1 108.2" stroke="#7a808a" stroke-width="2.0" opacity="0.75"/><path d="M145.3 106.9L156.2 105.4" stroke="#8e959c" stroke-width="1.0" opacity="0.74"/><path d="M203.9 109.9L214.3 111.7" stroke="#222036" stroke-width="2.5" opacity="0.83"/><path d="M196.5 107.1L202.2 108.3" stroke="#222036" stroke-width="2.5" opacity="0.87"/><path d="M204.8 57.3L211.1 61.9" stroke="#28263e" stroke-width="1.9" opacity="0.82"/><path d="M116.3 54.4L120.4 52.0" stroke="#d6dcd0" stroke-width="0.9" opacity="0.87"/><path d="M198.5 16.4L203.9 17.6" stroke="#8a96a4" stroke-width="2.5" opacity="0.68"/><path d="M117.0 91.3L120.6 101.7" stroke="#2c2e3e" stroke-width="1.7" opacity="0.92"/><path d="M153.9 83.1L160.2 74.1" stroke="#f6fcf6" stroke-width="1.6" opacity="0.63"/><path d="M153.5 98.5L164.5 99.5" stroke="#35334c" stroke-width="1.9" opacity="0.62"/><path d="M186.2 107.6L190.6 102.6" stroke="#f0f4ee" stroke-width="1.2" opacity="0.84"/><path d="M127.8 108.6L134.0 108.7" stroke="#2b2a42" stroke-width="2.5" opacity="0.74"/><path d="M115.2 50.7L123.5 46.2" stroke="#fbfbf0" stroke-width="1.0" opacity="0.87"/><path d="M178.0 51.0L182.6 44.9" stroke="#e6f8ec" stroke-width="1.9" opacity="0.56"/><path d="M198.2 43.6L206.1 45.4" stroke="#b4bec6" stroke-width="2.6" opacity="0.78"/><path d="M166.5 68.1L172.9 59.1" stroke="#cbded6" stroke-width="1.5" opacity="0.85"/><path d="M137.3 51.5L144.7 44.0" stroke="#fdfdf5" stroke-width="0.9" opacity="0.72"/><path d="M118.7 51.8L128.2 46.2" stroke="#fbfbf0" stroke-width="2.3" opacity="0.65"/><path d="M158.1 107.4L168.2 107.4" stroke="#8e959c" stroke-width="2.1" opacity="0.57"/><path d="M135.6 71.1L141.2 73.3" stroke="#f6f7ea" stroke-width="2.4" opacity="0.83"/><path d="M114.0 38.5L113.5 46.5" stroke="#8792a2" stroke-width="1.9" opacity="0.71"/><path d="M208.1 51.7L216.8 58.1" stroke="#423f5a" stroke-width="0.9" opacity="0.87"/><path d="M116.3 48.1L123.3 39.6" stroke="#e3e8df" stroke-width="0.9" opacity="0.66"/><path d="M177.8 73.0L181.2 67.6" stroke="#6e8682" stroke-width="1.5" opacity="0.84"/><path d="M110.5 74.1L112.6 84.9" stroke="#1c2032" stroke-width="0.9" opacity="0.60"/><path d="M130.2 79.9L137.2 82.6" stroke="#2a2e3c" stroke-width="0.8" opacity="0.69"/><path d="M129.9 45.0L138.8 38.5" stroke="#e3e8df" stroke-width="1.2" opacity="0.81"/><path d="M183.1 67.8L187.9 60.9" stroke="#b4d0c6" stroke-width="1.8" opacity="0.95"/><path d="M179.0 23.4L183.9 20.1" stroke="#dfe6e2" stroke-width="2.0" opacity="0.60"/><path d="M139.4 86.4L148.7 87.7" stroke="#3c3b54" stroke-width="2.5" opacity="0.88"/><path d="M126.5 38.0L134.1 30.1" stroke="#f6f7ec" stroke-width="1.6" opacity="0.60"/><path d="M138.0 21.3L145.2 26.4" stroke="#c4cfcc" stroke-width="2.4" opacity="0.93"/><path d="M151.2 42.9L155.4 38.9" stroke="#5c666c" stroke-width="1.3" opacity="0.77"/><path d="M178.2 91.0L187.1 91.7" stroke="#25233a" stroke-width="1.7" opacity="0.84"/><path d="M131.6 85.5L138.9 86.6" stroke="#2b2a42" stroke-width="1.7" opacity="0.73"/><path d="M185.6 117.4L190.6 111.5" stroke="#f0f4ee" stroke-width="2.6" opacity="0.78"/><path d="M174.1 119.1L180.6 110.9" stroke="#aab4b2" stroke-width="1.2" opacity="0.78"/><path d="M199.8 64.6L207.5 69.9" stroke="#423f5a" stroke-width="1.5" opacity="0.88"/><path d="M111.2 83.3L113.2 90.6" stroke="#5a6270" stroke-width="1.4" opacity="0.64"/><path d="M198.3 70.5L207.7 76.3" stroke="#28263e" stroke-width="2.1" opacity="0.88"/><path d="M166.7 80.3L173.0 71.3" stroke="#dcebe2" stroke-width="1.7" opacity="0.62"/><path d="M203.3 39.6L207.3 40.5" stroke="#39385a" stroke-width="1.2" opacity="0.73"/><path d="M128.1 72.9L132.2 75.3" stroke="#6c7478" stroke-width="1.6" opacity="0.91"/><path d="M195.4 47.5L202.4 48.7" stroke="#9aa6b2" stroke-width="2.1" opacity="0.63"/><path d="M156.7 94.9L167.5 96.9" stroke="#35334c" stroke-width="2.4" opacity="0.58"/><path d="M156.3 79.0L165.1 82.7" stroke="#444a56" stroke-width="1.6" opacity="0.82"/><path d="M117.3 56.2L126.6 50.2" stroke="#f4f5e8" stroke-width="1.5" opacity="0.60"/><path d="M177.6 28.4L185.4 20.8" stroke="#ffffff" stroke-width="1.5" opacity="0.68"/><path d="M126.4 92.9L127.6 103.9" stroke="#a8b0ac" stroke-width="1.5" opacity="0.69"/><path d="M181.0 47.6L186.1 45.9" stroke="#c9d3d0" stroke-width="1.0" opacity="0.81"/><path d="M147.7 86.5L152.4 89.2" stroke="#f2f3e2" stroke-width="1.8" opacity="0.66"/><path d="M159.2 21.7L165.4 16.1" stroke="#fafbf6" stroke-width="2.1" opacity="0.95"/><path d="M160.5 112.3L169.4 111.4" stroke="#7a808a" stroke-width="0.9" opacity="0.70"/><path d="M156.5 34.2L164.2 26.3" stroke="#cad3d0" stroke-width="1.7" opacity="0.78"/><path d="M192.0 61.6L201.0 68.0" stroke="#423f5a" stroke-width="2.0" opacity="0.66"/><path d="M151.1 61.0L150.1 68.5" stroke="#454e58" stroke-width="2.5" opacity="0.65"/><path d="M205.1 87.8L215.0 89.5" stroke="#222036" stroke-width="1.7" opacity="0.85"/><path d="M197.0 31.2L206.3 33.7" stroke="#566072" stroke-width="1.2" opacity="0.57"/><path d="M128.4 49.7L136.9 42.7" stroke="#ffffff" stroke-width="2.2" opacity="0.59"/><path d="M187.5 65.9L193.3 57.6" stroke="#9cbab2" stroke-width="0.9" opacity="0.86"/><path d="M124.2 24.3L121.5 32.2" stroke="#3e4558" stroke-width="2.6" opacity="0.90"/><path d="M118.0 58.3L122.6 58.9" stroke="#2a3038" stroke-width="2.2" opacity="0.82"/><path d="M191.9 102.5L198.1 93.5" stroke="#f0f4ee" stroke-width="2.3" opacity="0.61"/><path d="M209.4 110.2L216.9 111.4" stroke="#34324c" stroke-width="1.6" opacity="0.71"/><path d="M122.9 83.7L122.8 94.7" stroke="#a8b0ac" stroke-width="1.2" opacity="0.62"/><path d="M195.6 25.3L200.1 26.0" stroke="#566072" stroke-width="2.1" opacity="0.75"/><path d="M111.4 107.5L114.8 118.0" stroke="#4c5262" stroke-width="1.9" opacity="0.67"/><path d="M156.5 24.1L164.4 16.9" stroke="#dde4e0" stroke-width="2.0" opacity="0.83"/><path d="M112.2 17.1L110.8 26.1" stroke="#454c60" stroke-width="2.4" opacity="0.79"/><path d="M148.1 54.5L146.5 64.6" stroke="#98a4a6" stroke-width="2.1" opacity="0.71"/><path d="M134.4 113.9L141.5 114.6" stroke="#2b2a42" stroke-width="1.2" opacity="0.82"/><path d="M190.8 46.9L200.2 52.6" stroke="#423f5a" stroke-width="1.9" opacity="0.67"/><path d="M155.2 23.5L156.3 30.8" stroke="#1d2030" stroke-width="1.8" opacity="0.87"/><path d="M174.5 65.2L180.6 56.1" stroke="#c6dad0" stroke-width="1.4" opacity="0.57"/><path d="M137.5 91.1L144.6 92.2" stroke="#2b2a42" stroke-width="1.8" opacity="0.65"/><path d="M147.9 84.0L151.5 86.1" stroke="#fcfcee" stroke-width="1.2" opacity="0.58"/><path d="M159.2 29.9L166.1 23.4" stroke="#cad3d0" stroke-width="2.6" opacity="0.71"/><path d="M201.9 39.1L208.0 40.0" stroke="#6c7088" stroke-width="2.0" opacity="0.57"/><path d="M173.3 21.6L181.0 13.8" stroke="#dde4e0" stroke-width="1.7" opacity="0.86"/><path d="M150.4 68.6L153.9 65.5" stroke="#c9d0cc" stroke-width="1.6" opacity="0.72"/><path d="M152.2 47.3L150.3 57.4" stroke="#454e58" stroke-width="2.2" opacity="0.79"/><path d="M184.2 37.3L193.0 39.8" stroke="#b4bec6" stroke-width="1.5" opacity="0.79"/><path d="M166.1 75.8L172.0 66.5" stroke="#cbded6" stroke-width="2.6" opacity="0.76"/><path d="M128.9 96.5L136.1 96.7" stroke="#3c3b54" stroke-width="2.4" opacity="0.87"/><path d="M160.0 65.9L166.3 56.8" stroke="#cbded6" stroke-width="1.7" opacity="0.70"/><path d="M176.4 29.2L184.1 25.0" stroke="#ccd6d4" stroke-width="1.4" opacity="0.62"/><path d="M206.4 37.9L212.8 39.3" stroke="#6c7088" stroke-width="1.8" opacity="0.78"/><path d="M200.5 85.0L206.7 85.6" stroke="#34324c" stroke-width="1.8" opacity="0.87"/><path d="M195.2 67.7L202.7 74.6" stroke="#2e2c46" stroke-width="0.9" opacity="0.76"/><path d="M128.7 23.2L134.4 27.3" stroke="#c4cfcc" stroke-width="2.9" opacity="0.63"/><path d="M137.9 53.7L140.3 57.4" stroke="#3f4c58" stroke-width="2.5" opacity="0.91"/><path d="M144.6 17.0L151.2 23.3" stroke="#ffffff" stroke-width="2.1" opacity="0.90"/><path d="M162.0 49.4L164.9 44.9" stroke="#3a4452" stroke-width="1.7" opacity="0.87"/><path d="M135.7 36.3L136.6 38.6" stroke="#22303a" stroke-width="1.4" opacity="0.75"/><path d="M188.5 18.8L193.7 15.6" stroke="#dfe6e2" stroke-width="2.5" opacity="0.94"/><path d="M135.1 36.9L144.1 30.6" stroke="#d2dad4" stroke-width="1.0" opacity="0.91"/><path d="M203.6 109.1L213.5 111.4" stroke="#34324c" stroke-width="2.2" opacity="0.94"/><path d="M169.5 75.9L175.6 67.2" stroke="#dcebe2" stroke-width="1.4" opacity="0.91"/><path d="M116.0 96.8L118.4 107.6" stroke="#2c2e3e" stroke-width="1.5" opacity="0.77"/><path d="M180.4 86.3L187.5 77.9" stroke="#ffffff" stroke-width="1.9" opacity="0.64"/><path d="M162.8 83.9L169.6 75.2" stroke="#dcebe2" stroke-width="2.4" opacity="0.94"/><path d="M150.7 98.2L161.5 100.5" stroke="#35334c" stroke-width="2.6" opacity="0.89"/><path d="M111.9 62.3L113.5 70.4" stroke="#8894a4" stroke-width="2.0" opacity="0.74"/><path d="M179.5 32.0L188.4 26.9" stroke="#dfe6e2" stroke-width="2.2" opacity="0.76"/><path d="M204.6 30.1L209.3 30.7" stroke="#5e6078" stroke-width="1.4" opacity="0.58"/><path d="M113.4 54.9L122.0 49.8" stroke="#fbfbf0" stroke-width="1.6" opacity="0.61"/><path d="M116.7 100.8L118.9 109.8" stroke="#4c5262" stroke-width="2.1" opacity="0.74"/><path d="M204.5 83.7L213.2 85.0" stroke="#222036" stroke-width="1.8" opacity="0.61"/><path d="M129.7 31.3L136.0 25.0" stroke="#e3e8df" stroke-width="1.3" opacity="0.77"/><path d="M136.3 63.9L141.6 66.0" stroke="#eceee2" stroke-width="1.4" opacity="0.62"/><path d="M175.2 109.4L180.1 104.0" stroke="#ffffff" stroke-width="2.1" opacity="0.73"/><path d="M136.2 33.2L137.7 38.4" stroke="#9aaaa8" stroke-width="1.4" opacity="0.89"/><path d="M196.9 30.2L203.4 31.5" stroke="#b4bec6" stroke-width="1.4" opacity="0.56"/><path d="M173.2 118.3L177.9 112.2" stroke="#ffffff" stroke-width="1.9" opacity="0.94"/><path d="M208.0 28.4L211.2 28.7" stroke="#6c7088" stroke-width="1.5" opacity="0.68"/><path d="M131.9 105.7L137.1 105.9" stroke="#3c3b54" stroke-width="1.8" opacity="0.87"/><path d="M122.0 18.5L118.1 28.8" stroke="#1e2232" stroke-width="2.4" opacity="0.70"/><path d="M167.6 69.4L172.8 61.2" stroke="#f6fcf6" stroke-width="1.4" opacity="0.74"/><path d="M171.5 46.5L173.7 42.3" stroke="#ffffff" stroke-width="1.1" opacity="0.69"/><path d="M113.0 77.3L115.4 88.1" stroke="#4c5262" stroke-width="1.1" opacity="0.83"/><path d="M200.0 47.8L203.7 48.2" stroke="#cdd4d6" stroke-width="2.4" opacity="0.83"/><path d="M163.2 108.4L171.7 107.5" stroke="#353848" stroke-width="2.4" opacity="0.79"/><path d="M179.9 84.4L185.7 75.1" stroke="#6e8682" stroke-width="1.7" opacity="0.94"/><path d="M125.9 19.1L134.5 25.1" stroke="#33434c" stroke-width="2.9" opacity="0.91"/><path d="M117.1 16.9L114.3 25.3" stroke="#4d566a" stroke-width="1.0" opacity="0.73"/><path d="M162.9 77.3L168.1 68.9" stroke="#cbded6" stroke-width="2.3" opacity="0.84"/><path d="M180.3 82.6L184.6 76.3" stroke="#ffffff" stroke-width="1.7" opacity="0.88"/><path d="M119.8 59.2L125.8 60.0" stroke="#c8ceca" stroke-width="1.6" opacity="0.77"/><path d="M140.1 78.6L146.3 80.6" stroke="#2a2e3c" stroke-width="1.0" opacity="0.75"/><path d="M124.5 76.4L133.2 79.3" stroke="#2a2e3c" stroke-width="1.9" opacity="0.73"/><path d="M156.3 38.3L156.5 45.7" stroke="#5c6674" stroke-width="2.3" opacity="0.73"/><path d="M142.1 16.8L149.0 20.6" stroke="#46565e" stroke-width="2.1" opacity="0.59"/><path d="M166.6 82.4L173.8 85.2" stroke="#7e868c" stroke-width="1.5" opacity="0.65"/><path d="M167.9 45.8L170.6 40.4" stroke="#d4dcd8" stroke-width="2.7" opacity="0.88"/><path d="M207.3 92.8L209.2 92.6" stroke="#6a7484" stroke-width="0.9" opacity="0.82"/><path d="M162.6 20.8L170.3 13.0" stroke="#dde4e0" stroke-width="2.6" opacity="0.71"/><path d="M168.2 49.5L170.8 45.2" stroke="#3a4452" stroke-width="1.8" opacity="0.56"/><path d="M150.8 48.5L154.9 45.5" stroke="#5c666c" stroke-width="1.9" opacity="0.88"/><path d="M133.0 92.1L142.8 92.5" stroke="#2b2a42" stroke-width="1.4" opacity="0.95"/><path d="M125.4 85.4L126.5 96.4" stroke="#8e989a" stroke-width="1.0" opacity="0.70"/><path d="M171.2 108.5L178.4 100.2" stroke="#f4f8f4" stroke-width="2.0" opacity="0.79"/><path d="M117.7 80.3L120.9 82.4" stroke="#98a0a0" stroke-width="2.4" opacity="0.90"/><path d="M205.7 43.4L209.0 44.1" stroke="#5e6078" stroke-width="2.1" opacity="0.84"/><path d="M145.6 37.5L148.7 40.5" stroke="#7d8a8e" stroke-width="2.4" opacity="0.61"/><path d="M149.3 47.0L153.6 43.8" stroke="#5c666c" stroke-width="1.4" opacity="0.72"/><path d="M138.8 15.5L145.0 19.0" stroke="#f5f7f2" stroke-width="2.5" opacity="0.86"/><path d="M159.5 35.0L164.6 29.3" stroke="#fafbf6" stroke-width="1.9" opacity="0.69"/><path d="M157.9 39.6L165.6 31.8" stroke="#cad3d0" stroke-width="2.3" opacity="0.75"/><path d="M119.5 35.3L128.2 28.6" stroke="#fdfdf5" stroke-width="1.9" opacity="0.87"/><path d="M179.2 20.6L186.9 12.7" stroke="#dde4e0" stroke-width="1.7" opacity="0.78"/><path d="M114.9 50.3L122.6 42.5" stroke="#e3e8df" stroke-width="2.0" opacity="0.73"/><path d="M177.5 25.9L183.7 22.4" stroke="#ccd6d4" stroke-width="1.2" opacity="0.90"/><path d="M152.8 92.9L161.7 94.6" stroke="#25233a" stroke-width="1.2" opacity="0.78"/><path d="M183.1 47.5L186.0 46.6" stroke="#c9d3d0" stroke-width="1.9" opacity="0.84"/><path d="M142.9 20.9L148.9 24.8" stroke="#c4cfcc" stroke-width="1.6" opacity="0.60"/><path d="M142.8 69.3L147.5 71.5" stroke="#f6f7ea" stroke-width="2.0" opacity="0.69"/><path d="M156.2 21.0L164.3 13.6" stroke="#ffffff" stroke-width="2.4" opacity="0.68"/><path d="M203.0 73.9L212.4 79.6" stroke="#423f5a" stroke-width="1.1" opacity="0.76"/><path d="M171.7 112.2L176.0 106.2" stroke="#aab4b2" stroke-width="1.9" opacity="0.60"/><path d="M193.2 107.9L197.7 102.9" stroke="#f0f4ee" stroke-width="1.5" opacity="0.94"/><path d="M166.4 56.2L170.2 51.9" stroke="#2c3440" stroke-width="2.0" opacity="0.71"/><path d="M204.8 39.1L211.7 40.7" stroke="#5e6078" stroke-width="1.7" opacity="0.57"/><path d="M189.3 89.4L194.6 86.7" stroke="#6e7a80" stroke-width="2.4" opacity="0.64"/><path d="M207.2 109.6L217.2 110.8" stroke="#34324c" stroke-width="2.3" opacity="0.75"/><path d="M135.2 33.1L142.3 26.1" stroke="#d2dad4" stroke-width="0.8" opacity="0.65"/><path d="M130.9 51.8L136.6 43.7" stroke="#e3e8df" stroke-width="1.9" opacity="0.79"/><path d="M123.6 95.1L124.2 103.3" stroke="#8e989a" stroke-width="2.1" opacity="0.59"/><path d="M114.7 22.4L114.5 30.4" stroke="#525a6e" stroke-width="0.8" opacity="0.70"/><path d="M148.4 20.5L153.2 25.1" stroke="#e3e8e2" stroke-width="2.5" opacity="0.92"/><path d="M199.8 65.3L205.7 69.8" stroke="#4c4a64" stroke-width="2.5" opacity="0.75"/><path d="M113.2 13.9L111.8 23.3" stroke="#454c60" stroke-width="1.3" opacity="0.88"/><path d="M177.5 29.0L177.6 29.4" stroke="#39444c" stroke-width="1.5" opacity="0.75"/><path d="M142.3 88.8L149.9 90.2" stroke="#25233a" stroke-width="1.4" opacity="0.60"/><path d="M116.0 84.7L118.6 95.4" stroke="#5a6270" stroke-width="2.5" opacity="0.85"/><path d="M161.8 107.1L172.7 105.6" stroke="#8e959c" stroke-width="2.0" opacity="0.81"/><path d="M138.5 16.4L143.0 18.8" stroke="#f5f7f2" stroke-width="2.3" opacity="0.91"/><path d="M151.4 80.4L154.0 82.1" stroke="#fcfcee" stroke-width="2.5" opacity="0.74"/><path d="M206.5 29.4L210.2 29.9" stroke="#5e6078" stroke-width="1.6" opacity="0.75"/><path d="M179.6 47.6L183.3 46.3" stroke="#c9d3d0" stroke-width="1.9" opacity="0.58"/><path d="M126.9 97.4L127.1 100.7" stroke="#d0d6cc" stroke-width="1.5" opacity="0.79"/><path d="M168.3 99.5L179.1 101.3" stroke="#25233a" stroke-width="2.3" opacity="0.75"/><path d="M209.6 76.3L218.9 82.2" stroke="#423f5a" stroke-width="2.1" opacity="0.73"/><path d="M119.9 12.2L117.9 20.1" stroke="#4d566a" stroke-width="1.4" opacity="0.95"/><path d="M199.8 46.8L204.6 47.5" stroke="#cdd4d6" stroke-width="1.7" opacity="0.85"/><path d="M136.8 51.7L139.7 57.5" stroke="#1f2a36" stroke-width="2.1" opacity="0.87"/><path d="M122.4 62.4L129.7 66.9" stroke="#e6eae4" stroke-width="2.3" opacity="0.72"/><path d="M146.4 109.8L157.4 109.5" stroke="#353848" stroke-width="1.4" opacity="0.90"/><path d="M129.0 54.1L134.0 51.1" stroke="#f4f5e8" stroke-width="1.4" opacity="0.62"/><path d="M121.4 33.6L117.4 43.9" stroke="#3e4558" stroke-width="2.4" opacity="0.78"/><path d="M195.5 80.5L205.2 81.9" stroke="#34324c" stroke-width="1.1" opacity="0.62"/><path d="M146.2 34.3L153.2 40.5" stroke="#ffffff" stroke-width="1.7" opacity="0.81"/><path d="M115.6 43.2L124.7 37.0" stroke="#ffffff" stroke-width="1.3" opacity="0.94"/><path d="M113.1 28.9L112.2 39.9" stroke="#525a6e" stroke-width="1.1" opacity="0.75"/><path d="M166.9 75.6L172.2 68.2" stroke="#cbded6" stroke-width="1.2" opacity="0.57"/><path d="M139.2 101.6L146.2 102.2" stroke="#3c3b54" stroke-width="1.3" opacity="0.95"/><path d="M188.6 46.4L195.3 47.4" stroke="#8a96a4" stroke-width="1.9" opacity="0.60"/><path d="M124.7 12.4L120.7 22.7" stroke="#3e4558" stroke-width="1.3" opacity="0.73"/><path d="M143.9 76.7L148.4 71.6" stroke="#22262e" stroke-width="1.7" opacity="0.86"/><path d="M192.1 97.7L201.2 92.0" stroke="#6e7a80" stroke-width="1.4" opacity="0.61"/><path d="M164.5 41.9L166.9 37.8" stroke="#eef2ec" stroke-width="2.4" opacity="0.91"/><path d="M154.0 84.3L164.0 88.8" stroke="#7e868c" stroke-width="2.4" opacity="0.89"/><path d="M183.8 98.8L190.2 90.6" stroke="#ffffff" stroke-width="1.8" opacity="0.86"/><path d="M177.8 21.2L186.5 16.2" stroke="#dfe6e2" stroke-width="1.1" opacity="0.82"/><path d="M183.0 87.3L192.1 82.5" stroke="#8e9a9c" stroke-width="1.5" opacity="0.84"/><path d="M127.1 77.2L127.0 88.2" stroke="#8e989a" stroke-width="1.4" opacity="0.61"/><path d="M178.7 114.6L185.1 107.3" stroke="#f4f8f4" stroke-width="1.1" opacity="0.78"/><path d="M181.6 18.6L189.4 13.6" stroke="#ffffff" stroke-width="2.4" opacity="0.95"/><path d="M210.0 27.3L215.6 28.2" stroke="#5e6078" stroke-width="1.3" opacity="0.67"/><path d="M147.6 48.6L146.9 53.9" stroke="#454e58" stroke-width="1.1" opacity="0.84"/><path d="M145.9 98.6L156.8 99.7" stroke="#35334c" stroke-width="0.9" opacity="0.67"/><path d="M134.3 73.1L137.7 74.7" stroke="#eceee2" stroke-width="1.7" opacity="0.83"/><path d="M140.3 37.6L142.1 42.1" stroke="#2a3a42" stroke-width="1.4" opacity="0.58"/><path d="M183.6 46.4L187.1 45.3" stroke="#8a989c" stroke-width="1.6" opacity="0.89"/><path d="M131.7 78.0L140.3 80.7" stroke="#7a848a" stroke-width="2.4" opacity="0.62"/><path d="M170.7 33.6L175.5 29.0" stroke="#dde4e0" stroke-width="0.8" opacity="0.70"/><path d="M186.8 98.4L193.7 90.6" stroke="#e0e6e2" stroke-width="1.9" opacity="0.93"/><path d="M180.4 79.4L187.0 70.6" stroke="#e6f8ec" stroke-width="1.7" opacity="0.90"/><path d="M179.2 28.3L179.3 28.9" stroke="#39444c" stroke-width="0.9" opacity="0.65"/><path d="M179.3 75.4L185.7 66.4" stroke="#b4d0c6" stroke-width="0.8" opacity="0.89"/><path d="M113.4 82.4L116.7 80.6" stroke="#6a6e76" stroke-width="2.1" opacity="0.74"/><path d="M141.7 61.4L145.0 62.8" stroke="#a8b0a8" stroke-width="1.8" opacity="0.67"/><path d="M142.4 107.9L149.3 108.5" stroke="#3c3b54" stroke-width="1.2" opacity="0.55"/><path d="M147.7 72.2L154.1 65.7" stroke="#8a9496" stroke-width="2.2" opacity="0.69"/><path d="M186.7 20.7L192.3 17.1" stroke="#dfe6e2" stroke-width="2.5" opacity="0.56"/><path d="M120.2 33.2L117.3 43.8" stroke="#262b3c" stroke-width="1.7" opacity="0.65"/><path d="M137.2 82.3L144.6 82.9" stroke="#2b2a42" stroke-width="1.3" opacity="0.65"/><path d="M149.5 92.4L157.0 93.9" stroke="#25233a" stroke-width="2.1" opacity="0.61"/><path d="M157.4 69.7L161.4 63.2" stroke="#f6fcf6" stroke-width="1.5" opacity="0.70"/><path d="M173.4 25.2L181.6 17.9" stroke="#fafbf6" stroke-width="2.2" opacity="0.88"/><path d="M146.5 79.8L149.3 77.0" stroke="#e4e8e2" stroke-width="1.4" opacity="0.84"/><path d="M165.5 33.0L170.6 27.3" stroke="#ffffff" stroke-width="1.4" opacity="0.83"/><path d="M179.2 71.3L184.0 65.3" stroke="#6e8682" stroke-width="2.4" opacity="0.67"/><path d="M191.2 34.5L198.9 36.0" stroke="#8a96a4" stroke-width="1.8" opacity="0.58"/><path d="M143.4 56.5L146.9 61.8" stroke="#55646c" stroke-width="2.3" opacity="0.57"/><path d="M143.5 52.0L150.1 43.2" stroke="#f6f7ec" stroke-width="1.4" opacity="0.81"/><path d="M134.6 31.4L140.9 26.7" stroke="#e3e8df" stroke-width="2.4" opacity="0.61"/><path d="M204.2 67.1L213.5 72.9" stroke="#423f5a" stroke-width="1.9" opacity="0.66"/><path d="M186.1 50.6L190.1 49.1" stroke="#243038" stroke-width="2.2" opacity="0.81"/><path d="M125.4 58.4L135.3 60.1" stroke="#7a8288" stroke-width="1.0" opacity="0.61"/><path d="M208.6 26.6L211.7 27.2" stroke="#5e6078" stroke-width="2.1" opacity="0.92"/><path d="M188.4 31.2L194.9 32.2" stroke="#434a60" stroke-width="2.6" opacity="0.77"/><path d="M199.2 100.3L206.2 101.4" stroke="#34324c" stroke-width="1.9" opacity="0.57"/><path d="M123.9 84.4L124.6 94.8" stroke="#a8b0ac" stroke-width="0.9" opacity="0.56"/><path d="M181.9 56.7L188.1 48.2" stroke="#e6f8ec" stroke-width="1.8" opacity="0.93"/><path d="M176.8 69.8L181.9 61.6" stroke="#6e8682" stroke-width="1.2" opacity="0.79"/><path d="M141.5 73.2L145.2 75.1" stroke="#eceee2" stroke-width="1.9" opacity="0.79"/><path d="M111.4 84.9L115.3 82.8" stroke="#d2d6d2" stroke-width="1.7" opacity="0.72"/><path d="M155.0 33.1L156.0 44.0" stroke="#5c6674" stroke-width="0.9" opacity="0.83"/><path d="M190.1 57.0L199.5 62.7" stroke="#423f5a" stroke-width="2.6" opacity="0.70"/><path d="M171.2 86.2L177.3 88.2" stroke="#343848" stroke-width="2.1" opacity="0.91"/><path d="M177.0 107.9L183.6 99.1" stroke="#98a4a4" stroke-width="2.3" opacity="0.92"/><path d="M187.2 38.8L196.7 40.9" stroke="#566072" stroke-width="2.6" opacity="0.78"/><path d="M176.0 83.3L183.3 86.6" stroke="#444a56" stroke-width="1.7" opacity="0.69"/><path d="M110.6 88.8L113.4 87.5" stroke="#b4b8b8" stroke-width="1.6" opacity="0.81"/><path d="M154.4 56.8L153.4 62.4" stroke="#454e58" stroke-width="1.8" opacity="0.67"/><path d="M126.8 29.7L133.5 24.6" stroke="#d2dad4" stroke-width="1.6" opacity="0.76"/><path d="M177.0 118.4L184.0 109.9" stroke="#aab4b2" stroke-width="2.0" opacity="0.69"/><path d="M181.6 31.9L190.9 26.1" stroke="#ffffff" stroke-width="1.8" opacity="0.92"/><path d="M119.1 42.0L127.7 35.2" stroke="#e3e8df" stroke-width="2.5" opacity="0.84"/><path d="M192.4 16.0L196.8 17.0" stroke="#b4bec6" stroke-width="2.2" opacity="0.93"/><path d="M176.6 37.7L184.1 33.4" stroke="#ccd6d4" stroke-width="2.3" opacity="0.55"/><path d="M119.2 94.4L121.7 105.1" stroke="#2c2e3e" stroke-width="2.0" opacity="0.70"/><path d="M194.9 90.4L199.7 87.6" stroke="#6e7a80" stroke-width="1.8" opacity="0.90"/><path d="M148.3 59.5L146.7 69.3" stroke="#98a4a6" stroke-width="1.1" opacity="0.87"/><path d="M196.9 114.5L202.3 115.2" stroke="#222036" stroke-width="2.5" opacity="0.59"/><path d="M199.0 104.3L206.6 105.4" stroke="#34324c" stroke-width="1.5" opacity="0.69"/><path d="M180.0 45.4L184.3 38.4" stroke="#f8faf4" stroke-width="1.8" opacity="0.93"/><path d="M147.1 24.4L153.7 30.0" stroke="#ffffff" stroke-width="2.2" opacity="0.57"/><path d="M170.0 46.2L173.5 41.1" stroke="#ffffff" stroke-width="1.3" opacity="0.86"/><path d="M201.0 62.2L208.4 67.7" stroke="#28263e" stroke-width="1.5" opacity="0.55"/><path d="M135.3 44.6L142.6 36.4" stroke="#ffffff" stroke-width="1.4" opacity="0.73"/><path d="M194.1 49.0L198.7 50.1" stroke="#566072" stroke-width="2.1" opacity="0.68"/><path d="M167.1 114.4L178.1 114.1" stroke="#8e959c" stroke-width="2.1" opacity="0.81"/><path d="M156.8 68.9L162.9 59.7" stroke="#cbded6" stroke-width="2.1" opacity="0.65"/><path d="M119.4 94.3L122.3 104.9" stroke="#2c2e3e" stroke-width="0.9" opacity="0.87"/><path d="M168.4 52.1L172.3 44.9" stroke="#2a3242" stroke-width="2.0" opacity="0.64"/><path d="M203.1 67.6L211.4 73.4" stroke="#4c4a64" stroke-width="1.0" opacity="0.77"/><path d="M158.2 76.3L163.9 68.0" stroke="#dcebe2" stroke-width="1.1" opacity="0.91"/><path d="M186.0 94.3L193.1 91.1" stroke="#8e9a9c" stroke-width="2.1" opacity="0.73"/><path d="M154.7 71.1L160.9 62.0" stroke="#f6fcf6" stroke-width="1.6" opacity="0.82"/><path d="M112.3 55.0L118.7 51.1" stroke="#fbfbf0" stroke-width="2.3" opacity="0.91"/><path d="M158.5 79.3L165.3 70.7" stroke="#ffffff" stroke-width="2.6" opacity="0.79"/><path d="M200.7 37.3L208.4 39.1" stroke="#434a60" stroke-width="3.0" opacity="0.81"/><path d="M151.0 49.7L149.2 58.1" stroke="#1c2028" stroke-width="1.4" opacity="0.61"/><path d="M172.4 107.0L176.5 101.6" stroke="#f4f8f4" stroke-width="2.5" opacity="0.69"/><path d="M207.3 105.9L212.7 107.0" stroke="#34324c" stroke-width="1.8" opacity="0.73"/><path d="M124.3 88.2L124.7 99.2" stroke="#566066" stroke-width="1.4" opacity="0.63"/><path d="M208.5 45.5L214.0 46.1" stroke="#39385a" stroke-width="1.8" opacity="0.76"/><path d="M198.0 91.7L203.8 92.8" stroke="#34324c" stroke-width="1.7" opacity="0.72"/><path d="M161.7 85.2L168.0 76.9" stroke="#dcebe2" stroke-width="1.7" opacity="0.59"/><path d="M188.4 101.4L194.5 92.8" stroke="#ffffff" stroke-width="2.6" opacity="0.90"/><path d="M192.8 84.9L198.5 82.0" stroke="#8e9a9c" stroke-width="1.5" opacity="0.94"/><path d="M167.7 108.3L178.7 108.0" stroke="#8e959c" stroke-width="1.3" opacity="0.72"/><path d="M198.6 103.7L203.3 104.6" stroke="#34324c" stroke-width="1.2" opacity="0.73"/><path d="M148.2 100.1L159.1 101.2" stroke="#25233a" stroke-width="1.1" opacity="0.71"/><path d="M119.1 93.0L121.8 102.7" stroke="#5a6270" stroke-width="2.6" opacity="0.73"/><path d="M130.8 12.4L139.9 18.5" stroke="#e8eeea" stroke-width="1.4" opacity="0.64"/><path d="M162.9 20.9L170.7 13.1" stroke="#dde4e0" stroke-width="0.9" opacity="0.91"/><path d="M156.4 105.8L166.6 104.6" stroke="#464a58" stroke-width="2.2" opacity="0.55"/><path d="M194.0 104.1L203.9 105.9" stroke="#34324c" stroke-width="1.4" opacity="0.93"/><path d="M165.4 100.7L173.8 101.4" stroke="#35334c" stroke-width="2.0" opacity="0.77"/><path d="M181.7 105.7L186.8 99.8" stroke="#f0f4ee" stroke-width="0.9" opacity="0.78"/><path d="M135.6 51.0L142.3 45.2" stroke="#f6f7ec" stroke-width="0.9" opacity="0.58"/><path d="M143.1 80.9L150.0 81.1" stroke="#2b2a42" stroke-width="0.9" opacity="0.78"/><path d="M139.6 49.5L149.7 45.1" stroke="#e3e8df" stroke-width="2.1" opacity="0.79"/><path d="M194.2 59.1L203.5 65.1" stroke="#423f5a" stroke-width="2.4" opacity="0.58"/><path d="M111.1 75.7L118.3 81.1" stroke="#eef0e8" stroke-width="1.1" opacity="0.84"/><path d="M131.1 66.0L138.5 69.9" stroke="#a8b0a8" stroke-width="2.4" opacity="0.92"/><path d="M122.1 45.5L129.9 40.8" stroke="#ffffff" stroke-width="2.3" opacity="0.86"/><path d="M129.1 88.3L129.5 99.3" stroke="#a8b0ac" stroke-width="1.9" opacity="0.75"/><path d="M206.8 96.2L210.0 95.7" stroke="#6a7484" stroke-width="1.5" opacity="0.82"/><path d="M156.8 91.7L165.7 93.1" stroke="#35334c" stroke-width="1.9" opacity="0.68"/><path d="M191.1 64.6L200.3 70.7" stroke="#4c4a64" stroke-width="1.5" opacity="0.83"/><path d="M184.0 87.1L189.6 83.9" stroke="#1c2030" stroke-width="1.8" opacity="0.57"/><path d="M133.2 54.7L136.6 61.4" stroke="#1f2a36" stroke-width="2.3" opacity="0.63"/><path d="M139.0 105.5L148.8 105.8" stroke="#2b2a42" stroke-width="1.5" opacity="0.83"/><path d="M159.8 67.6L164.0 61.4" stroke="#f6fcf6" stroke-width="1.3" opacity="0.62"/><path d="M203.0 60.8L210.4 67.7" stroke="#2e2c46" stroke-width="2.2" opacity="0.94"/><path d="M112.0 19.6L110.7 30.5" stroke="#9aa4b0" stroke-width="1.5" opacity="0.93"/><path d="M163.0 70.5L168.6 61.7" stroke="#cbded6" stroke-width="2.1" opacity="0.71"/><path d="M167.0 47.6L169.7 43.3" stroke="#2a3242" stroke-width="2.1" opacity="0.85"/><path d="M168.2 57.8L172.1 51.6" stroke="#f6fcf6" stroke-width="1.2" opacity="0.80"/><path d="M179.0 79.0L184.1 71.1" stroke="#86a098" stroke-width="0.9" opacity="0.89"/><path d="M180.4 34.9L187.8 31.0" stroke="#ffffff" stroke-width="2.0" opacity="0.75"/><path d="M164.1 38.9L172.2 31.5" stroke="#dde4e0" stroke-width="2.1" opacity="0.62"/><path d="M142.5 76.0L151.2 79.7" stroke="#2a2e3c" stroke-width="2.4" opacity="0.92"/><path d="M172.3 25.1L180.0 17.3" stroke="#cad3d0" stroke-width="1.2" opacity="0.66"/><path d="M170.8 39.2L175.9 33.7" stroke="#ffffff" stroke-width="1.8" opacity="0.59"/><path d="M169.1 117.2L176.0 109.0" stroke="#ffffff" stroke-width="2.2" opacity="0.80"/><path d="M177.9 42.7L185.5 35.4" stroke="#cad3d0" stroke-width="1.5" opacity="0.82"/><path d="M177.3 64.7L183.9 55.9" stroke="#e0f0e6" stroke-width="2.2" opacity="0.69"/><path d="M127.9 67.1L133.3 70.4" stroke="#50585e" stroke-width="1.7" opacity="0.93"/><path d="M119.7 62.0L125.3 65.4" stroke="#50585e" stroke-width="2.1" opacity="0.69"/><path d="M170.9 53.1L174.1 49.5" stroke="#2c3440" stroke-width="1.0" opacity="0.57"/><path d="M177.5 36.4L184.1 32.9" stroke="#dfe6e2" stroke-width="1.2" opacity="0.71"/><path d="M194.5 23.0L200.6 24.3" stroke="#434a60" stroke-width="2.5" opacity="0.80"/><path d="M142.2 20.9L150.3 27.9" stroke="#ffffff" stroke-width="1.1" opacity="0.86"/><path d="M117.4 62.9L124.9 67.5" stroke="#6c7478" stroke-width="2.1" opacity="0.87"/><path d="M136.6 33.1L146.3 27.9" stroke="#e3e8df" stroke-width="1.1" opacity="0.77"/><path d="M177.0 81.5L183.9 84.3" stroke="#444a56" stroke-width="2.4" opacity="0.66"/><path d="M167.3 61.8L171.7 55.9" stroke="#dcebe2" stroke-width="2.0" opacity="0.61"/><path d="M122.4 48.9L130.1 41.0" stroke="#fdfdf5" stroke-width="2.1" opacity="0.92"/><path d="M201.8 55.9L207.7 61.3" stroke="#3a3a54" stroke-width="2.0" opacity="0.70"/><path d="M178.7 69.5L185.3 60.7" stroke="#f3fff6" stroke-width="0.8" opacity="0.90"/><path d="M173.1 25.7L180.6 17.6" stroke="#fafbf6" stroke-width="1.2" opacity="0.62"/><path d="M205.0 36.9L212.2 38.2" stroke="#39385a" stroke-width="1.9" opacity="0.77"/><path d="M188.0 70.1L196.5 75.6" stroke="#4c4a64" stroke-width="1.5" opacity="0.78"/><path d="M109.9 80.1L113.1 90.7" stroke="#4c5262" stroke-width="2.3" opacity="0.70"/><path d="M118.4 51.8L127.5 47.3" stroke="#fbfbf0" stroke-width="2.0" opacity="0.69"/><path d="M208.6 106.2L219.2 108.0" stroke="#34324c" stroke-width="1.3" opacity="0.64"/><path d="M123.9 100.9L124.7 111.9" stroke="#566066" stroke-width="2.6" opacity="0.71"/><path d="M135.8 52.1L142.8 43.6" stroke="#d2dad4" stroke-width="1.7" opacity="0.63"/><path d="M149.2 31.2L157.6 37.7" stroke="#f3f5ef" stroke-width="1.8" opacity="0.90"/><path d="M208.3 60.4L215.2 64.7" stroke="#423f5a" stroke-width="1.4" opacity="0.67"/><path d="M120.4 34.6L129.1 27.9" stroke="#e3e8df" stroke-width="1.0" opacity="0.88"/><path d="M167.7 98.8L178.7 100.1" stroke="#25233a" stroke-width="2.5" opacity="0.80"/><path d="M178.3 63.1L184.3 54.6" stroke="#e6f8ec" stroke-width="2.4" opacity="0.57"/><path d="M120.5 14.0L117.3 22.0" stroke="#262b3c" stroke-width="1.3" opacity="0.55"/><path d="M139.8 81.0L145.4 81.3" stroke="#3c3b54" stroke-width="1.2" opacity="0.69"/><path d="M197.7 49.7L204.0 54.2" stroke="#28263e" stroke-width="2.1" opacity="0.85"/><path d="M190.9 55.5L196.8 60.3" stroke="#a4acb4" stroke-width="1.5" opacity="0.61"/><path d="M205.7 17.2L212.5 18.0" stroke="#39385a" stroke-width="1.5" opacity="0.70"/><path d="M209.5 70.6L218.3 77.2" stroke="#4c4a64" stroke-width="2.6" opacity="0.73"/><path d="M205.9 37.4L211.3 38.3" stroke="#39385a" stroke-width="2.4" opacity="0.88"/><path d="M160.5 54.4L164.6 49.8" stroke="#384250" stroke-width="2.8" opacity="0.89"/><path d="M139.6 97.7L146.8 98.5" stroke="#2b2a42" stroke-width="1.7" opacity="0.92"/><path d="M130.5 84.0L137.3 84.9" stroke="#2b2a42" stroke-width="1.0" opacity="0.78"/><path d="M182.1 109.4L187.4 102.0" stroke="#f0f4ee" stroke-width="2.3" opacity="0.83"/><path d="M193.3 63.1L199.4 67.5" stroke="#4c4a64" stroke-width="1.6" opacity="0.60"/><path d="M200.9 63.7L208.5 69.0" stroke="#28263e" stroke-width="1.3" opacity="0.80"/><path d="M179.0 69.3L184.5 61.3" stroke="#86a098" stroke-width="2.5" opacity="0.94"/><path d="M139.7 40.7L148.4 34.4" stroke="#f6f7ec" stroke-width="1.9" opacity="0.60"/><path d="M178.2 117.9L185.0 109.3" stroke="#78848a" stroke-width="2.2" opacity="0.78"/><path d="M158.5 28.9L159.4 39.8" stroke="#5c6674" stroke-width="1.3" opacity="0.59"/><path d="M144.5 109.0L154.6 108.5" stroke="#464a58" stroke-width="1.7" opacity="0.69"/><path d="M189.1 84.5L194.2 82.0" stroke="#8e9a9c" stroke-width="2.0" opacity="0.89"/><path d="M116.7 107.6L119.1 118.3" stroke="#4c5262" stroke-width="2.6" opacity="0.73"/><path d="M127.1 84.6L136.8 85.8" stroke="#3c3b54" stroke-width="1.3" opacity="0.74"/><path d="M197.5 30.2L202.1 31.3" stroke="#566072" stroke-width="2.7" opacity="0.83"/><path d="M171.8 116.9L176.7 111.0" stroke="#ffffff" stroke-width="0.8" opacity="0.94"/><path d="M191.1 89.0L199.0 85.2" stroke="#6e7a80" stroke-width="2.0" opacity="0.86"/><path d="M207.9 82.9L215.4 84.1" stroke="#34324c" stroke-width="0.8" opacity="0.67"/><path d="M125.8 89.4L125.8 100.4" stroke="#8e989a" stroke-width="1.1" opacity="0.86"/><path d="M113.8 54.9L123.0 48.8" stroke="#d6dcd0" stroke-width="2.1" opacity="0.72"/><path d="M206.1 94.4L210.0 93.6" stroke="#b4bec6" stroke-width="1.7" opacity="0.72"/><path d="M133.9 113.4L140.4 113.8" stroke="#2b2a42" stroke-width="2.2" opacity="0.75"/><path d="M154.7 36.6L155.3 47.6" stroke="#5c6674" stroke-width="2.4" opacity="0.87"/><path d="M143.1 52.8L150.5 44.7" stroke="#d2dad4" stroke-width="1.3" opacity="0.85"/><path d="M172.7 22.7L172.9 23.6" stroke="#39444c" stroke-width="2.6" opacity="0.79"/><path d="M173.2 113.3L178.5 106.7" stroke="#f4f8f4" stroke-width="0.9" opacity="0.65"/><path d="M189.9 67.0L198.8 73.4" stroke="#423f5a" stroke-width="2.2" opacity="0.90"/><path d="M140.2 100.6L145.3 101.0" stroke="#2b2a42" stroke-width="1.5" opacity="0.83"/><path d="M112.2 60.3L113.4 71.3" stroke="#8894a4" stroke-width="1.6" opacity="0.79"/><path d="M142.6 52.9L145.6 58.1" stroke="#1f2a36" stroke-width="2.1" opacity="0.60"/><path d="M161.3 52.7L165.3 45.7" stroke="#3a4452" stroke-width="3.3" opacity="0.78"/><path d="M159.2 83.5L169.1 87.5" stroke="#7e868c" stroke-width="2.6" opacity="0.55"/><path d="M125.9 23.2L122.4 33.7" stroke="#3e4558" stroke-width="1.7" opacity="0.76"/><path d="M143.4 49.6L146.4 54.7" stroke="#55646c" stroke-width="2.1" opacity="0.81"/><path d="M161.4 115.1L172.3 113.7" stroke="#7a808a" stroke-width="1.5" opacity="0.90"/><path d="M154.8 50.2L153.8 55.8" stroke="#98a4a6" stroke-width="2.4" opacity="0.84"/><path d="M155.4 48.0L154.2 57.1" stroke="#1c2028" stroke-width="1.1" opacity="0.76"/><path d="M130.1 96.0L136.1 96.3" stroke="#3c3b54" stroke-width="2.3" opacity="0.83"/><path d="M137.6 37.5L146.4 30.9" stroke="#f6f7ec" stroke-width="0.9" opacity="0.84"/><path d="M147.5 98.9L158.4 100.6" stroke="#35334c" stroke-width="2.2" opacity="0.95"/><path d="M117.9 28.8L113.9 39.1" stroke="#1e2232" stroke-width="2.2" opacity="0.92"/><path d="M177.4 34.6L182.8 28.5" stroke="#fafbf6" stroke-width="1.7" opacity="0.81"/><path d="M178.7 23.8L186.9 16.4" stroke="#dde4e0" stroke-width="1.8" opacity="0.95"/><path d="M132.2 38.1L142.2 33.6" stroke="#ffffff" stroke-width="2.1" opacity="0.94"/><path d="M194.4 50.0L201.8 57.0" stroke="#8a92a0" stroke-width="1.3" opacity="0.86"/><path d="M184.3 69.7L191.4 61.4" stroke="#b4d0c6" stroke-width="1.1" opacity="0.69"/><path d="M210.3 87.8L216.5 89.0" stroke="#222036" stroke-width="1.6" opacity="0.57"/><path d="M136.6 67.2L142.6 69.6" stroke="#a8b0a8" stroke-width="1.6" opacity="0.91"/><path d="M139.1 37.7L146.3 29.4" stroke="#ffffff" stroke-width="2.2" opacity="0.86"/><path d="M196.6 74.4L205.7 80.6" stroke="#4c4a64" stroke-width="1.8" opacity="0.76"/><path d="M115.7 61.6L122.0 65.4" stroke="#50585e" stroke-width="2.5" opacity="0.77"/><path d="M138.2 87.6L145.5 87.7" stroke="#2b2a42" stroke-width="1.2" opacity="0.64"/><path d="M187.7 20.5L196.9 22.7" stroke="#b4bec6" stroke-width="1.7" opacity="0.57"/><path d="M114.0 107.5L117.1 118.0" stroke="#5a6270" stroke-width="2.2" opacity="0.90"/><path d="M141.9 101.4L152.8 102.9" stroke="#25233a" stroke-width="1.5" opacity="0.92"/><path d="M172.0 32.7L177.6 26.7" stroke="#ffffff" stroke-width="2.1" opacity="0.77"/><path d="M150.0 42.9L148.4 52.2" stroke="#67727a" stroke-width="1.7" opacity="0.79"/><path d="M172.6 75.4L177.2 68.7" stroke="#c6dad0" stroke-width="1.7" opacity="0.86"/><path d="M207.1 79.7L216.7 80.9" stroke="#222036" stroke-width="1.3" opacity="0.76"/><path d="M184.8 117.3L189.3 112.1" stroke="#f0f4ee" stroke-width="2.6" opacity="0.70"/><path d="M207.6 61.0L216.8 67.0" stroke="#4c4a64" stroke-width="2.4" opacity="0.68"/><path d="M144.8 49.4L147.7 46.8" stroke="#e6ebe6" stroke-width="1.9" opacity="0.77"/><path d="M137.9 112.6L143.5 113.1" stroke="#2b2a42" stroke-width="1.3" opacity="0.59"/><path d="M161.6 82.1L170.5 86.2" stroke="#7e868c" stroke-width="1.9" opacity="0.91"/><path d="M191.0 77.6L200.1 83.9" stroke="#28263e" stroke-width="2.1" opacity="0.88"/><path d="M197.0 64.0L205.2 71.3" stroke="#8a92a0" stroke-width="1.4" opacity="0.78"/><path d="M145.2 113.4L155.9 112.8" stroke="#353848" stroke-width="1.8" opacity="0.94"/><path d="M196.0 116.1L202.9 107.5" stroke="#78848a" stroke-width="1.1" opacity="0.64"/><path d="M126.9 99.9L127.6 107.7" stroke="#8e989a" stroke-width="1.3" opacity="0.69"/><path d="M199.7 48.7L207.4 50.2" stroke="#566072" stroke-width="1.6" opacity="0.84"/><path d="M182.2 113.3L187.6 105.3" stroke="#98a4a4" stroke-width="1.7" opacity="0.78"/><path d="M197.5 64.9L201.4 68.2" stroke="#a4acb4" stroke-width="1.7" opacity="0.60"/><path d="M178.1 20.5L186.7 16.2" stroke="#ccd6d4" stroke-width="1.6" opacity="0.70"/><path d="M193.4 88.0L200.1 84.0" stroke="#8e9a9c" stroke-width="1.9" opacity="0.84"/></g>
<path d="M126.7 22.4L122.4 33.6L118.6 43.5" stroke="#dcae80" stroke-width="0.6" fill="none" opacity="0.9"/>
</g>
<text x="205.5" y="110.5" class="sb" font-size="7" style="fill:#eee">b</text>
<g id="chartA">
<rect x="26.6" y="134.5" width="8.6" height="121.1" fill="#dcdcdc" stroke="#222" stroke-width="0.6" stroke-dasharray="1 0.8"/>
<path d="M26.6 134.5V255.6H199.6" fill="none" stroke="#333" stroke-width="0.6"/>
<path d="M25.1 255.6h1.5" stroke="#333" stroke-width="0.5"/>
<text x="23.6" y="257.2" class="tb" font-size="5.1" text-anchor="end">0</text>
<path d="M25.1 244.6h1.5" stroke="#333" stroke-width="0.5"/>
<text x="23.6" y="246.2" class="tb" font-size="5.1" text-anchor="end">10</text>
<path d="M25.1 233.6h1.5" stroke="#333" stroke-width="0.5"/>
<text x="23.6" y="235.2" class="tb" font-size="5.1" text-anchor="end">20</text>
<path d="M25.1 222.6h1.5" stroke="#333" stroke-width="0.5"/>
<text x="23.6" y="224.2" class="tb" font-size="5.1" text-anchor="end">30</text>
<path d="M25.1 211.6h1.5" stroke="#333" stroke-width="0.5"/>
<text x="23.6" y="213.2" class="tb" font-size="5.1" text-anchor="end">40</text>
<path d="M25.1 200.6h1.5" stroke="#333" stroke-width="0.5"/>
<text x="23.6" y="202.2" class="tb" font-size="5.1" text-anchor="end">50</text>
<path d="M25.1 189.5h1.5" stroke="#333" stroke-width="0.5"/>
<text x="23.6" y="191.1" class="tb" font-size="5.1" text-anchor="end">60</text>
<path d="M25.1 178.5h1.5" stroke="#333" stroke-width="0.5"/>
<text x="23.6" y="180.1" class="tb" font-size="5.1" text-anchor="end">70</text>
<path d="M25.1 167.5h1.5" stroke="#333" stroke-width="0.5"/>
<text x="23.6" y="169.1" class="tb" font-size="5.1" text-anchor="end">80</text>
<path d="M25.1 156.5h1.5" stroke="#333" stroke-width="0.5"/>
<text x="23.6" y="158.1" class="tb" font-size="5.1" text-anchor="end">90</text>
<path d="M25.1 145.5h1.5" stroke="#333" stroke-width="0.5"/>
<text x="23.6" y="147.1" class="tb" font-size="5.1" text-anchor="end">100</text>
<path d="M25.1 134.5h1.5" stroke="#333" stroke-width="0.5"/>
<text x="23.6" y="136.1" class="tb" font-size="5.1" text-anchor="end">110</text>
<path d="M26.6 255.6v1.5" stroke="#333" stroke-width="0.5"/>
<text x="26.6" y="264.8" class="tr" font-size="4.6" text-anchor="middle" stroke="#222" stroke-width="0.14">0</text>
<path d="M43.9 255.6v1.5" stroke="#333" stroke-width="0.5"/>
<text x="43.9" y="264.8" class="tr" font-size="4.6" text-anchor="middle" stroke="#222" stroke-width="0.14">24</text>
<path d="M61.2 255.6v1.5" stroke="#333" stroke-width="0.5"/>
<text x="61.2" y="264.8" class="tr" font-size="4.6" text-anchor="middle" stroke="#222" stroke-width="0.14">48</text>
<path d="M78.5 255.6v1.5" stroke="#333" stroke-width="0.5"/>
<text x="78.5" y="264.8" class="tr" font-size="4.6" text-anchor="middle" stroke="#222" stroke-width="0.14">72</text>
<path d="M95.8 255.6v1.5" stroke="#333" stroke-width="0.5"/>
<text x="95.8" y="264.8" class="tr" font-size="4.6" text-anchor="middle" stroke="#222" stroke-width="0.14">96</text>
<path d="M113.1 255.6v1.5" stroke="#333" stroke-width="0.5"/>
<text x="113.1" y="264.8" class="tr" font-size="4.6" text-anchor="middle" stroke="#222" stroke-width="0.14">120</text>
<path d="M130.4 255.6v1.5" stroke="#333" stroke-width="0.5"/>
<text x="130.4" y="264.8" class="tr" font-size="4.6" text-anchor="middle" stroke="#222" stroke-width="0.14">144</text>
<path d="M147.7 255.6v1.5" stroke="#333" stroke-width="0.5"/>
<text x="147.7" y="264.8" class="tr" font-size="4.6" text-anchor="middle" stroke="#222" stroke-width="0.14">168</text>
<path d="M165.0 255.6v1.5" stroke="#333" stroke-width="0.5"/>
<text x="165.0" y="264.8" class="tr" font-size="4.6" text-anchor="middle" stroke="#222" stroke-width="0.14">192</text>
<path d="M182.3 255.6v1.5" stroke="#333" stroke-width="0.5"/>
<text x="182.3" y="264.8" class="tr" font-size="4.6" text-anchor="middle" stroke="#222" stroke-width="0.14">216</text>
<path d="M199.6 255.6v1.5" stroke="#333" stroke-width="0.5"/>
<text x="199.6" y="264.8" class="tr" font-size="4.6" text-anchor="middle" stroke="#222" stroke-width="0.14">240</text>
<text x="102" y="271.4" class="tb" font-size="7" textLength="23" lengthAdjust="spacingAndGlyphs">Time (h)</text>
<text transform="translate(12.3 222.8) rotate(-90)" class="tb" font-size="6.9" textLength="61.3" lengthAdjust="spacingAndGlyphs" stroke="#111" stroke-width="0.15">Cumulative release (%)</text>
<text x="42.8" y="143" class="tr" font-size="7.4" textLength="120.2" lengthAdjust="spacingAndGlyphs" stroke="#222" stroke-width="0.12">Shaded region expanded in the inserted panel</text>
<path d="M35.2 179.6C36.7 177.3 39.6 169.4 43.9 165.9C48.2 162.4 55.4 160.3 61.2 158.7C67.0 157.2 72.7 157.1 78.5 156.5C84.3 156.0 90.0 155.6 95.8 155.4C101.6 155.2 107.3 155.1 113.1 155.1C118.9 155.0 124.6 155.1 130.4 155.1C136.2 155.1 141.9 155.1 147.7 155.1C153.5 155.0 159.2 154.9 165.0 154.7C170.8 154.6 176.5 154.4 182.3 154.3C188.1 154.2 196.7 154.3 199.6 154.3" fill="none" stroke="#555" stroke-width="0.55"/>
<path d="M26.6 255.6L27.0 223.7L27.3 214.9L28.0 206.1L29.5 192.8L30.9 188.4L35.2 179.6" fill="none" stroke="#444" stroke-width="0.5"/>
<path d="M26.6 254.5l1.1 1.1l-1.1 1.1l-1.1 -1.1z" fill="#111"/>
<path d="M27.0 222.6l1.1 1.1l-1.1 1.1l-1.1 -1.1z" fill="#111"/>
<path d="M27.3 213.8l1.1 1.1l-1.1 1.1l-1.1 -1.1z" fill="#111"/>
<path d="M28.0 205.0l1.1 1.1l-1.1 1.1l-1.1 -1.1z" fill="#111"/>
<path d="M29.5 191.7l1.1 1.1l-1.1 1.1l-1.1 -1.1z" fill="#111"/>
<path d="M30.9 187.3l1.1 1.1l-1.1 1.1l-1.1 -1.1z" fill="#111"/>
<path d="M35.2 178.5l1.1 1.1l-1.1 1.1l-1.1 -1.1z" fill="#111"/>
<path d="M43.9 161.3v9.2M42.9 161.3h2M42.9 170.5h2" stroke="#444" stroke-width="0.45" stroke-dasharray="0.9 0.5" fill="none"/>
<path d="M43.9 164.8l1.1 1.1l-1.1 1.1l-1.1 -1.1z" fill="#111"/>
<path d="M61.2 154.1v9.2M60.2 154.1h2M60.2 163.3h2" stroke="#444" stroke-width="0.45" stroke-dasharray="0.9 0.5" fill="none"/>
<path d="M61.2 157.6l1.1 1.1l-1.1 1.1l-1.1 -1.1z" fill="#111"/>
<path d="M78.5 151.9v9.2M77.5 151.9h2M77.5 161.1h2" stroke="#444" stroke-width="0.45" stroke-dasharray="0.9 0.5" fill="none"/>
<path d="M78.5 155.4l1.1 1.1l-1.1 1.1l-1.1 -1.1z" fill="#111"/>
<path d="M95.8 150.8v9.2M94.8 150.8h2M94.8 160.0h2" stroke="#444" stroke-width="0.45" stroke-dasharray="0.9 0.5" fill="none"/>
<path d="M95.8 154.3l1.1 1.1l-1.1 1.1l-1.1 -1.1z" fill="#111"/>
<path d="M113.1 150.9v8.4M112.1 150.9h2M112.1 159.3h2" stroke="#444" stroke-width="0.45" stroke-dasharray="0.9 0.5" fill="none"/>
<path d="M113.1 154.0l1.1 1.1l-1.1 1.1l-1.1 -1.1z" fill="#111"/>
<path d="M130.4 150.9v8.4M129.4 150.9h2M129.4 159.3h2" stroke="#444" stroke-width="0.45" stroke-dasharray="0.9 0.5" fill="none"/>
<path d="M130.4 154.0l1.1 1.1l-1.1 1.1l-1.1 -1.1z" fill="#111"/>
<path d="M147.7 150.9v8.4M146.7 150.9h2M146.7 159.3h2" stroke="#444" stroke-width="0.45" stroke-dasharray="0.9 0.5" fill="none"/>
<path d="M147.7 154.0l1.1 1.1l-1.1 1.1l-1.1 -1.1z" fill="#111"/>
<path d="M165.0 150.5v8.4M164.0 150.5h2M164.0 158.9h2" stroke="#444" stroke-width="0.45" stroke-dasharray="0.9 0.5" fill="none"/>
<path d="M165.0 153.6l1.1 1.1l-1.1 1.1l-1.1 -1.1z" fill="#111"/>
<path d="M182.3 150.1v8.4M181.3 150.1h2M181.3 158.5h2" stroke="#444" stroke-width="0.45" stroke-dasharray="0.9 0.5" fill="none"/>
<path d="M182.3 153.2l1.1 1.1l-1.1 1.1l-1.1 -1.1z" fill="#111"/>
<path d="M199.6 150.1v8.4M198.6 150.1h2M198.6 158.5h2" stroke="#444" stroke-width="0.45" stroke-dasharray="0.9 0.5" fill="none"/>
<path d="M199.6 153.2l1.1 1.1l-1.1 1.1l-1.1 -1.1z" fill="#111"/>
<path d="M35.2 181.3C36.7 179.7 39.6 174.6 43.9 171.9C48.2 169.3 55.4 167.0 61.2 165.3C67.0 163.7 72.7 162.9 78.5 162.0C84.3 161.1 90.0 160.5 95.8 159.8C101.6 159.2 107.3 158.6 113.1 158.2C118.9 157.7 124.6 157.5 130.4 157.1C136.2 156.6 141.9 155.7 147.7 155.4C153.5 155.1 159.2 155.4 165.0 155.2C170.8 155.0 176.5 154.5 182.3 154.3C188.1 154.1 196.7 154.0 199.6 154.0" fill="none" stroke="#555" stroke-width="0.55"/>
<path d="M26.6 255.6L27.0 213.8L27.3 199.4L28.0 192.8L29.5 190.1L30.9 187.3L35.2 181.3" fill="none" stroke="#444" stroke-width="0.5"/>
<rect x="25.4" y="254.4" width="2.4" height="2.4" fill="#111"/>
<rect x="25.8" y="212.6" width="2.4" height="2.4" fill="#111"/>
<rect x="26.1" y="198.2" width="2.4" height="2.4" fill="#111"/>
<rect x="26.8" y="191.6" width="2.4" height="2.4" fill="#111"/>
<rect x="28.3" y="188.9" width="2.4" height="2.4" fill="#111"/>
<rect x="29.7" y="186.1" width="2.4" height="2.4" fill="#111"/>
<rect x="34.0" y="180.1" width="2.4" height="2.4" fill="#111"/>
<path d="M43.9 167.3v9.2M42.9 167.3h2M42.9 176.5h2" stroke="#444" stroke-width="0.45" stroke-dasharray="0.9 0.5" fill="none"/>
<rect x="42.7" y="170.7" width="2.4" height="2.4" fill="#111"/>
<path d="M61.2 160.7v9.2M60.2 160.7h2M60.2 169.9h2" stroke="#444" stroke-width="0.45" stroke-dasharray="0.9 0.5" fill="none"/>
<rect x="60.0" y="164.1" width="2.4" height="2.4" fill="#111"/>
<path d="M78.5 157.4v9.2M77.5 157.4h2M77.5 166.6h2" stroke="#444" stroke-width="0.45" stroke-dasharray="0.9 0.5" fill="none"/>
<rect x="77.3" y="160.8" width="2.4" height="2.4" fill="#111"/>
<path d="M95.8 155.2v9.2M94.8 155.2h2M94.8 164.4h2" stroke="#444" stroke-width="0.45" stroke-dasharray="0.9 0.5" fill="none"/>
<rect x="94.6" y="158.6" width="2.4" height="2.4" fill="#111"/>
<path d="M113.1 154.0v8.4M112.1 154.0h2M112.1 162.4h2" stroke="#444" stroke-width="0.45" stroke-dasharray="0.9 0.5" fill="none"/>
<rect x="111.9" y="157.0" width="2.4" height="2.4" fill="#111"/>
<path d="M130.4 152.9v8.4M129.4 152.9h2M129.4 161.3h2" stroke="#444" stroke-width="0.45" stroke-dasharray="0.9 0.5" fill="none"/>
<rect x="129.2" y="155.9" width="2.4" height="2.4" fill="#111"/>
<path d="M147.7 151.2v8.4M146.7 151.2h2M146.7 159.6h2" stroke="#444" stroke-width="0.45" stroke-dasharray="0.9 0.5" fill="none"/>
<rect x="146.5" y="154.2" width="2.4" height="2.4" fill="#111"/>
<path d="M165.0 151.0v8.4M164.0 151.0h2M164.0 159.4h2" stroke="#444" stroke-width="0.45" stroke-dasharray="0.9 0.5" fill="none"/>
<rect x="163.8" y="154.0" width="2.4" height="2.4" fill="#111"/>
<path d="M182.3 150.1v8.4M181.3 150.1h2M181.3 158.5h2" stroke="#444" stroke-width="0.45" stroke-dasharray="0.9 0.5" fill="none"/>
<rect x="181.1" y="153.1" width="2.4" height="2.4" fill="#111"/>
<path d="M199.6 149.8v8.4M198.6 149.8h2M198.6 158.2h2" stroke="#444" stroke-width="0.45" stroke-dasharray="0.9 0.5" fill="none"/>
<rect x="198.4" y="152.8" width="2.4" height="2.4" fill="#111"/>
<path d="M35.6 206.4H62" stroke="#222" stroke-width="0.6"/><path d="M63.4 206.4l-2.6 -1.5v3z" fill="#222"/>
<path d="M186.6 168.4h9.6M186.6 177.4h9.6" stroke="#444" stroke-width="0.5"/>
<path d="M191.4 167.2l1.2 1.2l-1.2 1.2l-1.2 -1.2z" fill="#111"/><rect x="190.1" y="176.1" width="2.6" height="2.6" fill="#111"/>
<text x="200" y="170.2" class="tr" font-size="5.3" stroke="#222" stroke-width="0.15">ISV<tspan font-size="3.4" dy="1.2">2</tspan></text>
<text x="200" y="179.2" class="tr" font-size="5.3" stroke="#222" stroke-width="0.15">ISH<tspan font-size="3.4" dy="1.2">2</tspan></text>
<rect x="64.4" y="172.4" width="91" height="78" fill="#e4e4e4" stroke="#222" stroke-width="0.6" stroke-dasharray="1.1 0.8"/>
<path d="M83.4 178.0V231.4H147.0" fill="none" stroke="#333" stroke-width="0.5"/>
<path d="M82.4 231.4h1" stroke="#333" stroke-width="0.4"/>
<text x="81.4" y="232.8" class="tr" font-size="4.6" text-anchor="end" stroke="#222" stroke-width="0.1">0</text>
<path d="M82.4 224.7h1" stroke="#333" stroke-width="0.4"/>
<text x="81.4" y="226.1" class="tr" font-size="4.6" text-anchor="end" stroke="#222" stroke-width="0.1">10</text>
<path d="M82.4 218.1h1" stroke="#333" stroke-width="0.4"/>
<text x="81.4" y="219.5" class="tr" font-size="4.6" text-anchor="end" stroke="#222" stroke-width="0.1">20</text>
<path d="M82.4 211.4h1" stroke="#333" stroke-width="0.4"/>
<text x="81.4" y="212.8" class="tr" font-size="4.6" text-anchor="end" stroke="#222" stroke-width="0.1">30</text>
<path d="M82.4 204.7h1" stroke="#333" stroke-width="0.4"/>
<text x="81.4" y="206.1" class="tr" font-size="4.6" text-anchor="end" stroke="#222" stroke-width="0.1">40</text>
<path d="M82.4 198.0h1" stroke="#333" stroke-width="0.4"/>
<text x="81.4" y="199.4" class="tr" font-size="4.6" text-anchor="end" stroke="#222" stroke-width="0.1">50</text>
<path d="M82.4 191.4h1" stroke="#333" stroke-width="0.4"/>
<text x="81.4" y="192.8" class="tr" font-size="4.6" text-anchor="end" stroke="#222" stroke-width="0.1">60</text>
<path d="M82.4 184.7h1" stroke="#333" stroke-width="0.4"/>
<text x="81.4" y="186.1" class="tr" font-size="4.6" text-anchor="end" stroke="#222" stroke-width="0.1">70</text>
<path d="M82.4 178.0h1" stroke="#333" stroke-width="0.4"/>
<text x="81.4" y="179.4" class="tr" font-size="4.6" text-anchor="end" stroke="#222" stroke-width="0.1">80</text>
<path d="M83.4 231.4v-1" stroke="#333" stroke-width="0.4"/>
<text x="83.4" y="240.0" class="tr" font-size="4.9" text-anchor="middle" stroke="#222" stroke-width="0.1">0</text>
<path d="M88.7 231.4v-1" stroke="#333" stroke-width="0.4"/>
<text x="88.7" y="240.0" class="tr" font-size="4.9" text-anchor="middle" stroke="#222" stroke-width="0.1">1</text>
<path d="M94.0 231.4v-1" stroke="#333" stroke-width="0.4"/>
<text x="94.0" y="240.0" class="tr" font-size="4.9" text-anchor="middle" stroke="#222" stroke-width="0.1">2</text>
<path d="M99.3 231.4v-1" stroke="#333" stroke-width="0.4"/>
<text x="99.3" y="240.0" class="tr" font-size="4.9" text-anchor="middle" stroke="#222" stroke-width="0.1">3</text>
<path d="M104.6 231.4v-1" stroke="#333" stroke-width="0.4"/>
<text x="104.6" y="240.0" class="tr" font-size="4.9" text-anchor="middle" stroke="#222" stroke-width="0.1">4</text>
<path d="M109.9 231.4v-1" stroke="#333" stroke-width="0.4"/>
<text x="109.9" y="240.0" class="tr" font-size="4.9" text-anchor="middle" stroke="#222" stroke-width="0.1">5</text>
<path d="M115.2 231.4v-1" stroke="#333" stroke-width="0.4"/>
<text x="115.2" y="240.0" class="tr" font-size="4.9" text-anchor="middle" stroke="#222" stroke-width="0.1">6</text>
<path d="M120.5 231.4v-1" stroke="#333" stroke-width="0.4"/>
<text x="120.5" y="240.0" class="tr" font-size="4.9" text-anchor="middle" stroke="#222" stroke-width="0.1">7</text>
<path d="M125.8 231.4v-1" stroke="#333" stroke-width="0.4"/>
<text x="125.8" y="240.0" class="tr" font-size="4.9" text-anchor="middle" stroke="#222" stroke-width="0.1">8</text>
<path d="M131.1 231.4v-1" stroke="#333" stroke-width="0.4"/>
<text x="131.1" y="240.0" class="tr" font-size="4.9" text-anchor="middle" stroke="#222" stroke-width="0.1">9</text>
<path d="M136.4 231.4v-1" stroke="#333" stroke-width="0.4"/>
<text x="136.4" y="240.0" class="tr" font-size="4.9" text-anchor="middle" stroke="#222" stroke-width="0.1">10</text>
<path d="M141.7 231.4v-1" stroke="#333" stroke-width="0.4"/>
<text x="141.7" y="240.0" class="tr" font-size="4.9" text-anchor="middle" stroke="#222" stroke-width="0.1">11</text>
<path d="M147.0 231.4v-1" stroke="#333" stroke-width="0.4"/>
<text x="147.0" y="240.0" class="tr" font-size="4.9" text-anchor="middle" stroke="#222" stroke-width="0.1">12</text>
<text x="115.5" y="245.5" class="tb" font-size="5" text-anchor="middle">Time (h)</text>
<text transform="translate(72.8 200.5) rotate(-90)" class="tb" font-size="4.3" text-anchor="middle">Cumulative release (%)</text>
<path d="M83.4 231.4L86.1 212.0L88.7 206.7L94.0 201.4L104.6 193.4L115.2 190.7L147.0 185.3" fill="none" stroke="#444" stroke-width="0.5"/>
<path d="M83.4 229.4v4" stroke="#555" stroke-width="0.4"/>
<circle cx="83.4" cy="231.4" r="0.95" fill="#111"/>
<path d="M86.1 210.0v4" stroke="#555" stroke-width="0.4"/>
<circle cx="86.1" cy="212.0" r="0.95" fill="#111"/>
<path d="M88.7 204.7v4" stroke="#555" stroke-width="0.4"/>
<circle cx="88.7" cy="206.7" r="0.95" fill="#111"/>
<path d="M94.0 199.4v4" stroke="#555" stroke-width="0.4"/>
<circle cx="94.0" cy="201.4" r="0.95" fill="#111"/>
<path d="M104.6 191.4v4" stroke="#555" stroke-width="0.4"/>
<circle cx="104.6" cy="193.4" r="0.95" fill="#111"/>
<path d="M115.2 188.7v4" stroke="#555" stroke-width="0.4"/>
<circle cx="115.2" cy="190.7" r="0.95" fill="#111"/>
<path d="M147.0 183.3v4" stroke="#555" stroke-width="0.4"/>
<circle cx="147.0" cy="185.3" r="0.95" fill="#111"/>
<path d="M83.4 231.4L86.1 206.0L88.7 197.4L94.0 193.4L104.6 191.7L115.2 190.0L147.0 186.3" fill="none" stroke="#444" stroke-width="0.5"/>
<path d="M83.4 229.4v4" stroke="#555" stroke-width="0.4"/>
<rect x="82.1" y="230.1" width="2.6" height="2.6" fill="#111"/>
<path d="M86.1 204.0v4" stroke="#555" stroke-width="0.4"/>
<rect x="84.8" y="204.7" width="2.6" height="2.6" fill="#111"/>
<path d="M88.7 195.4v4" stroke="#555" stroke-width="0.4"/>
<rect x="87.4" y="196.1" width="2.6" height="2.6" fill="#111"/>
<path d="M94.0 191.4v4" stroke="#555" stroke-width="0.4"/>
<rect x="92.7" y="192.1" width="2.6" height="2.6" fill="#111"/>
<path d="M104.6 189.7v4" stroke="#555" stroke-width="0.4"/>
<rect x="103.3" y="190.4" width="2.6" height="2.6" fill="#111"/>
<path d="M115.2 188.0v4" stroke="#555" stroke-width="0.4"/>
<rect x="113.9" y="188.7" width="2.6" height="2.6" fill="#111"/>
<path d="M147.0 184.3v4" stroke="#555" stroke-width="0.4"/>
<rect x="145.7" y="185.0" width="2.6" height="2.6" fill="#111"/>
</g>
<g id="ring">
<clipPath id="rl"><rect x="200" y="80" width="66" height="125"/></clipPath><clipPath id="rr"><rect x="267.4" y="80" width="66" height="125"/></clipPath>
<path d="M211.05 142.35A55.65 56.1 0 1 0 322.35 142.35A55.65 56.1 0 1 0 211.05 142.35ZM228.30 142.35A38.4 37.05 0 1 0 305.10 142.35A38.4 37.05 0 1 0 228.30 142.35Z" fill-rule="evenodd" fill="#fdecd8" clip-path="url(#rl)"/>
<path d="M211.05 142.35A55.65 56.1 0 1 0 322.35 142.35A55.65 56.1 0 1 0 211.05 142.35ZM228.30 142.35A38.4 37.05 0 1 0 305.10 142.35A38.4 37.05 0 1 0 228.30 142.35Z" fill-rule="evenodd" fill="#c2cfdc" clip-path="url(#rr)"/>
<ellipse cx="266.7" cy="142.35" rx="55.0" ry="55.45" fill="none" stroke="#fae0c0" stroke-width="1.1" clip-path="url(#rl)"/>
<ellipse cx="266.7" cy="142.35" rx="54.9" ry="55.35" fill="none" stroke="#a9bacd" stroke-width="1.5" clip-path="url(#rr)"/>
<ellipse cx="266.7" cy="142.35" rx="33.5" ry="32.5" fill="#e3e3e3"/>
<path id="tpl" d="M265.29 187.13A44.8 44.8 0 0 1 260.31 98.01" fill="none"/>
<path id="tpr" d="M269.59 97.64A44.8 44.8 0 0 1 271.62 186.88" fill="none"/>
<text class="ss" font-size="7.0" dy="2.5" stroke="#222" stroke-width="0.2"><textPath href="#tpl" startOffset="50%" text-anchor="middle">intra-articular local injections</textPath></text>
<text class="ss" font-size="7.0" dy="2.5" stroke="#222" stroke-width="0.2"><textPath href="#tpr" startOffset="50%" text-anchor="middle">intravenous targeted injections</textPath></text>
<text class="sb" font-size="10.25" text-anchor="middle"><tspan x="267.6" y="133.3">injection</tspan><tspan x="267.6" y="145.1">delivery</tspan><tspan x="267.6" y="156.9">systems</tspan></text>
</g>
<text x="321.1" y="10.5" class="sb" font-size="10.8" stroke="#111" stroke-width="0.25">B</text>
<g id="chartB">
<path d="M359.6 12.9V124.7H526.9" fill="none" stroke="#111" stroke-width="1"/>
<path d="M357.0 124.7h2.6" stroke="#111" stroke-width="1"/>
<text x="355.6" y="127.6" class="tb" font-size="8.6" text-anchor="end">0</text>
<path d="M357.0 106.2h2.6" stroke="#111" stroke-width="1"/>
<text x="355.6" y="109.1" class="tb" font-size="8.6" text-anchor="end">20</text>
<path d="M357.0 87.6h2.6" stroke="#111" stroke-width="1"/>
<text x="355.6" y="90.5" class="tb" font-size="8.6" text-anchor="end">40</text>
<path d="M357.0 69.1h2.6" stroke="#111" stroke-width="1"/>
<text x="355.6" y="72.0" class="tb" font-size="8.6" text-anchor="end">60</text>
<path d="M357.0 50.5h2.6" stroke="#111" stroke-width="1"/>
<text x="355.6" y="53.4" class="tb" font-size="8.6" text-anchor="end">80</text>
<path d="M357.0 32.0h2.6" stroke="#111" stroke-width="1"/>
<text x="355.6" y="34.9" class="tb" font-size="8.6" text-anchor="end">100</text>
<path d="M357.0 13.4h2.6" stroke="#111" stroke-width="1"/>
<text x="355.6" y="16.3" class="tb" font-size="8.6" text-anchor="end">120</text>
<path d="M359.6 124.7v2.6" stroke="#111" stroke-width="1"/>
<text x="359.6" y="137.3" class="tb" font-size="8.6" text-anchor="middle">0</text>
<path d="M393.0 124.7v2.6" stroke="#111" stroke-width="1"/>
<text x="393.0" y="137.3" class="tb" font-size="8.6" text-anchor="middle">2</text>
<path d="M426.3 124.7v2.6" stroke="#111" stroke-width="1"/>
<text x="426.3" y="137.3" class="tb" font-size="8.6" text-anchor="middle">4</text>
<path d="M459.7 124.7v2.6" stroke="#111" stroke-width="1"/>
<text x="459.7" y="137.3" class="tb" font-size="8.6" text-anchor="middle">6</text>
<path d="M493.0 124.7v2.6" stroke="#111" stroke-width="1"/>
<text x="493.0" y="137.3" class="tb" font-size="8.6" text-anchor="middle">8</text>
<path d="M526.4 124.7v2.6" stroke="#111" stroke-width="1"/>
<text x="526.4" y="137.3" class="tb" font-size="8.6" text-anchor="middle">10</text>
<text x="443" y="148.8" class="sb" font-size="8.8" text-anchor="middle">Time (h)</text>
<text transform="translate(337.2 66.9) rotate(-90)" class="sb" font-size="8.9" text-anchor="middle">Accumulative release (%)</text>
<path d="M359.6 124.7L367.9 114.5L376.3 109.9L393.0 101.0L426.3 85.7L459.7 72.8L493.0 66.7" fill="none" stroke="#ffb3d4" stroke-width="1.45" stroke-linejoin="round"/>
<path d="M359.6 123.2l1.5 2.6h-3z" fill="#ffb3d4"/>
<path d="M367.9 112.2v4.6M366.5 112.2h2.8M366.5 116.8h2.8" stroke="#ffb3d4" stroke-width="0.95" fill="none"/>
<path d="M367.9 113.0l1.5 2.6h-3z" fill="#ffb3d4"/>
<path d="M376.3 107.5v4.6M374.9 107.5h2.8M374.9 112.2h2.8" stroke="#ffb3d4" stroke-width="0.95" fill="none"/>
<path d="M376.3 108.4l1.5 2.6h-3z" fill="#ffb3d4"/>
<path d="M393.0 97.8v6.5M391.6 97.8h2.8M391.6 104.3h2.8" stroke="#ffb3d4" stroke-width="0.95" fill="none"/>
<path d="M393.0 99.5l1.5 2.6h-3z" fill="#ffb3d4"/>
<path d="M426.3 83.4v4.6M424.9 83.4h2.8M424.9 88.1h2.8" stroke="#ffb3d4" stroke-width="0.95" fill="none"/>
<path d="M426.3 84.2l1.5 2.6h-3z" fill="#ffb3d4"/>
<path d="M459.7 70.4v4.6M458.3 70.4h2.8M458.3 75.1h2.8" stroke="#ffb3d4" stroke-width="0.95" fill="none"/>
<path d="M459.7 71.3l1.5 2.6h-3z" fill="#ffb3d4"/>
<path d="M493.0 63.5v6.5M491.6 63.5h2.8M491.6 70.0h2.8" stroke="#ffb3d4" stroke-width="0.95" fill="none"/>
<path d="M493.0 65.2l1.5 2.6h-3z" fill="#ffb3d4"/>
<path d="M359.6 124.7L367.9 102.4L376.3 93.2L393.0 77.9L426.3 57.9L459.7 46.3L493.0 40.3" fill="none" stroke="#f5157f" stroke-width="1.45" stroke-linejoin="round"/>
<path d="M359.6 123.2l1.5 2.6h-3z" fill="#f5157f"/>
<path d="M367.9 99.7v5.6M366.5 99.7h2.8M366.5 105.2h2.8" stroke="#f5157f" stroke-width="0.95" fill="none"/>
<path d="M367.9 100.9l1.5 2.6h-3z" fill="#f5157f"/>
<path d="M376.3 89.5v7.4M374.9 89.5h2.8M374.9 96.9h2.8" stroke="#f5157f" stroke-width="0.95" fill="none"/>
<path d="M376.3 91.7l1.5 2.6h-3z" fill="#f5157f"/>
<path d="M393.0 72.3v11.1M391.6 72.3h2.8M391.6 83.4h2.8" stroke="#f5157f" stroke-width="0.95" fill="none"/>
<path d="M393.0 76.4l1.5 2.6h-3z" fill="#f5157f"/>
<path d="M426.3 56.1v3.7M424.9 56.1h2.8M424.9 59.8h2.8" stroke="#f5157f" stroke-width="0.95" fill="none"/>
<path d="M426.3 56.4l1.5 2.6h-3z" fill="#f5157f"/>
<path d="M459.7 44.5v3.7M458.3 44.5h2.8M458.3 48.2h2.8" stroke="#f5157f" stroke-width="0.95" fill="none"/>
<path d="M459.7 44.8l1.5 2.6h-3z" fill="#f5157f"/>
<path d="M493.0 36.6v7.4M491.6 36.6h2.8M491.6 44.0h2.8" stroke="#f5157f" stroke-width="0.95" fill="none"/>
<path d="M493.0 38.8l1.5 2.6h-3z" fill="#f5157f"/>
<path d="M359.6 124.7L367.9 60.7L376.3 43.1L393.0 36.1L426.3 35.7L459.7 34.7L493.0 33.3" fill="none" stroke="#2196f3" stroke-width="1.45" stroke-linejoin="round"/>
<rect x="358.0" y="123.1" width="3.2" height="3.2" fill="#2196f3"/>
<path d="M367.9 52.4v16.7M366.5 52.4h2.8M366.5 69.0h2.8" stroke="#2196f3" stroke-width="0.95" fill="none"/>
<rect x="366.3" y="59.1" width="3.2" height="3.2" fill="#2196f3"/>
<path d="M376.3 39.4v7.4M374.9 39.4h2.8M374.9 46.8h2.8" stroke="#2196f3" stroke-width="0.95" fill="none"/>
<rect x="374.7" y="41.5" width="3.2" height="3.2" fill="#2196f3"/>
<path d="M393.0 33.8v4.6M391.6 33.8h2.8M391.6 38.4h2.8" stroke="#2196f3" stroke-width="0.95" fill="none"/>
<rect x="391.4" y="34.5" width="3.2" height="3.2" fill="#2196f3"/>
<path d="M426.3 34.7v1.9M424.9 34.7h2.8M424.9 36.6h2.8" stroke="#2196f3" stroke-width="0.95" fill="none"/>
<rect x="424.7" y="34.1" width="3.2" height="3.2" fill="#2196f3"/>
<path d="M459.7 33.8v1.9M458.3 33.8h2.8M458.3 35.7h2.8" stroke="#2196f3" stroke-width="0.95" fill="none"/>
<rect x="458.1" y="33.1" width="3.2" height="3.2" fill="#2196f3"/>
<path d="M493.0 32.0v2.8M491.6 32.0h2.8M491.6 34.7h2.8" stroke="#2196f3" stroke-width="0.95" fill="none"/>
<rect x="491.4" y="31.7" width="3.2" height="3.2" fill="#2196f3"/>
<path d="M359.6 124.7L367.9 70.0L376.3 56.1L393.0 44.5L426.3 41.2L459.7 37.5L493.0 33.8" fill="none" stroke="#a6a6a6" stroke-width="1.45" stroke-linejoin="round"/>
<circle cx="359.6" cy="124.7" r="1.6" fill="#a6a6a6"/>
<path d="M367.9 64.4v11.1M366.5 64.4h2.8M366.5 75.5h2.8" stroke="#a6a6a6" stroke-width="0.95" fill="none"/>
<circle cx="367.9" cy="70.0" r="1.6" fill="#a6a6a6"/>
<path d="M376.3 49.6v13.0M374.9 49.6h2.8M374.9 62.6h2.8" stroke="#a6a6a6" stroke-width="0.95" fill="none"/>
<circle cx="376.3" cy="56.1" r="1.6" fill="#a6a6a6"/>
<path d="M393.0 41.7v5.6M391.6 41.7h2.8M391.6 47.3h2.8" stroke="#a6a6a6" stroke-width="0.95" fill="none"/>
<circle cx="393.0" cy="44.5" r="1.6" fill="#a6a6a6"/>
<path d="M426.3 40.3v1.9M424.9 40.3h2.8M424.9 42.2h2.8" stroke="#a6a6a6" stroke-width="0.95" fill="none"/>
<circle cx="426.3" cy="41.2" r="1.6" fill="#a6a6a6"/>
<path d="M459.7 36.6v1.9M458.3 36.6h2.8M458.3 38.4h2.8" stroke="#a6a6a6" stroke-width="0.95" fill="none"/>
<circle cx="459.7" cy="37.5" r="1.6" fill="#a6a6a6"/>
<path d="M493.0 32.0v3.7M491.6 32.0h2.8M491.6 35.7h2.8" stroke="#a6a6a6" stroke-width="0.95" fill="none"/>
<circle cx="493.0" cy="33.8" r="1.6" fill="#a6a6a6"/>
<path d="M450 81.4h11.6" stroke="#a6a6a6" stroke-width="1.2"/>
<circle cx="455.8" cy="81.4" r="1.7" fill="#a6a6a6"/>
<text x="469.3" y="84.6" class="sb" font-size="9.35">37 °C Free SIN</text>
<path d="M450 94.1h11.6" stroke="#2196f3" stroke-width="1.2"/>
<rect x="454.2" y="92.5" width="3.2" height="3.2" fill="#2196f3"/>
<text x="469.3" y="97.3" class="sb" font-size="9.35">43 °C Free SIN</text>
<path d="M450 106.7h11.6" stroke="#ffb3d4" stroke-width="1.2"/>
<path d="M455.8 105.0l1.7 2.9h-3.4z" fill="#ffb3d4"/>
<text x="469.3" y="109.9" class="sb" font-size="9.35">37 °C SIN-TSL</text>
<path d="M450 119.4h11.6" stroke="#f5157f" stroke-width="1.2"/>
<path d="M455.8 117.7l1.7 2.9h-3.4z" fill="#f5157f"/>
<text x="469.3" y="122.6" class="sb" font-size="9.35">43 °C SIN-TSL</text>
</g>
<g id="histo">
<defs>
<filter id="hn1" x="0" y="0" width="100%" height="100%"><feTurbulence type="fractalNoise" baseFrequency="0.35" numOctaves="2" seed="4"/><feColorMatrix type="matrix" values="0 0 0 0 1  0 0 0 0 0.74  0 0 0 0 0.87  2.4 0 0 0 -1.05"/></filter>
<filter id="hn2" x="0" y="0" width="100%" height="100%"><feTurbulence type="fractalNoise" baseFrequency="0.3" numOctaves="2" seed="9"/><feColorMatrix type="matrix" values="0 0 0 0 0.68  0 0 0 0 0.36  0 0 0 0 0.74  0 2.4 0 0 -1.05"/></filter>
<filter id="fib" x="-5%" y="-5%" width="110%" height="110%"><feTurbulence type="fractalNoise" baseFrequency="0.14 0.5" numOctaves="2" seed="5" result="n"/><feColorMatrix in="n" type="matrix" values="0 0 0 0 1  0 0 0 0 0.84  0 0 0 0 0.92  3.0 0 0 0 -1.5" result="w"/><feGaussianBlur in="SourceAlpha" stdDeviation="1.3" result="a"/><feComposite in="w" in2="a" operator="in"/></filter>
<filter id="fib2" x="-5%" y="-5%" width="110%" height="110%"><feTurbulence type="fractalNoise" baseFrequency="0.4 0.28" numOctaves="2" seed="12" result="n"/><feColorMatrix in="n" type="matrix" values="0 0 0 0 1  0 0 0 0 0.86  0 0 0 0 0.93  3.0 0 0 0 -1.5" result="w"/><feGaussianBlur in="SourceAlpha" stdDeviation="1.3" result="a"/><feComposite in="w" in2="a" operator="in"/></filter>
<filter id="hb" x="-5%" y="-5%" width="110%" height="110%"><feGaussianBlur stdDeviation="0.45"/></filter>
<filter id="hb2" x="-10%" y="-10%" width="120%" height="120%"><feGaussianBlur stdDeviation="1.6"/></filter>
</defs>
<clipPath id="hc1"><rect x="325.5" y="151.5" width="71.3" height="47.1"/></clipPath>
<g clip-path="url(#hc1)">
<rect x="325.5" y="151.5" width="71.3" height="47.1" fill="#f05a9f"/>
<path d="M331.3 146.4C341.1 144.2 388.8 143.6 400.4 146.4C411.9 149.1 401.9 159.2 400.4 162.7C398.8 166.2 394.3 165.8 391.3 167.3C388.2 168.8 385.5 170.8 382.2 171.8C378.8 172.9 374.9 173.6 371.3 173.6C367.6 173.7 364.0 173.3 360.4 172.2C356.7 171.0 352.6 168.8 349.5 166.7C346.3 164.6 344.3 162.8 341.3 159.5C338.2 156.1 321.4 148.5 331.3 146.4Z" fill="#ef4a9a" opacity="1" filter="url(#hb)"/>
<path d="M320.4 157.3C321.7 150.9 325.8 163.0 328.4 166.4C330.9 169.8 332.6 174.5 335.5 177.6C338.3 180.8 341.7 183.5 345.3 185.3C348.8 187.0 353.0 187.5 356.7 188.2C360.5 188.8 365.8 186.5 367.6 189.3C369.5 192.0 375.5 202.0 367.6 204.5C359.8 207.1 328.2 212.4 320.4 204.5C312.5 196.7 319.0 163.6 320.4 157.3Z" fill="#f2639f" opacity="1" filter="url(#hb)"/>
<path d="M325.8 186.4C328.8 184.4 337.3 187.7 340.4 189.1C343.4 190.5 344.9 192.7 344.0 194.5C343.1 196.4 338.5 198.9 334.9 200.0C331.3 201.1 323.7 203.2 322.2 200.9C320.7 198.6 322.8 188.3 325.8 186.4Z" fill="#e83c7e" opacity="0.8" filter="url(#hb2)"/>
<rect x="325.5" y="151.5" width="71.3" height="47.1" filter="url(#hn1)" opacity="0.35"/>
<path d="M324.0 180.9C327.3 178.2 337.9 184.4 344.0 186.4C350.1 188.3 357.6 190.0 360.4 192.7C363.1 195.5 366.4 201.1 360.4 202.7C354.3 204.4 330.1 206.4 324.0 202.7C317.9 199.1 320.7 183.6 324.0 180.9Z" fill="#fff" opacity="0.6" filter="url(#fib)"/>
<path d="M335.3 150.7L342.2 158.4L351.3 165.6L362.2 170.7L373.1 172.2L384.0 169.6L391.6 165.3L401.3 159.1" fill="none" stroke="#c2479c" stroke-width="0.9" stroke-linejoin="round" filter="url(#hb)"/>
<path d="M359.5 153.6C359.8 152.2 361.8 152.2 363.1 152.5C364.4 152.8 367.0 153.7 367.3 155.5C367.6 157.2 365.9 162.2 364.9 163.1C363.9 164.0 362.2 162.5 361.3 160.9C360.4 159.3 359.2 155.0 359.5 153.6Z" fill="#fff" opacity="0.8" filter="url(#fib2)"/>
<path d="M318.5 144.5C321.3 143.6 332.5 147.0 335.3 148.2C338.1 149.3 334.1 149.6 335.3 151.5C336.4 153.3 339.5 156.6 342.2 159.1C344.8 161.6 347.9 164.3 351.3 166.4C354.6 168.4 358.5 170.4 362.2 171.5C365.8 172.5 369.5 173.1 373.1 172.9C376.7 172.7 380.9 171.5 384.0 170.4C387.1 169.2 388.8 167.7 391.6 166.0C394.5 164.3 399.7 158.1 401.3 160.0C402.9 161.9 402.6 174.0 401.3 177.3C399.9 180.5 395.7 178.5 393.1 179.5C390.5 180.4 388.2 181.9 385.8 183.1C383.4 184.3 381.6 185.8 378.5 186.7C375.5 187.7 371.0 188.4 367.6 188.7C364.3 189.0 361.0 188.7 358.4 188.5C355.7 188.4 354.0 188.5 351.8 188.0C349.6 187.5 347.1 186.2 345.3 185.3C343.5 184.4 342.5 183.8 340.9 182.5C339.3 181.3 336.8 179.2 335.5 177.6C334.1 176.0 333.9 174.8 332.7 172.9C331.5 171.0 329.6 168.5 328.4 166.4C327.2 164.3 327.1 162.5 325.5 160.4C323.8 158.2 319.7 156.3 318.5 153.6C317.4 151.0 315.8 145.5 318.5 144.5Z" fill="#dedad7" opacity="1" filter="url(#hb)"/>
<path d="M329.1 195.1C329.5 194.8 330.9 194.8 331.3 195.1C331.6 195.4 331.6 196.6 331.3 196.9C330.9 197.2 329.5 197.2 329.1 196.9C328.7 196.6 328.7 195.4 329.1 195.1Z" fill="#f01830" opacity="1"/>
<path d="M385.5 196.5L392.4 196.5" stroke="#111" stroke-width="0.7"/>
</g>
<clipPath id="hc2"><rect x="398.8" y="151.5" width="73.2" height="47.1"/></clipPath>
<g clip-path="url(#hc2)">
<rect x="398.8" y="151.5" width="73.2" height="47.1" fill="#e768aa"/>
<path d="M393.4 146.4C398.8 142.1 421.8 143.9 426.1 146.4C430.3 148.8 421.8 157.0 418.8 160.9C415.8 164.8 412.2 168.2 407.9 170.0C403.7 171.8 395.8 175.8 393.4 171.8C390.9 167.9 387.9 150.6 393.4 146.4Z" fill="#e8508f" opacity="0.9" filter="url(#hb2)"/>
<path d="M451.5 182.7C456.1 178.8 471.2 177.3 475.2 180.9C479.1 184.5 479.7 200.6 475.2 204.5C470.6 208.5 451.8 208.2 447.9 204.5C444.0 200.9 447.0 186.7 451.5 182.7Z" fill="#e8508c" opacity="0.9" filter="url(#hb2)"/>
<path d="M415.2 177.3C419.4 175.9 439.7 176.7 444.3 178.2C448.8 179.7 446.7 185.0 442.5 186.4C438.2 187.7 423.4 187.9 418.8 186.4C414.3 184.8 410.9 178.6 415.2 177.3Z" fill="#b858a0" opacity="0.7" filter="url(#hb2)"/>
<path d="M395.2 186.4C400.0 183.8 414.9 186.2 424.3 187.3C433.7 188.3 447.3 190.2 451.5 192.7C455.8 195.3 459.1 201.1 449.7 202.7C440.3 204.4 404.3 205.5 395.2 202.7C386.1 200.0 390.3 188.9 395.2 186.4Z" fill="#f2a8c8" opacity="0.8" filter="url(#hb2)"/>
<path d="M429.7 153.6C431.1 152.0 435.2 151.1 438.8 150.9C442.5 150.8 449.1 150.8 451.5 152.7C454.0 154.7 454.3 159.8 453.4 162.7C452.5 165.6 449.0 169.1 446.1 170.0C443.2 170.9 438.7 169.7 436.1 168.2C433.5 166.7 431.7 163.3 430.6 160.9C429.6 158.5 428.4 155.3 429.7 153.6Z" fill="#f6d4e4" opacity="0.75" filter="url(#hb2)"/>
<rect x="398.8" y="151.5" width="73.2" height="47.1" filter="url(#hn1)" opacity="0.8"/>
<rect x="398.8" y="151.5" width="73.2" height="47.1" filter="url(#hn2)" opacity="0.35"/>
<path d="M398.8 164.9C402.5 165.6 413.4 169.9 420.6 172.2C427.9 174.4 433.7 177.7 442.5 178.4C451.2 179.0 468.2 176.2 473.4 176.2C478.5 176.2 478.5 177.6 473.4 178.4C468.2 179.1 451.4 181.2 442.5 180.5C433.5 179.9 427.0 176.8 419.7 174.7C412.5 172.6 402.3 169.5 398.8 167.8C395.3 166.2 395.2 164.2 398.8 164.9Z" fill="#f4c4da" opacity="0.85" filter="url(#hb)"/>
<ellipse cx="432.6" cy="154.7" rx="2.2" ry="1.5" transform="rotate(20 432.6 154.7)" fill="#f9eaf2" stroke="#c77ab9" stroke-width="0.5" filter="url(#hb)"/>
<ellipse cx="439.2" cy="158.4" rx="2.8" ry="1.6" transform="rotate(-30 439.2 158.4)" fill="#f9eaf2" stroke="#c77ab9" stroke-width="0.5" filter="url(#hb)"/>
<ellipse cx="445.7" cy="155.1" rx="1.9" ry="1.4" transform="rotate(10 445.7 155.1)" fill="#f9eaf2" stroke="#c77ab9" stroke-width="0.5" filter="url(#hb)"/>
<ellipse cx="450.1" cy="161.3" rx="2.4" ry="1.5" transform="rotate(-45 450.1 161.3)" fill="#f9eaf2" stroke="#c77ab9" stroke-width="0.5" filter="url(#hb)"/>
<ellipse cx="442.8" cy="166.0" rx="2.0" ry="1.3" transform="rotate(30 442.8 166.0)" fill="#f9eaf2" stroke="#c77ab9" stroke-width="0.5" filter="url(#hb)"/>
<ellipse cx="435.9" cy="164.5" rx="1.6" ry="1.2" transform="rotate(0 435.9 164.5)" fill="#f9eaf2" stroke="#c77ab9" stroke-width="0.5" filter="url(#hb)"/>
<ellipse cx="454.8" cy="154.4" rx="1.8" ry="1.2" transform="rotate(-20 454.8 154.4)" fill="#f9eaf2" stroke="#c77ab9" stroke-width="0.5" filter="url(#hb)"/>
<ellipse cx="458.5" cy="162.7" rx="1.6" ry="1.1" transform="rotate(40 458.5 162.7)" fill="#f9eaf2" stroke="#c77ab9" stroke-width="0.5" filter="url(#hb)"/>
<ellipse cx="427.9" cy="157.3" rx="1.5" ry="1.0" transform="rotate(-40 427.9 157.3)" fill="#f9eaf2" stroke="#c77ab9" stroke-width="0.5" filter="url(#hb)"/>
<circle cx="416.1" cy="174.0" r="2.1" fill="none" stroke="#1a1020" stroke-width="0.9"/>
<path d="M421.0 167.5C421.9 167.2 425.1 168.5 427.0 169.6C428.9 170.8 431.9 173.1 432.6 174.4C433.4 175.6 432.6 177.2 431.5 177.3C430.5 177.4 427.8 176.2 426.1 175.1C424.4 174.0 422.4 172.2 421.5 170.9C420.7 169.6 420.1 167.7 421.0 167.5Z" fill="none" stroke="#ffd21e" stroke-width="1.0" stroke-dasharray="1.2 0.6"/>
<path d="M461.0 196.5L467.5 196.5" stroke="#111" stroke-width="0.7"/>
</g>
<clipPath id="hc3"><rect x="473.8" y="151.5" width="71.8" height="47.1"/></clipPath>
<g clip-path="url(#hc3)">
<rect x="473.8" y="151.5" width="71.8" height="47.1" fill="#ea6cab"/>
<path d="M468.4 146.4C482.0 143.9 536.5 144.8 550.2 146.4C563.8 147.9 554.1 153.3 550.2 155.5C546.2 157.6 535.0 157.9 526.5 159.1C518.1 160.3 509.0 162.4 499.3 162.7C489.6 163.0 473.5 163.6 468.4 160.9C463.2 158.2 454.7 148.8 468.4 146.4Z" fill="#f04f9b" opacity="1" filter="url(#hb2)"/>
<path d="M468.4 170.0C470.4 164.5 477.7 171.0 480.7 171.6C483.8 172.3 484.8 172.7 486.5 173.8C488.2 174.9 489.5 176.6 490.9 178.2C492.4 179.8 493.7 181.6 495.3 183.3C496.8 185.0 498.4 186.9 500.4 188.4C502.3 189.8 504.4 191.0 506.9 192.0C509.5 193.0 514.2 192.3 515.6 194.4C517.1 196.5 523.5 202.8 515.6 204.5C507.8 206.2 476.2 210.3 468.4 204.5C460.5 198.8 466.3 175.5 468.4 170.0Z" fill="#e23a80" opacity="1" filter="url(#hb)"/>
<path d="M526.5 171.8C531.1 168.8 546.2 165.5 550.2 168.2C554.1 170.9 552.9 184.1 550.2 188.2C547.5 192.3 538.4 193.0 533.8 192.7C529.3 192.4 524.1 189.8 522.9 186.4C521.7 182.9 522.0 174.8 526.5 171.8Z" fill="#ea86b8" opacity="0.8" filter="url(#hb2)"/>
<rect x="473.8" y="151.5" width="71.8" height="47.1" filter="url(#hn1)" opacity="0.4"/>
<path d="M472.0 171.8C474.1 166.8 481.1 170.6 484.7 172.7C488.4 174.8 489.9 180.8 493.8 184.5C497.8 188.3 505.9 192.4 508.4 195.5C510.8 198.5 514.4 201.5 508.4 202.7C502.3 203.9 478.1 207.9 472.0 202.7C465.9 197.6 469.9 176.8 472.0 171.8Z" fill="#fff" opacity="0.55" filter="url(#fib2)"/>
<path d="M470.2 184.5L482.9 186.4L495.6 190.9L508.4 195.8" fill="none" stroke="#f3dce6" stroke-width="0.7" stroke-linejoin="round" filter="url(#hb)"/>
<path d="M486.5 157.3L508.4 162.7L526.5 167.3L541.1 166.4" fill="none" stroke="#f6b4d2" stroke-width="2.2" stroke-linejoin="round" filter="url(#hb2)"/>
<path d="M468.4 168.0C469.3 167.6 471.6 168.2 474.2 168.4C476.7 168.5 480.8 168.6 483.6 169.0C486.4 169.4 488.5 170.0 490.9 170.9C493.3 171.8 496.0 173.2 498.2 174.5C500.4 175.9 502.1 177.2 504.0 178.9C505.9 180.6 507.9 182.9 509.8 184.7C511.8 186.5 513.7 188.5 515.6 189.8C517.6 191.2 518.4 192.2 521.5 192.7C524.5 193.3 529.8 194.2 533.8 193.3C537.8 192.4 542.9 188.7 545.6 187.3C548.4 185.9 549.4 184.7 550.2 184.9C550.9 185.1 550.9 187.6 550.2 188.5C549.4 189.5 549.6 189.2 545.6 190.4C541.7 191.6 530.6 195.1 526.5 195.8C522.5 196.5 523.3 194.9 521.5 194.5C519.6 194.2 518.1 194.1 515.6 193.6C513.2 193.2 509.5 192.9 506.9 192.0C504.4 191.1 502.3 189.8 500.4 188.4C498.4 186.9 496.8 185.0 495.3 183.3C493.7 181.6 492.4 179.8 490.9 178.2C489.5 176.6 488.2 174.9 486.5 173.8C484.8 172.7 482.8 172.1 480.7 171.6C478.7 171.2 476.2 171.1 474.2 170.9C472.1 170.7 469.3 171.0 468.4 170.5C467.4 170.1 467.4 168.4 468.4 168.0Z" fill="#dedad7" opacity="1" filter="url(#hb)"/>
<circle cx="506.5" cy="179.6" r="2.1" fill="none" stroke="#1a1020" stroke-width="0.9"/>
<path d="M519.6 192.9C519.9 192.1 522.7 191.0 524.7 190.7C526.8 190.4 530.3 190.7 532.0 191.1C533.7 191.5 535.2 192.5 534.9 193.3C534.6 194.0 532.2 195.1 530.2 195.5C528.2 195.8 524.7 195.9 522.9 195.5C521.2 195.0 519.3 193.7 519.6 192.9Z" fill="none" stroke="#ffd21e" stroke-width="1.0" stroke-dasharray="1.2 0.6"/>
<path d="M534.7 197.6L542.0 197.6" stroke="#111" stroke-width="0.7"/>
</g>
<clipPath id="hc4"><rect x="325.5" y="211.3" width="71.3" height="47.2"/></clipPath>
<g clip-path="url(#hc4)">
<rect x="325.5" y="211.3" width="71.3" height="47.2" fill="#f0459a"/>
<path d="M378.8 207.1C382.9 203.4 396.1 204.0 399.6 207.1C403.1 210.3 401.8 222.6 399.6 226.0C397.4 229.4 390.5 227.0 386.4 227.5C382.3 228.1 376.3 232.8 375.0 229.4C373.8 226.0 374.7 210.8 378.8 207.1Z" fill="#e85c9c" opacity="1" filter="url(#hb2)"/>
<path d="M350.5 252.1C353.1 248.7 356.1 245.8 359.0 243.4C361.8 241.0 364.5 239.5 367.5 237.7C370.5 236.0 373.5 234.0 376.9 233.0C380.4 232.0 384.5 231.8 388.3 231.5C392.1 231.1 397.7 225.5 399.6 230.9C401.5 236.3 409.1 258.3 399.6 263.8C390.2 269.3 351.1 265.8 342.9 263.8C334.7 261.9 347.8 255.5 350.5 252.1Z" fill="#e467a6" opacity="1" filter="url(#hb)"/>
<path d="M335.3 218.5C339.4 216.2 352.0 214.4 356.1 216.6C360.2 218.8 360.5 226.6 359.9 231.7C359.3 236.7 356.5 244.6 352.4 246.8C348.3 249.0 338.8 247.8 335.3 244.9C331.9 242.1 331.6 234.2 331.6 229.8C331.6 225.4 331.2 220.7 335.3 218.5Z" fill="#f6a8c8" opacity="0.22" filter="url(#hb2)"/>
<rect x="325.5" y="211.3" width="71.3" height="47.2" filter="url(#hn1)" opacity="0.3"/>
<path d="M333.5 216.6C337.9 214.0 352.4 212.5 357.1 214.7C361.8 216.9 362.3 224.3 361.8 229.8C361.3 235.3 358.7 244.9 354.2 247.8C349.8 250.6 339.3 249.8 335.3 246.8C331.4 243.8 330.9 234.8 330.6 229.8C330.3 224.8 329.0 219.1 333.5 216.6Z" fill="#fff" opacity="0.68" filter="url(#fib2)"/>
<path d="M371.3 212.8C373.1 210.3 383.9 209.0 386.4 210.9C388.9 212.8 388.3 221.6 386.4 224.1C384.5 226.6 377.6 227.9 375.0 226.0C372.5 224.1 369.4 215.3 371.3 212.8Z" fill="#fff" opacity="0.4" filter="url(#fib)"/>
<path d="M347.6 249.8C348.6 247.9 353.1 242.9 356.1 240.2C359.1 237.5 362.4 235.3 365.6 233.6C368.7 231.8 371.6 230.7 375.0 229.8C378.5 228.8 382.3 228.7 386.4 227.9C390.5 227.1 397.4 224.9 399.6 225.3C401.8 225.6 401.5 229.2 399.6 230.2C397.7 231.1 392.1 230.6 388.3 230.9C384.5 231.3 380.4 231.3 376.9 232.3C373.5 233.2 370.5 234.7 367.5 236.4C364.5 238.1 361.9 239.7 359.0 242.3C356.1 244.8 352.0 250.5 350.1 251.7C348.2 253.0 346.6 251.8 347.6 249.8Z" fill="#dedad7" opacity="1" filter="url(#hb)"/>
<circle cx="355.2" cy="252.1" r="2.1" fill="none" stroke="#1a1020" stroke-width="0.9"/>
<path d="M359.0 246.8C359.6 245.4 362.6 243.8 364.6 242.6C366.7 241.5 370.0 239.6 371.3 239.6C372.6 239.6 373.2 241.3 372.4 242.6C371.6 244.0 368.5 246.4 366.5 247.8C364.6 249.1 362.1 251.1 360.9 251.0C359.6 250.8 358.3 248.2 359.0 246.8Z" fill="none" stroke="#ffd21e" stroke-width="1.0" stroke-dasharray="1.2 0.6"/>
<path d="M387.3 256.3L394.3 256.3" stroke="#111" stroke-width="0.7"/>
</g>
<clipPath id="hc5"><rect x="399.3" y="211.3" width="72.4" height="47.2"/></clipPath>
<g clip-path="url(#hc5)">
<rect x="399.3" y="211.3" width="72.4" height="47.2" fill="#ef559d"/>
<path d="M395.1 207.1C399.0 203.0 415.3 204.9 418.7 207.1C422.2 209.3 417.6 216.6 415.9 220.3C414.2 224.1 411.8 227.9 408.3 229.8C404.9 231.7 397.3 235.5 395.1 231.7C392.9 227.9 391.2 211.2 395.1 207.1Z" fill="#f4cfe0" opacity="0.9" filter="url(#hb2)"/>
<path d="M427.2 207.1C432.8 204.9 455.9 204.6 461.3 207.1C466.6 209.6 461.0 218.5 459.4 222.2C457.8 226.0 455.9 228.7 451.8 229.8C447.7 230.9 438.7 230.4 434.8 228.8C430.9 227.3 429.5 224.0 428.2 220.3C426.9 216.7 421.7 209.3 427.2 207.1Z" fill="#eadfe6" opacity="0.95" filter="url(#hb2)"/>
<path d="M395.1 235.5C399.2 230.7 413.1 230.1 419.7 231.7C426.3 233.3 435.4 241.0 434.8 244.9C434.2 248.9 422.5 252.8 415.9 255.3C409.3 257.8 398.6 263.3 395.1 260.0C391.6 256.7 391.0 240.2 395.1 235.5Z" fill="#f07fb0" opacity="0.8" filter="url(#hb2)"/>
<rect x="399.3" y="211.3" width="72.4" height="47.2" filter="url(#hn1)" opacity="0.35"/>
<path d="M395.1 207.1C399.0 203.0 415.3 204.9 418.7 207.1C422.2 209.3 417.6 216.6 415.9 220.3C414.2 224.1 411.8 227.9 408.3 229.8C404.9 231.7 397.3 235.5 395.1 231.7C392.9 227.9 391.2 211.2 395.1 207.1Z" fill="#fff" opacity="0.9" filter="url(#fib2)"/>
<path d="M427.2 207.1C432.8 204.9 455.9 204.6 461.3 207.1C466.6 209.6 461.0 218.5 459.4 222.2C457.8 226.0 455.9 228.7 451.8 229.8C447.7 230.9 438.7 230.4 434.8 228.8C430.9 227.3 429.5 224.0 428.2 220.3C426.9 216.7 421.7 209.3 427.2 207.1Z" fill="#c9c0cc" opacity="0.9" filter="url(#fib2)"/>
<path d="M395.1 247.8L412.1 244.9L431.0 241.1L440.5 237.4" fill="none" stroke="#f7b6d3" stroke-width="2.0" stroke-linejoin="round" filter="url(#hb2)"/>
<path d="M408.3 258.5C406.5 257.3 411.5 256.5 415.9 254.4C420.3 252.3 429.1 248.2 434.8 245.9C440.5 243.5 445.5 242.2 449.9 240.2C454.3 238.1 457.5 236.1 461.3 233.6C465.1 231.1 470.7 225.1 472.6 225.3C474.5 225.4 473.9 232.2 472.6 234.5C471.4 236.9 467.9 237.4 465.1 239.2C462.2 241.1 459.1 243.8 455.6 245.9C452.1 247.9 448.4 249.6 444.3 251.7C440.2 253.8 433.9 256.8 431.0 258.5C428.2 260.2 431.0 261.9 427.2 261.9C423.5 261.9 410.2 259.8 408.3 258.5Z" fill="#dedad7" opacity="1" filter="url(#hb)"/>
<path d="M432.9 217.5C433.5 216.9 434.1 215.6 434.8 215.6C435.5 215.6 436.4 217.0 437.1 217.5C437.8 218.0 439.0 218.4 439.0 218.8C439.0 219.3 437.7 219.7 437.1 220.3C436.4 221.0 435.8 222.6 435.2 222.6C434.6 222.6 434.3 220.9 433.7 220.3C433.0 219.8 431.5 219.7 431.4 219.2C431.3 218.7 432.3 218.1 432.9 217.5Z" fill="#5a4a5a" opacity="0.8" filter="url(#hb)"/>
<circle cx="459.4" cy="241.1" r="2.1" fill="none" stroke="#1a1020" stroke-width="0.9"/>
<path d="M440.9 239.2C441.7 238.0 444.6 237.5 446.5 237.4C448.4 237.2 451.3 237.6 452.2 238.5C453.1 239.4 453.1 242.1 452.2 242.6C451.3 243.2 448.3 241.2 446.5 241.5C444.8 241.8 442.6 244.9 441.6 244.5C440.7 244.2 440.0 240.4 440.9 239.2Z" fill="none" stroke="#ffd21e" stroke-width="1.0" stroke-dasharray="1.2 0.6"/>
<path d="M463.2 256.3L469.2 256.3" stroke="#111" stroke-width="0.7"/>
</g>
<clipPath id="hc6"><rect x="473.9" y="211.3" width="71.6" height="47.0"/></clipPath>
<g clip-path="url(#hc6)">
<rect x="473.9" y="211.3" width="71.6" height="47.0" fill="#f0489a"/>
<path d="M470.1 207.1C474.5 203.6 492.5 205.2 496.6 207.1C500.7 209.0 496.3 215.3 494.7 218.5C493.1 221.6 491.3 224.5 487.2 226.0C483.0 227.6 472.9 231.1 470.1 227.9C467.3 224.8 465.7 210.6 470.1 207.1Z" fill="#f391ba" opacity="0.85" filter="url(#hb2)"/>
<path d="M500.4 214.7C505.1 212.2 520.9 212.5 528.8 212.8C536.7 213.1 544.6 215.0 547.8 216.6C550.9 218.2 552.5 220.7 547.8 222.3C543.0 223.8 527.2 224.7 519.3 225.7C511.5 226.6 503.6 229.8 500.4 227.9C497.3 226.1 495.7 217.2 500.4 214.7Z" fill="#e8488a" opacity="0.7" filter="url(#hb2)"/>
<rect x="473.9" y="211.3" width="71.6" height="47.0" filter="url(#hn1)" opacity="0.3"/>
<path d="M470.1 216.6L481.5 218.5L490.9 212.8L496.6 207.1" fill="none" stroke="#f8c3da" stroke-width="2.0" stroke-linejoin="round" filter="url(#hb2)"/>
<path d="M470.1 223.2L483.4 224.2L492.8 219.4L500.4 212.8" fill="none" stroke="#f8b8d4" stroke-width="1.6" stroke-linejoin="round" filter="url(#hb2)"/>
<path d="M481.5 262.0C479.0 257.9 482.5 242.8 483.7 237.4C484.9 232.0 486.9 230.5 488.7 229.5C490.4 228.4 492.4 231.1 494.3 231.0C496.3 230.8 496.2 229.6 500.4 228.7C504.6 227.8 513.7 226.6 519.3 225.7C525.0 224.7 529.8 223.8 534.5 223.0C539.2 222.3 545.5 220.5 547.8 221.1C550.0 221.8 550.0 225.3 547.8 226.8C545.5 228.3 538.0 229.3 534.5 230.2C531.0 231.2 529.4 231.4 526.9 232.5C524.4 233.6 522.2 234.9 519.3 236.7C516.5 238.4 512.4 240.9 509.9 243.1C507.4 245.3 505.8 247.5 504.2 249.7C502.6 251.9 501.4 254.3 500.4 256.3C499.5 258.4 501.7 261.1 498.5 262.0C495.4 263.0 483.9 266.1 481.5 262.0Z" fill="#dedad7" opacity="1" filter="url(#hb)"/>
<path d="M516.7 249.7C517.5 247.7 520.0 246.8 521.6 246.5C523.3 246.2 525.6 246.5 526.5 247.8C527.5 249.2 527.9 252.7 527.3 254.5C526.7 256.3 524.8 257.9 523.1 258.6C521.4 259.3 518.1 260.1 517.1 258.6C516.0 257.1 515.9 251.7 516.7 249.7Z" fill="#a060ac" opacity="0.9" filter="url(#hb)"/>
<path d="M528.1 244.0C528.7 241.9 530.8 241.0 532.2 240.8C533.6 240.7 535.6 241.1 536.4 243.1C537.2 245.0 537.4 250.3 536.8 252.6C536.1 254.8 534.0 256.5 532.6 256.7C531.2 256.9 529.2 255.8 528.4 253.7C527.7 251.6 527.4 246.2 528.1 244.0Z" fill="#a060ac" opacity="0.9" filter="url(#hb)"/>
<path d="M536.4 256.7L543.0 256.7" stroke="#111" stroke-width="0.7"/>
</g>
</g>
<text x="361.5" y="209.2" class="sb" font-size="9.1" text-anchor="middle">Normal</text>
<text x="435.7" y="209.2" class="sb" font-size="9.1" text-anchor="middle">PBS</text>
<text x="510" y="209.2" class="sb" font-size="9.1" text-anchor="middle">HT(+)</text>
<text x="361" y="268.6" class="sb" font-size="9.1" text-anchor="middle">Free SIN</text>
<text x="433.8" y="268.6" class="sb" font-size="9.1" text-anchor="middle">SIN-TSL/HT(-)</text>
<text x="510" y="268.6" class="sb" font-size="9.1" text-anchor="middle">SIN-TSL/HT(+)</text>
</svg></body></html>
